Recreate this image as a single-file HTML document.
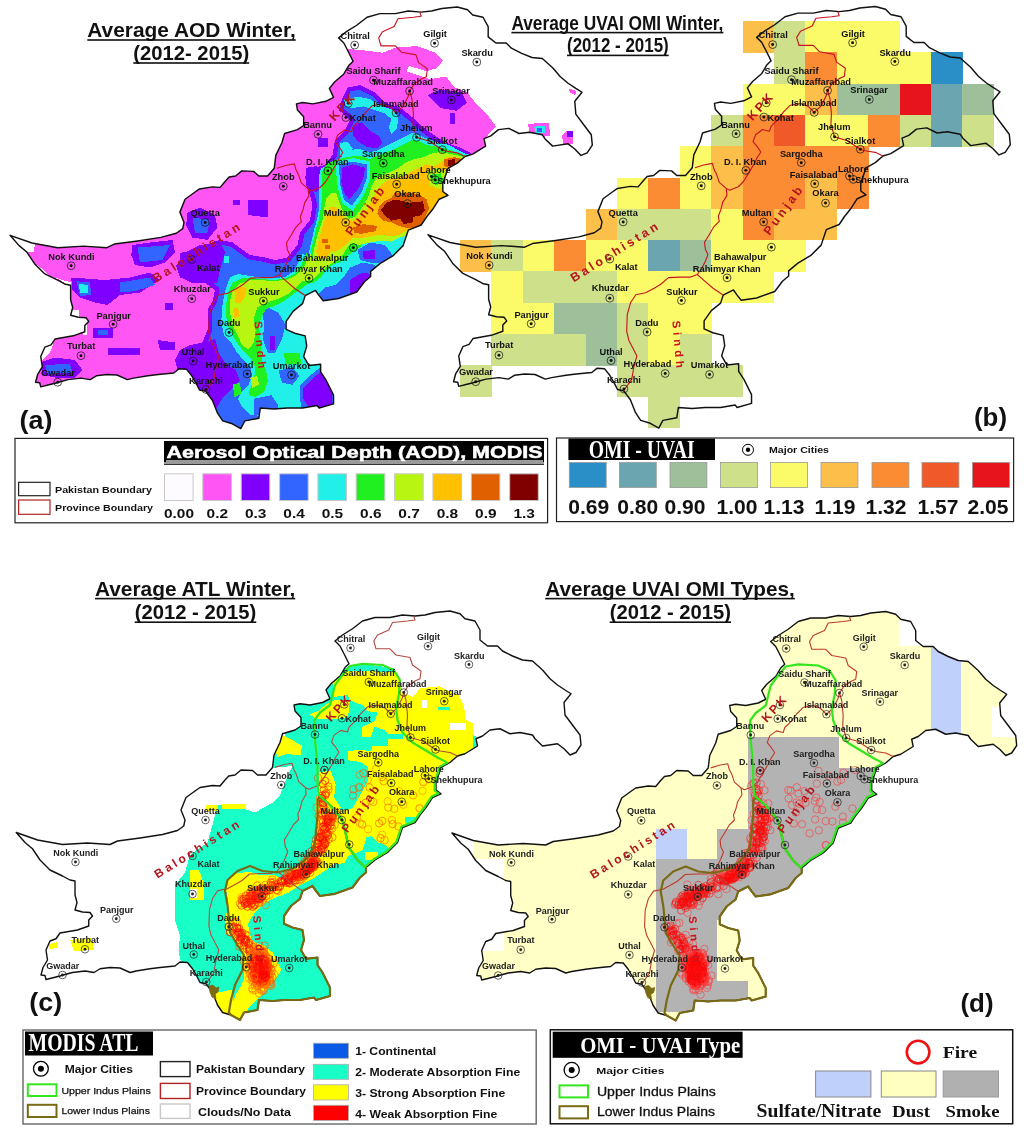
<!DOCTYPE html>
<html><head><meta charset="utf-8"><title>Pakistan aerosol maps</title>
<style>
html,body{margin:0;padding:0;background:#fff}
svg{display:block}
text{font-family:"Liberation Sans",sans-serif}
.b{font-weight:bold}
.ser{font-family:"Liberation Serif",serif;font-weight:bold}
</style></head><body>
<svg width="1024" height="1130" viewBox="0 0 1024 1130">
<rect width="1024" height="1130" fill="#fff"/>
<defs>
<polygon id="pk" points="16.25,832.5 37.5,840 62.5,844.5 87.5,843 110,844.5 117.5,841 140,838 162.5,834.5 177.5,830.5 183.75,826 185,820 181,810 186,797.5 195,791 200,787.5 212.5,785.5 220,786 225,780 228.75,776 235,775 241,770 252.5,770.5 257.5,775 266,775 272.5,767.5 274,755 280,742.5 282.5,733.75 295,730 301,726 301,717.5 295,711 294,705 300,703.75 310,705 322.5,702.5 330,698.75 326,690 331,683.75 340,676 345,667.5 349,663.75 344,653.75 340,646 335,641 342.5,635 352.5,628.75 362.5,621 375,617.5 390,617.5 402.5,615 415,616 425,615 435,612.5 450,611 460,613.75 465,618.75 475,621 480,630 480,640 487.5,646 497.5,646 502.5,651 512.5,656 522.5,660 532.5,661 542.5,670 550,678.75 557.5,685 565,690 571,693.75 564,702.5 565,715 572.5,725 580,735 581,745 576,752.5 570,755 564,748.75 557.5,743.75 542.5,746 535,738.75 532.5,735 520,732.5 510,733.75 500,728.75 490,730 482.5,736 476,738.75 477.5,746 465,753.75 457.5,756 450,762.5 441,767.5 436,782.5 436,790 441,793.75 432.5,797.5 426,807.5 420,815 415,822.5 402.5,827.5 397.5,842.5 387.5,852.5 375,860 366,867.5 366,872.5 360,877.5 352.5,887.5 335,893.75 320,896 316,891 312.5,886 302.5,891 300,898.75 291,906 284,916 284,923.75 292.5,927.5 302.5,930 304,940 301,950 306,958.75 317.5,957.5 317.5,965 322.5,972.5 330,987.5 330,996 316,1000 314,997.5 300,1000 285,1000 272.5,1001 259,1000 257.5,1010 244,1012.5 240,1020 231,1015 222.5,1012.5 217.5,1005 212.5,992.5 206,983.75 200,982.5 197.5,977.5 192.5,968.75 187.5,962.5 180,962 175,966 160,967.5 150,968.75 136,971 130,972.5 120,968 110,967.5 100,968.75 94,972.5 85,971 72.5,972.5 65,974.5 60,976 54,977.5 46,979.5 45,975.5 41,975 43,967.5 47.5,960 46,950 50,941 56,938.75 60,933 77.5,930 88.75,926 88.75,920 92.5,916 90,912.5 82.5,912 75,910 77,902.5 75,895 75,881 70,880 62.5,876 50,870 40,860 32.5,848.75 25,842.5"/>
<clipPath id="cpk"><use href="#pk"/></clipPath>
</defs>

<defs><clipPath id="cpa"><use href="#pk" transform="matrix(1.031 0 0 1.031 -6.7 -623)"/></clipPath><clipPath id="cpd"><use href="#pk" transform="matrix(1 0 0 1 435.7 0.5)"/></clipPath><clipPath id="cpc"><use href="#pk" transform="matrix(1 0 0 1 0 0)"/></clipPath></defs>
<g clip-path="url(#cpa)" shape-rendering="crispEdges"><rect x="0" y="0" width="600" height="440" fill="#ff55f5"/>
<polygon fill="#ffffff" points="330.0,39.6 345.8,48.8 361.6,50.1 382.7,52.7 395.9,47.5 417.0,46.1 435.5,52.7 443.4,60.6 435.5,68.6 426.2,71.2 409.1,65.9 406.5,71.2 422.3,76.5 430.2,79.1 446.0,76.5 453.9,87.0 467.1,92.3 477.7,105.5 488.2,116.0 496.1,126.6 488.2,134.5 484.2,142.4 514.6,131.8 600.0,163.5 600.0,-5.3 330.0,-5.3"/>
<polygon fill="#ff55f5" points="527.8,123.9 548.8,122.6 550.2,135.8 540.9,137.1 530.4,135.8"/>
<polygon fill="#20f0e8" points="534.3,126.6 544.9,126.0 544.9,133.2 535.7,133.2"/>
<polygon fill="#3264ff" points="537.0,127.9 542.3,127.9 542.3,131.8 537.0,131.8"/>
<polygon fill="#ff55f5" points="562.0,135.8 567.3,130.5 572.6,131.8 572.6,143.7 563.3,143.7"/>
<polygon fill="#8000ff" points="567.3,131.3 572.6,131.3 572.6,137.1 567.3,137.1"/>
<polygon fill="#ff55f5" points="568.6,88.3 576.5,91.0 575.2,94.9 569.9,92.8"/>
<polygon fill="#8000ff" points="427.6,94.9 440.7,89.6 461.8,92.3 467.1,102.8 456.6,110.7 440.7,108.1 434.2,101.5"/>
<polygon fill="#8000ff" points="450.0,113.4 455.2,113.4 455.2,123.9 450.0,123.9"/>
<polygon fill="#8000ff" points="71.2,277.5 105.0,280.0 130.0,277.5 150.0,272.5 160.0,280.0 140.0,292.5 120.0,295.0 107.5,305.0 95.0,302.5 80.0,297.5 72.5,290.0"/>
<polygon fill="#3264ff" points="76.2,281.2 90.0,282.5 91.2,295.0 80.0,296.2"/>
<polygon fill="#20f0e8" points="78.8,283.8 87.5,285.0 87.5,292.5 80.0,292.5"/>
<polygon fill="#3264ff" points="120.0,282.5 150.0,277.5 155.0,285.0 135.0,291.2 120.0,292.5"/>
<polygon fill="#8000ff" points="132.5,245.0 150.0,242.5 172.5,240.0 175.0,252.5 165.0,262.5 150.0,267.5 135.0,265.0 131.2,255.0"/>
<polygon fill="#3264ff" points="137.5,247.5 170.0,245.0 162.5,260.0 140.0,262.5"/>
<polygon fill="#8000ff" points="187.5,212.5 200.0,207.5 215.0,215.0 217.5,227.5 207.5,240.0 192.5,237.5 186.2,225.0"/>
<polygon fill="#3264ff" points="192.5,217.5 210.0,220.0 207.5,232.5 195.0,232.5"/>
<polygon fill="#8000ff" points="92.5,327.5 112.5,327.5 112.5,337.5 92.5,337.5"/>
<polygon fill="#3264ff" points="97.5,330.0 107.5,330.0 107.5,335.0 97.5,335.0"/>
<polygon fill="#8000ff" points="40.0,362.5 55.0,357.5 75.0,360.0 82.5,370.0 75.0,377.5 55.0,377.5 42.5,375.0"/>
<polygon fill="#3264ff" points="45.0,365.0 70.0,363.8 72.5,372.5 47.5,373.8"/>
<polygon fill="#8000ff" points="107.5,347.5 140.0,347.5 140.0,355.0 107.5,355.0"/>
<polygon fill="#8000ff" points="157.5,340.0 175.0,342.5 175.0,350.0 160.0,350.0"/>
<polygon fill="#8000ff" points="165.0,302.5 172.5,302.5 172.5,310.0 165.0,310.0"/>
<polygon fill="#8000ff" points="247.5,200.0 267.5,200.0 267.5,217.5 247.5,215.0"/>
<polygon fill="#8000ff" points="232.5,200.0 240.0,200.0 240.0,205.0 232.5,205.0"/>
<polygon fill="#ffffff" points="7.5,232.5 35.0,243.8 33.8,252.5 23.8,251.2 15.0,242.5"/>
<polygon fill="#ffffff" points="35.0,262.5 50.0,276.2 71.2,282.5 71.2,287.5 60.0,280.0 45.0,275.0"/>
<polygon fill="#ffffff" points="35.0,345.0 53.8,342.5 50.0,352.5 42.5,360.0 37.5,367.5 32.5,367.5"/>
<polygon fill="#ffffff" points="70.0,310.0 78.8,310.0 78.8,317.5 86.2,317.5 87.5,335.0 82.5,335.0 82.5,320.0 70.0,320.0"/>
<polygon fill="#8000ff" points="475.0,156.2 470.0,152.5 460.0,147.5 445.0,142.5 430.0,132.5 420.0,125.0 412.5,117.5 400.0,107.5 385.0,102.5 375.0,92.5 360.0,85.0 347.5,87.5 342.5,97.5 338.8,110.0 350.0,120.0 345.0,130.0 335.0,140.0 332.5,155.0 325.0,165.0 315.0,167.5 307.5,172.5 306.2,185.0 310.0,195.0 312.5,205.0 310.0,220.0 300.0,232.5 297.5,245.0 287.5,257.5 275.0,260.0 265.0,257.5 250.0,255.0 232.5,242.5 220.0,240.0 212.0,242.0 205.0,250.0 190.0,255.0 176.0,265.0 180.0,277.0 192.0,283.0 205.0,283.0 215.0,290.0 213.0,300.0 207.5,310.0 207.5,330.0 202.5,342.5 190.0,345.0 180.0,350.0 175.0,360.0 178.0,372.0 170.0,400.0 200.0,450.0 340.0,450.0 480.0,300.0 490.0,170.0"/>
<polygon fill="#3264ff" points="472.1,159.7 467.6,156.3 458.3,151.7 443.6,146.8 443.2,146.6 442.8,146.5 442.5,146.2 427.5,136.2 427.3,136.1 417.3,128.6 416.8,128.2 409.5,120.9 397.8,111.5 383.6,106.8 383.2,106.6 382.8,106.4 382.5,106.2 382.1,106.0 381.8,105.7 372.3,96.2 359.4,89.7 350.5,91.5 346.7,99.2 343.9,108.5 353.0,116.6 353.3,117.0 353.6,117.3 353.9,117.7 354.1,118.1 354.2,118.5 354.4,118.9 354.5,119.4 354.5,119.8 354.5,120.3 354.4,120.7 354.3,121.2 354.2,121.6 354.0,122.0 349.0,132.0 348.8,132.4 348.5,132.8 348.2,133.2 339.2,142.2 336.9,155.7 336.8,156.2 336.7,156.6 336.5,157.0 336.3,157.3 336.1,157.7 328.6,167.7 328.3,168.0 328.0,168.3 327.7,168.6 327.3,168.9 326.9,169.1 326.5,169.2 326.1,169.4 316.8,171.7 311.8,175.1 310.8,184.4 314.2,193.4 314.4,193.9 316.9,203.9 317.0,204.4 317.0,204.8 317.0,205.3 316.9,205.7 314.4,220.7 314.3,221.2 314.2,221.6 314.0,222.0 313.8,222.4 313.5,222.8 304.2,234.5 301.9,245.9 301.8,246.3 301.7,246.7 301.5,247.1 301.3,247.5 301.0,247.8 291.0,260.3 290.7,260.6 290.4,261.0 290.0,261.2 289.6,261.5 289.2,261.6 288.8,261.8 288.4,261.9 275.9,264.4 275.5,264.5 275.1,264.5 274.7,264.5 274.3,264.4 273.9,264.4 264.1,261.9 249.3,259.4 248.9,259.4 248.5,259.2 248.1,259.1 247.7,258.9 247.4,258.7 230.7,246.7 220.1,244.6 214.5,246.0 208.4,253.0 208.1,253.3 207.7,253.6 207.3,253.9 206.9,254.1 206.4,254.3 192.1,259.1 181.3,266.7 183.7,273.8 193.1,278.5 205.0,278.5 205.5,278.5 205.9,278.6 206.4,278.7 206.8,278.9 207.2,279.1 207.6,279.3 217.6,286.3 217.9,286.6 218.2,286.9 218.5,287.2 218.8,287.6 219.0,287.9 219.2,288.3 219.3,288.7 219.4,289.2 219.5,289.6 219.5,290.0 219.5,290.5 219.4,290.9 217.4,300.9 217.3,301.3 217.1,301.8 216.9,302.2 212.0,311.2 212.0,330.0 212.0,330.4 211.9,330.9 211.8,331.3 211.7,331.7 206.7,344.2 206.5,344.6 206.3,345.0 206.0,345.3 205.7,345.7 205.4,346.0 205.0,346.2 204.6,346.5 204.2,346.7 203.8,346.8 203.4,346.9 191.5,349.3 183.4,353.4 179.8,360.5 182.4,370.9 182.5,371.4 182.5,371.8 182.5,372.3 182.4,372.8 182.3,373.2 174.9,399.4 202.5,445.5 338.0,445.5 475.6,298.1 485.3,171.8"/>
<polygon fill="#8000ff" points="352.7,125.7 361.5,122.2 370.3,131.0 379.1,136.2 382.6,143.3 377.3,148.6 366.8,146.8 358.0,141.5 352.7,134.5"/>
<polygon fill="#8000ff" points="306.2,167.9 315.8,166.1 321.1,167.9 318.5,178.4 319.3,189.0 315.8,192.5 308.8,189.0 305.3,178.4"/>
<polygon fill="#8000ff" points="317.6,138.0 328.1,138.0 328.1,146.8 317.6,146.8"/>
<polygon fill="#8000ff" points="202.9,342.5 215.2,339.0 218.7,353.0 225.7,363.6 236.2,370.6 239.8,381.2 232.7,388.2 222.2,398.7 215.2,410.0 197.6,410.0 194.1,388.2 180.0,370.6 180.0,356.6 187.0,351.3 194.1,344.3"/>
<polygon fill="#8000ff" points="180.0,252.9 188.8,251.1 197.6,258.1 195.8,268.7 190.5,277.5 180.0,277.5"/>
<polygon fill="#8000ff" points="180.0,255.0 200.0,245.0 220.0,242.5 225.0,252.5 220.0,270.0 217.5,282.5 200.0,282.5 185.0,277.5"/>
<polygon fill="#20f0e8" points="343.9,99.3 358.0,96.7 370.3,99.3 382.6,106.4 393.2,109.9 398.4,118.7 396.7,129.2 391.4,134.5 388.8,127.5 391.4,118.7 384.4,113.4 373.8,109.9 363.3,106.4 352.7,108.1 345.7,106.4"/>
<polygon fill="#20f0e8" points="339.6,143.3 347.5,141.5 352.7,148.6 347.5,155.6 340.4,155.6"/>
<polygon fill="#20f0e8" points="223.9,256.4 229.2,256.4 229.2,263.4 223.9,263.4"/>
<polygon fill="#20f0e8" points="475.8,155.6 465.2,153.8 458.2,150.3 449.4,145.0 440.6,143.3 430.1,139.8 421.3,136.2 412.5,132.7 405.5,136.2 398.4,139.8 391.4,143.3 384.4,146.8 377.3,150.3 370.3,152.1 363.3,150.3 358.0,148.6 351.0,150.3 343.9,155.6 340.4,157.3 335.2,162.6 328.1,166.1 321.1,167.9 318.5,178.4 319.3,189.0 319.3,199.5 318.5,211.8 316.7,220.6 314.1,229.4 312.3,238.2 309.7,248.7 307.9,260.0 303.0,252.9 297.8,263.4 292.5,272.2 285.5,276.6 274.9,278.3 262.6,277.5 250.3,276.1 238.0,273.9 230.1,277.5 226.6,286.2 223.9,296.8 222.2,307.3 221.3,321.4 223.9,335.5 231.0,342.5 236.2,351.3 243.3,360.1 250.3,367.1 252.1,375.9 248.6,384.7 241.5,391.7 238.0,398.7 241.5,405.8 250.3,414.6 330.0,425.0 350.0,380.0 300.0,330.0 330.0,305.0 380.0,285.0 420.0,262.0 470.0,200.0 490.0,160.0"/>
<polygon fill="#3264ff" points="317.5,295.0 325.0,287.5 335.0,285.0 345.0,275.0 350.0,267.5 362.5,262.5 375.0,265.0 378.8,272.5 372.5,282.5 362.5,292.5 350.0,297.5 335.0,300.0 322.5,302.5"/>
<polygon fill="#8000ff" points="350.0,280.0 362.5,272.5 375.0,275.0 372.5,287.5 360.0,295.0 350.0,292.5"/>
<polygon fill="#3264ff" points="357.5,250.0 370.0,242.5 385.0,245.0 392.5,255.0 385.0,262.5 370.0,262.5 360.0,260.0"/>
<polygon fill="#8000ff" points="362.5,251.2 375.0,250.0 375.0,258.8 363.8,258.8"/>
<polygon fill="#3264ff" points="267.9,307.3 278.4,312.6 285.5,324.9 282.0,339.0 274.9,353.0 267.9,353.0 262.6,339.0 264.4,324.9 262.6,314.4"/>
<polygon fill="#8000ff" points="269.6,335.5 274.9,335.5 274.9,349.5 269.6,349.5"/>
<polygon fill="#3264ff" points="299.5,386.4 311.8,374.1 320.6,367.1 334.7,388.2 334.7,414.6 301.3,414.6"/>
<polygon fill="#8000ff" points="303.0,388.2 313.6,377.7 320.6,372.4 331.2,388.2 332.9,414.6 313.6,414.6 303.0,398.7"/>
<polygon fill="#3264ff" points="278.4,370.6 292.5,367.1 299.5,375.9 292.5,384.7 282.0,382.9"/>
<polygon fill="#3264ff" points="253.8,398.7 271.4,395.2 278.4,405.8 274.9,414.6 253.8,414.6"/>
<polygon fill="#20f020" points="475.8,157.3 465.2,155.6 454.7,152.1 445.9,148.6 437.1,146.8 426.6,145.0 419.5,141.5 412.5,139.8 405.5,143.3 398.4,146.8 391.4,150.3 382.6,153.8 373.8,157.3 370.3,159.1 358.0,155.6 345.7,157.3 335.2,160.0 326.4,164.4 322.0,171.4 322.0,185.5 322.0,199.5 320.2,211.8 318.5,220.6 315.8,229.4 314.1,238.2 311.4,248.7 309.7,260.0 306.6,252.9 301.3,265.2 294.3,273.9 285.5,278.3 274.9,280.1 262.6,279.2 250.3,277.8 241.5,278.3 232.7,282.7 229.2,289.8 226.6,300.3 225.7,312.6 227.5,324.9 232.7,335.5 238.0,344.3 245.0,353.0 252.1,360.1 255.6,368.9 253.8,379.4 250.3,388.2 248.6,395.2 255.6,397.0 264.4,391.7 267.9,381.2 266.1,370.6 262.6,363.6 260.9,353.0 260.9,342.5 259.1,328.4 260.9,317.9 266.1,309.1 274.9,305.6 285.5,300.3 294.3,293.3 301.3,288.9 306.6,284.5 313.6,282.7 320.6,277.5 325.9,270.4 331.2,265.2 340.0,262.0 350.0,254.0 360.0,247.5 365.0,240.0 375.0,237.5 390.0,232.5 400.0,225.0 407.5,215.0 425.0,212.0 445.0,190.0 470.0,172.0 490.0,160.0"/>
<polygon fill="#20f020" points="283.7,353.0 299.5,353.0 301.3,363.6 285.5,363.6"/>
<polygon fill="#20f020" points="232.7,384.7 239.8,382.9 241.5,393.5 234.5,397.0"/>
<polygon fill="#b8f510" points="475.8,159.1 465.2,157.3 458.2,155.6 449.4,153.8 438.9,152.1 430.1,153.8 423.0,157.3 414.3,159.1 405.5,162.6 398.4,167.9 391.4,171.4 382.6,174.9 375.6,178.4 372.1,185.5 368.6,196.0 361.5,208.3 354.5,217.1 349.2,218.9 343.9,213.6 339.6,203.0 336.0,192.5 331.6,192.5 326.4,197.8 324.6,206.6 322.9,218.9 319.3,229.4 316.7,238.2 314.1,248.7 312.3,260.0 310.1,252.9 304.8,265.2 296.0,275.7 285.5,280.1 271.4,281.0 260.9,280.1 250.3,280.1 239.8,283.6 232.7,290.6 230.1,300.3 230.1,312.6 232.7,324.9 238.0,335.5 241.5,344.3 248.6,349.5 253.8,342.5 255.6,330.2 253.8,317.9 257.3,307.3 267.9,302.1 278.4,298.6 289.0,293.3 296.0,287.1 303.0,281.0 311.8,280.1 318.9,273.9 325.9,267.8 332.9,262.5 337.7,259.9 337.8,260.0 342.2,255.8 347.5,247.0 352.7,242.6 358.0,245.2 365.0,243.5 373.8,241.7 382.6,240.8 391.4,241.7 398.4,238.2 407.2,234.7 420.0,235.0 440.0,200.0 470.0,175.0 490.0,160.0"/>
<polygon fill="#b8f510" points="250.3,377.7 257.3,375.9 259.1,384.7 252.1,388.2"/>
<polygon fill="#ffc000" points="475.8,160.0 463.5,159.1 454.7,157.3 445.9,157.3 440.6,162.6 433.6,166.1 426.6,164.4 419.5,167.9 412.5,171.4 405.5,174.9 398.4,178.4 391.4,178.4 384.4,182.0 377.3,189.0 372.1,199.5 366.8,210.1 359.8,217.1 352.7,220.6 345.7,218.9 340.4,213.6 335.2,206.6 329.9,206.6 326.4,215.3 322.9,225.9 319.3,238.2 316.7,248.7 314.9,260.0 317.1,251.1 318.9,258.1 325.9,259.0 331.2,251.1 335.2,252.3 345.7,245.2 352.7,238.2 361.5,238.2 370.3,236.4 379.1,234.7 391.4,236.4 400.2,234.7 405.5,231.2 412.5,231.2 420.0,225.0 445.0,195.0 470.0,172.0 490.0,160.0"/>
<polygon fill="#ffc000" points="234.5,291.5 239.8,286.2 246.8,288.0 245.0,296.8 239.8,303.8 235.4,302.1"/>
<polygon fill="#ffc000" points="232.7,309.1 238.0,307.3 239.8,316.1 234.5,317.9"/>
<polygon fill="#b8f510" points="426.6,171.4 437.1,167.9 445.9,171.4 447.7,183.7 438.9,189.0 430.1,185.5"/>
<polygon fill="#20f020" points="430.1,174.9 440.6,173.2 444.1,182.0 435.3,185.5"/>
<polygon fill="#e06000" points="379.1,206.6 384.4,201.3 391.4,197.8 394.9,192.5 405.5,192.5 419.5,194.3 426.6,199.5 429.2,208.3 424.8,217.1 421.3,225.9 409.0,228.5 398.4,225.9 391.4,222.4 382.6,220.6 377.3,213.6"/>
<polygon fill="#e06000" points="352.7,227.7 363.3,224.1 377.3,225.9 375.6,231.2 361.5,233.8 354.5,232.9"/>
<polygon fill="#e06000" points="444.1,159.1 454.7,157.3 462.6,159.1 458.2,164.4 449.4,167.9 444.1,166.1"/>
<polygon fill="#e06000" points="322.0,239.1 328.1,239.1 328.1,242.6 322.0,242.6"/>
<polygon fill="#e06000" points="324.6,245.2 329.9,245.2 329.9,248.7 324.6,248.7"/>
<polygon fill="#800000" points="380.9,210.1 386.1,203.0 394.9,199.5 403.7,201.3 407.2,203.0 423.0,201.3 424.8,210.1 421.3,215.3 412.5,217.1 412.5,222.4 403.7,224.1 400.2,218.9 391.4,220.6 384.4,215.3"/>
<polygon fill="#800000" points="447.7,160.0 454.7,159.1 454.7,164.4 448.5,166.1"/>
<polygon fill="#20f0e8" points="336.0,161.7 352.7,158.2 370.3,161.2 370.3,178.4 364.2,194.3 352.7,211.0 342.2,203.0 337.8,187.2 336.0,171.4"/>
<polygon fill="#3264ff" points="338.7,164.4 352.7,161.7 366.8,164.4 366.8,178.4 361.5,192.5 351.9,205.7 343.9,199.5 340.4,185.5"/>
<polygon fill="#8000ff" points="342.2,167.9 352.7,164.4 365.0,167.9 363.3,178.4 358.0,189.0 349.2,199.5 343.9,192.5 341.3,182.0"/>
</g>
<g shape-rendering="crispEdges">
<rect x="742.6" y="21.0" width="31.7" height="31.6" fill="#fcc04a"/>
<rect x="774.0" y="21.0" width="31.7" height="31.6" fill="#cfe08a"/>
<rect x="805.4" y="21.0" width="31.7" height="31.6" fill="#fbfb6a"/>
<rect x="836.8" y="21.0" width="31.7" height="31.6" fill="#fbfb6a"/>
<rect x="868.2" y="21.0" width="31.7" height="31.6" fill="#fbfb6a"/>
<rect x="774.0" y="52.3" width="31.7" height="31.6" fill="#cfe08a"/>
<rect x="805.4" y="52.3" width="31.7" height="31.6" fill="#fb8c34"/>
<rect x="836.8" y="52.3" width="31.7" height="31.6" fill="#fbfb6a"/>
<rect x="868.2" y="52.3" width="31.7" height="31.6" fill="#fbfb6a"/>
<rect x="899.6" y="52.3" width="31.7" height="31.6" fill="#fbfb6a"/>
<rect x="931.0" y="52.3" width="31.7" height="31.6" fill="#2a8fc7"/>
<rect x="742.6" y="83.6" width="31.7" height="31.6" fill="#fbfb6a"/>
<rect x="774.0" y="83.6" width="31.7" height="31.6" fill="#fbfb6a"/>
<rect x="805.4" y="83.6" width="31.7" height="31.6" fill="#fcc04a"/>
<rect x="836.8" y="83.6" width="31.7" height="31.6" fill="#9dc09b"/>
<rect x="868.2" y="83.6" width="31.7" height="31.6" fill="#9dc09b"/>
<rect x="899.6" y="83.6" width="31.7" height="31.6" fill="#e8141c"/>
<rect x="931.0" y="83.6" width="31.7" height="31.6" fill="#6ba5b0"/>
<rect x="962.4" y="83.6" width="31.7" height="31.6" fill="#9dc09b"/>
<rect x="711.2" y="114.9" width="31.7" height="31.6" fill="#cfe08a"/>
<rect x="742.6" y="114.9" width="31.7" height="31.6" fill="#fb8c34"/>
<rect x="774.0" y="114.9" width="31.7" height="31.6" fill="#f05a28"/>
<rect x="805.4" y="114.9" width="31.7" height="31.6" fill="#fbfb6a"/>
<rect x="836.8" y="114.9" width="31.7" height="31.6" fill="#fbfb6a"/>
<rect x="868.2" y="114.9" width="31.7" height="31.6" fill="#fb8c34"/>
<rect x="899.6" y="114.9" width="31.7" height="31.6" fill="#cfe08a"/>
<rect x="931.0" y="114.9" width="31.7" height="31.6" fill="#6ba5b0"/>
<rect x="962.4" y="114.9" width="31.7" height="31.6" fill="#cfe08a"/>
<rect x="679.8" y="146.2" width="31.7" height="31.6" fill="#fbfb6a"/>
<rect x="711.2" y="146.2" width="31.7" height="31.6" fill="#fcc04a"/>
<rect x="742.6" y="146.2" width="31.7" height="31.6" fill="#fb8c34"/>
<rect x="774.0" y="146.2" width="31.7" height="31.6" fill="#fb8c34"/>
<rect x="805.4" y="146.2" width="31.7" height="31.6" fill="#fb8c34"/>
<rect x="836.8" y="146.2" width="31.7" height="31.6" fill="#fb8c34"/>
<rect x="617.0" y="177.5" width="31.7" height="31.6" fill="#fbfb6a"/>
<rect x="648.4" y="177.5" width="31.7" height="31.6" fill="#fb8c34"/>
<rect x="679.8" y="177.5" width="31.7" height="31.6" fill="#fbfb6a"/>
<rect x="711.2" y="177.5" width="31.7" height="31.6" fill="#fcc04a"/>
<rect x="742.6" y="177.5" width="31.7" height="31.6" fill="#fb8c34"/>
<rect x="774.0" y="177.5" width="31.7" height="31.6" fill="#fb8c34"/>
<rect x="805.4" y="177.5" width="31.7" height="31.6" fill="#fcc04a"/>
<rect x="836.8" y="177.5" width="31.7" height="31.6" fill="#fb8c34"/>
<rect x="585.6" y="208.8" width="31.7" height="31.6" fill="#fcc04a"/>
<rect x="617.0" y="208.8" width="31.7" height="31.6" fill="#cfe08a"/>
<rect x="648.4" y="208.8" width="31.7" height="31.6" fill="#cfe08a"/>
<rect x="679.8" y="208.8" width="31.7" height="31.6" fill="#cfe08a"/>
<rect x="711.2" y="208.8" width="31.7" height="31.6" fill="#fbfb6a"/>
<rect x="742.6" y="208.8" width="31.7" height="31.6" fill="#fb8c34"/>
<rect x="774.0" y="208.8" width="31.7" height="31.6" fill="#fcc04a"/>
<rect x="805.4" y="208.8" width="31.7" height="31.6" fill="#fcc04a"/>
<rect x="460.0" y="240.1" width="31.7" height="31.6" fill="#fcc04a"/>
<rect x="491.4" y="240.1" width="31.7" height="31.6" fill="#cfe08a"/>
<rect x="522.8" y="240.1" width="31.7" height="31.6" fill="#fbfb6a"/>
<rect x="554.2" y="240.1" width="31.7" height="31.6" fill="#fb8c34"/>
<rect x="585.6" y="240.1" width="31.7" height="31.6" fill="#fbfb6a"/>
<rect x="617.0" y="240.1" width="31.7" height="31.6" fill="#fbfb6a"/>
<rect x="648.4" y="240.1" width="31.7" height="31.6" fill="#6ba5b0"/>
<rect x="679.8" y="240.1" width="31.7" height="31.6" fill="#9dc09b"/>
<rect x="711.2" y="240.1" width="31.7" height="31.6" fill="#fbfb6a"/>
<rect x="742.6" y="240.1" width="31.7" height="31.6" fill="#fbfb6a"/>
<rect x="774.0" y="240.1" width="31.7" height="31.6" fill="#fbfb6a"/>
<rect x="491.4" y="271.4" width="31.7" height="31.6" fill="#fbfb6a"/>
<rect x="522.8" y="271.4" width="31.7" height="31.6" fill="#cfe08a"/>
<rect x="554.2" y="271.4" width="31.7" height="31.6" fill="#cfe08a"/>
<rect x="585.6" y="271.4" width="31.7" height="31.6" fill="#cfe08a"/>
<rect x="617.0" y="271.4" width="31.7" height="31.6" fill="#fbfb6a"/>
<rect x="648.4" y="271.4" width="31.7" height="31.6" fill="#fbfb6a"/>
<rect x="679.8" y="271.4" width="31.7" height="31.6" fill="#fbfb6a"/>
<rect x="711.2" y="271.4" width="31.7" height="31.6" fill="#fbfb6a"/>
<rect x="742.6" y="271.4" width="31.7" height="31.6" fill="#fbfb6a"/>
<rect x="491.4" y="302.7" width="31.7" height="31.6" fill="#fbfb6a"/>
<rect x="522.8" y="302.7" width="31.7" height="31.6" fill="#fbfb6a"/>
<rect x="554.2" y="302.7" width="31.7" height="31.6" fill="#9dc09b"/>
<rect x="585.6" y="302.7" width="31.7" height="31.6" fill="#9dc09b"/>
<rect x="617.0" y="302.7" width="31.7" height="31.6" fill="#cfe08a"/>
<rect x="648.4" y="302.7" width="31.7" height="31.6" fill="#fbfb6a"/>
<rect x="679.8" y="302.7" width="31.7" height="31.6" fill="#fbfb6a"/>
<rect x="491.4" y="334.0" width="31.7" height="31.6" fill="#cfe08a"/>
<rect x="522.8" y="334.0" width="31.7" height="31.6" fill="#cfe08a"/>
<rect x="554.2" y="334.0" width="31.7" height="31.6" fill="#cfe08a"/>
<rect x="585.6" y="334.0" width="31.7" height="31.6" fill="#9dc09b"/>
<rect x="617.0" y="334.0" width="31.7" height="31.6" fill="#cfe08a"/>
<rect x="648.4" y="334.0" width="31.7" height="31.6" fill="#fbfb6a"/>
<rect x="679.8" y="334.0" width="31.7" height="31.6" fill="#cfe08a"/>
<rect x="460.0" y="365.3" width="31.7" height="31.6" fill="#cfe08a"/>
<rect x="617.0" y="365.3" width="31.7" height="31.6" fill="#cfe08a"/>
<rect x="648.4" y="365.3" width="31.7" height="31.6" fill="#cfe08a"/>
<rect x="679.8" y="365.3" width="31.7" height="31.6" fill="#cfe08a"/>
<rect x="711.2" y="365.3" width="31.7" height="31.6" fill="#cfe08a"/>
<rect x="648.4" y="396.6" width="31.7" height="31.6" fill="#cfe08a"/>
</g>
<g clip-path="url(#cpc)" shape-rendering="crispEdges">
<polygon points="345.0,668.0 320.0,690.0 285.0,700.0 285.0,735.0 268.0,760.0 270.0,768.0 292.5,766.0 286.0,780.0 280.0,795.0 272.5,802.5 255.0,812.5 240.0,807.5 222.5,805.0 217.5,805.0 212.5,825.0 207.5,842.5 190.0,855.0 185.0,872.5 175.0,885.0 175.0,900.0 175.0,920.0 180.0,935.0 178.8,950.0 180.0,960.0 185.0,965.0 190.0,990.0 230.0,1030.0 340.0,1010.0 340.0,900.0 380.0,880.0 440.0,800.0 470.0,770.0 480.0,740.0 430.0,700.0 404.0,700.0 400.0,680.0 394.0,668.0 362.0,664.0" fill="#19ffc8"/>
<polygon points="348.0,670.5 397.2,672.3 402.5,692.5 413.0,696.9 420.1,688.1 439.4,686.4 458.7,695.2 464.0,705.7 465.8,719.8 472.8,723.3 472.8,758.4 448.2,769.0 441.2,774.3 450.0,790.0 430.0,830.0 400.0,852.0 390.0,848.8 383.8,844.0 377.5,842.5 371.2,836.2 365.0,837.8 358.8,845.6 352.5,842.5 349.0,846.0 345.0,858.0 335.0,864.0 324.0,871.0 312.0,862.0 312.0,845.0 316.0,830.0 316.0,800.0 317.5,790.0 321.2,789.4 329.0,792.5 333.8,801.9 341.6,811.2 352.5,808.1 358.8,797.2 363.4,789.4 368.2,779.5 368.2,767.2 360.3,762.0 348.0,760.2 348.0,751.4 360.3,749.6 370.9,751.4 372.6,746.1 388.4,746.1 388.4,739.1 402.5,739.1 402.5,733.8 388.4,733.8 384.9,730.3 374.4,726.8 370.9,737.3 362.1,737.3 362.1,726.8 374.4,721.5 377.9,712.7 367.3,711.0 363.8,705.7 349.8,700.4 348.0,695.2 333.9,696.9 332.2,681.1 342.7,675.8" fill="#ffff00"/>
<polygon points="309.3,714.5 318.1,711.0 326.9,703.9 333.9,700.4 349.8,700.4 348.0,718.0 332.2,718.9 316.4,718.9" fill="#ffff00"/>
<polygon points="275.1,740.5 283.5,735.4 302.0,745.5 300.4,755.6 286.9,753.9 276.8,757.3" fill="#ffff00"/>
<polygon points="318.9,772.4 330.6,770.7 335.7,784.2 334.0,797.6 340.7,807.7 334.0,811.1 318.9,797.6" fill="#ffff00"/>
<polygon points="406.0,677.6 420.1,677.6 420.1,688.1 413.0,696.6 406.0,693.4" fill="#fff"/>
<polygon points="421.8,700.4 427.1,700.4 427.1,707.5 421.8,707.5" fill="#fff"/>
<polygon points="450.0,723.3 465.8,723.3 465.8,730.3 450.0,730.3" fill="#fff"/>
<polygon points="404.8,816.7 415.0,816.7 415.0,823.0 404.8,823.0" fill="#19ffc8"/>
<polygon points="365.0,852.0 377.5,852.0 377.5,859.7 365.0,859.7" fill="#ffff00"/>
<polygon points="206.0,805.0 218.0,805.0 218.0,811.0 206.0,811.0" fill="#ffff00"/>
<polygon points="222.0,804.0 246.0,804.0 246.0,809.0 222.0,809.0" fill="#ffff00"/>
<polygon points="70.0,940.0 92.0,938.0 94.0,950.0 74.0,951.0" fill="#ffff00"/>
<polygon points="49.0,944.0 58.0,942.0 58.0,948.0 49.0,949.0" fill="#ffff00"/>
<polygon points="437.7,706.6 450.0,706.6 450.0,710.1 437.7,710.1" fill="#19ffc8"/>
<polygon points="226.9,880.4 235.7,873.4 249.8,871.6 260.3,875.2 274.4,875.2 281.4,878.7 288.4,873.4 295.5,868.1 309.5,857.6 316.6,847.0 320.1,840.0 320.1,818.9 365.8,818.9 365.8,840.0 362.3,850.5 348.2,855.8 344.7,862.9 334.1,864.6 323.6,871.6 313.0,878.7 299.0,885.7 288.4,892.7 274.4,898.0 263.8,903.3 256.8,910.3 251.5,917.3 248.0,924.4 249.8,934.9 253.3,942.0 263.8,945.5 272.6,952.5 277.9,963.0 281.4,970.1 274.4,980.6 267.3,989.4 260.3,996.4 255.0,1001.7 248.0,1008.7 242.7,1020.0 230.4,1020.0 232.2,1005.2 235.7,994.7 241.0,985.9 244.5,977.1 242.7,963.0 241.0,952.5 237.5,945.5 232.2,938.4 226.9,931.4 225.2,920.9 226.9,910.3 227.8,898.0 226.0,889.2" fill="#ffff00"/>
<polygon points="216.4,992.9 232.2,989.4 233.9,1005.2 230.4,1015.8 219.9,1012.3 216.4,1001.7" fill="#ffff00"/>
<polygon points="190.0,869.9 198.8,869.9 204.1,883.9 204.1,899.8 190.0,899.8" fill="#ffff00"/>
<polygon points="190.0,889.2 197.0,889.2 197.0,898.0 190.0,898.0" fill="#fff"/>
</g>
<g clip-path="url(#cpc)"><g fill="none" stroke-width="0.75" stroke-opacity="0.85">
<polyline points="313.0,862.9 302.5,871.6 293.7,876.9 286.7,880.4" stroke="#ff1a00" stroke-width="4" stroke-linecap="round" opacity="0.45"/>
<ellipse cx="260.7" cy="969.2" rx="9" ry="16" fill="#ff0800" stroke="none" opacity="0.85"/>
<polyline points="327.1,813.6 323.6,829.5" stroke="#ff3000" stroke-width="4" stroke-linecap="round" opacity="0.2"/>
<circle cx="304.2" cy="876.3" r="3.7" stroke="#ff2a00"/>
<circle cx="311.7" cy="851.1" r="3.7" stroke="#ff0000"/>
<circle cx="314.9" cy="850.5" r="3.7" stroke="#ff0000"/>
<circle cx="293.0" cy="877.9" r="3.7" stroke="#ff0000"/>
<circle cx="293.2" cy="875.0" r="3.7" stroke="#f00000"/>
<circle cx="301.3" cy="858.0" r="3.7" stroke="#ff8a00"/>
<circle cx="269.9" cy="890.2" r="3.7" stroke="#ff6a00"/>
<circle cx="318.6" cy="847.0" r="3.7" stroke="#ff0000"/>
<circle cx="315.0" cy="860.7" r="3.7" stroke="#f00000"/>
<circle cx="259.7" cy="899.5" r="3.7" stroke="#ff3a00"/>
<circle cx="269.6" cy="890.0" r="3.7" stroke="#ff0000"/>
<circle cx="318.4" cy="852.0" r="3.7" stroke="#f00000"/>
<circle cx="266.4" cy="890.0" r="3.7" stroke="#ff0000"/>
<circle cx="274.6" cy="885.0" r="3.7" stroke="#f00000"/>
<circle cx="258.5" cy="891.0" r="3.7" stroke="#ff1400"/>
<circle cx="270.8" cy="882.2" r="3.7" stroke="#ff8a00"/>
<circle cx="262.6" cy="901.8" r="3.7" stroke="#ff8a00"/>
<circle cx="307.8" cy="859.4" r="3.7" stroke="#ff3a00"/>
<circle cx="310.9" cy="859.1" r="3.7" stroke="#ff1400"/>
<circle cx="271.0" cy="882.7" r="3.7" stroke="#ff2a00"/>
<circle cx="249.6" cy="902.7" r="3.7" stroke="#ff2a00"/>
<circle cx="273.2" cy="882.2" r="3.7" stroke="#ff3a00"/>
<circle cx="259.6" cy="894.1" r="3.7" stroke="#ff3a00"/>
<circle cx="276.7" cy="890.0" r="3.7" stroke="#ff0000"/>
<circle cx="279.8" cy="886.5" r="3.7" stroke="#ff6a00"/>
<circle cx="299.6" cy="873.3" r="3.7" stroke="#ff3a00"/>
<circle cx="315.1" cy="847.9" r="3.7" stroke="#ff0000"/>
<circle cx="320.1" cy="858.5" r="3.7" stroke="#ff8a00"/>
<circle cx="313.3" cy="861.1" r="3.7" stroke="#f00000"/>
<circle cx="256.2" cy="899.0" r="3.7" stroke="#ff3a00"/>
<circle cx="286.6" cy="877.4" r="3.7" stroke="#ff6a00"/>
<circle cx="252.4" cy="900.7" r="3.7" stroke="#ff3a00"/>
<circle cx="305.4" cy="866.8" r="3.7" stroke="#ff6a00"/>
<circle cx="313.4" cy="861.6" r="3.7" stroke="#f00000"/>
<circle cx="302.2" cy="866.3" r="3.7" stroke="#ff0000"/>
<circle cx="310.0" cy="868.3" r="3.7" stroke="#ff2a00"/>
<circle cx="288.0" cy="870.1" r="3.7" stroke="#ff8a00"/>
<circle cx="263.1" cy="888.4" r="3.7" stroke="#ff2a00"/>
<circle cx="278.0" cy="891.1" r="3.7" stroke="#ff6a00"/>
<circle cx="265.9" cy="888.2" r="3.7" stroke="#ff4a00"/>
<circle cx="293.6" cy="876.5" r="3.7" stroke="#ff0000"/>
<circle cx="274.9" cy="886.8" r="3.7" stroke="#ff0000"/>
<circle cx="310.8" cy="866.9" r="3.7" stroke="#ff0000"/>
<circle cx="318.5" cy="850.1" r="3.7" stroke="#f00000"/>
<circle cx="313.7" cy="855.3" r="3.7" stroke="#ff1400"/>
<circle cx="250.4" cy="895.5" r="3.7" stroke="#ff0000"/>
<circle cx="304.3" cy="870.5" r="3.7" stroke="#ff1400"/>
<circle cx="320.8" cy="846.3" r="3.7" stroke="#ff8a00"/>
<circle cx="286.8" cy="878.8" r="3.7" stroke="#f00000"/>
<circle cx="312.6" cy="857.3" r="3.7" stroke="#ff0000"/>
<circle cx="256.8" cy="895.9" r="3.7" stroke="#ff0000"/>
<circle cx="244.0" cy="901.2" r="3.7" stroke="#f00000"/>
<circle cx="286.4" cy="882.9" r="3.7" stroke="#ff3a00"/>
<circle cx="248.3" cy="898.8" r="3.7" stroke="#ff2a00"/>
<circle cx="304.4" cy="869.9" r="3.7" stroke="#ff1400"/>
<circle cx="254.7" cy="891.5" r="3.7" stroke="#ff8a00"/>
<circle cx="301.5" cy="879.1" r="3.7" stroke="#ff8a00"/>
<circle cx="248.2" cy="898.2" r="3.7" stroke="#ff4a00"/>
<circle cx="257.1" cy="891.9" r="3.7" stroke="#ff1400"/>
<circle cx="283.3" cy="881.7" r="3.7" stroke="#ff0000"/>
<circle cx="316.6" cy="850.9" r="3.7" stroke="#f00000"/>
<circle cx="272.7" cy="887.9" r="3.7" stroke="#ff3a00"/>
<circle cx="257.1" cy="899.8" r="3.7" stroke="#ff4a00"/>
<circle cx="297.9" cy="876.7" r="3.7" stroke="#ff0000"/>
<circle cx="311.2" cy="868.1" r="3.7" stroke="#ff2a00"/>
<circle cx="252.2" cy="894.2" r="3.7" stroke="#ff3a00"/>
<circle cx="272.4" cy="885.5" r="3.7" stroke="#ff1400"/>
<circle cx="277.1" cy="883.7" r="3.7" stroke="#ff6a00"/>
<circle cx="261.0" cy="892.3" r="3.7" stroke="#ff1400"/>
<circle cx="256.4" cy="899.9" r="3.7" stroke="#ff8a00"/>
<circle cx="241.5" cy="905.5" r="3.7" stroke="#ff0000"/>
<circle cx="246.1" cy="898.9" r="3.7" stroke="#f00000"/>
<circle cx="318.4" cy="864.0" r="3.7" stroke="#ff4a00"/>
<circle cx="262.9" cy="900.3" r="3.7" stroke="#ff8a00"/>
<circle cx="242.1" cy="900.5" r="3.7" stroke="#ff1400"/>
<circle cx="281.6" cy="882.8" r="3.7" stroke="#ff0000"/>
<circle cx="241.9" cy="899.0" r="3.7" stroke="#ff3a00"/>
<circle cx="240.0" cy="903.6" r="3.7" stroke="#ff4a00"/>
<circle cx="257.3" cy="898.0" r="3.7" stroke="#ff1400"/>
<circle cx="303.7" cy="875.2" r="3.7" stroke="#ff2a00"/>
<circle cx="304.3" cy="869.0" r="3.7" stroke="#ff0000"/>
<circle cx="246.4" cy="902.2" r="3.7" stroke="#ff2a00"/>
<circle cx="281.5" cy="881.5" r="3.7" stroke="#ff0000"/>
<circle cx="243.6" cy="899.2" r="3.7" stroke="#ff0000"/>
<circle cx="287.7" cy="881.7" r="3.7" stroke="#ff2a00"/>
<circle cx="317.5" cy="861.8" r="3.7" stroke="#ff4a00"/>
<circle cx="304.6" cy="861.8" r="3.7" stroke="#ff3a00"/>
<circle cx="278.2" cy="887.0" r="3.7" stroke="#ff0000"/>
<circle cx="280.9" cy="880.8" r="3.7" stroke="#f00000"/>
<circle cx="280.1" cy="886.1" r="3.7" stroke="#ff0000"/>
<circle cx="256.4" cy="892.7" r="3.7" stroke="#ff0000"/>
<circle cx="266.3" cy="890.2" r="3.7" stroke="#ff0000"/>
<circle cx="270.6" cy="885.0" r="3.7" stroke="#ff0000"/>
<circle cx="263.7" cy="890.5" r="3.7" stroke="#ff2a00"/>
<circle cx="293.2" cy="876.9" r="3.7" stroke="#ff3a00"/>
<circle cx="254.9" cy="896.0" r="3.7" stroke="#ff0000"/>
<circle cx="287.3" cy="880.1" r="3.7" stroke="#ff8a00"/>
<circle cx="316.0" cy="860.8" r="3.7" stroke="#ff0000"/>
<circle cx="315.6" cy="853.5" r="3.7" stroke="#ff0000"/>
<circle cx="272.3" cy="879.6" r="3.7" stroke="#ff4a00"/>
<circle cx="308.5" cy="862.3" r="3.7" stroke="#ff2a00"/>
<circle cx="314.6" cy="861.2" r="3.7" stroke="#ff6a00"/>
<circle cx="310.2" cy="866.6" r="3.7" stroke="#ff3a00"/>
<circle cx="305.9" cy="872.2" r="3.7" stroke="#ff6a00"/>
<circle cx="306.2" cy="867.4" r="3.7" stroke="#ff0000"/>
<circle cx="305.5" cy="871.9" r="3.7" stroke="#ff0000"/>
<circle cx="297.8" cy="876.8" r="3.7" stroke="#ff2a00"/>
<circle cx="304.6" cy="872.1" r="3.7" stroke="#ff1400"/>
<circle cx="296.3" cy="874.7" r="3.7" stroke="#f00000"/>
<circle cx="288.8" cy="873.5" r="3.7" stroke="#ff4a00"/>
<circle cx="310.4" cy="865.7" r="3.7" stroke="#f00000"/>
<circle cx="292.8" cy="878.6" r="3.7" stroke="#ff0000"/>
<circle cx="306.8" cy="868.9" r="3.7" stroke="#ff6a00"/>
<circle cx="310.2" cy="872.8" r="3.7" stroke="#ff4a00"/>
<circle cx="298.3" cy="872.9" r="3.7" stroke="#f00000"/>
<circle cx="310.6" cy="861.5" r="3.7" stroke="#ff2a00"/>
<circle cx="314.7" cy="862.9" r="3.7" stroke="#ff2a00"/>
<circle cx="296.8" cy="880.2" r="3.7" stroke="#ff8a00"/>
<circle cx="313.3" cy="862.0" r="3.7" stroke="#ff2a00"/>
<circle cx="299.1" cy="867.8" r="3.7" stroke="#ff4a00"/>
<circle cx="308.7" cy="870.6" r="3.7" stroke="#ff3a00"/>
<circle cx="308.4" cy="868.7" r="3.7" stroke="#f00000"/>
<circle cx="312.5" cy="866.0" r="3.7" stroke="#f00000"/>
<circle cx="305.7" cy="866.9" r="3.7" stroke="#f00000"/>
<circle cx="301.7" cy="874.9" r="3.7" stroke="#f00000"/>
<circle cx="312.6" cy="863.7" r="3.7" stroke="#ff1400"/>
<circle cx="292.7" cy="876.1" r="3.7" stroke="#ff1400"/>
<circle cx="302.4" cy="871.9" r="3.7" stroke="#ff0000"/>
<circle cx="289.1" cy="879.1" r="3.7" stroke="#ff3a00"/>
<circle cx="289.0" cy="880.0" r="3.7" stroke="#ff2a00"/>
<circle cx="297.9" cy="875.6" r="3.7" stroke="#ff0000"/>
<circle cx="290.5" cy="874.5" r="3.7" stroke="#ff3a00"/>
<circle cx="302.6" cy="871.8" r="3.7" stroke="#ff1400"/>
<circle cx="313.7" cy="867.3" r="3.7" stroke="#ff0000"/>
<circle cx="307.4" cy="869.0" r="3.7" stroke="#ff1400"/>
<circle cx="293.9" cy="875.4" r="3.7" stroke="#ff3a00"/>
<circle cx="306.3" cy="870.8" r="3.7" stroke="#f00000"/>
<circle cx="303.3" cy="874.5" r="3.7" stroke="#ff2a00"/>
<circle cx="313.4" cy="866.6" r="3.7" stroke="#ff4a00"/>
<circle cx="299.6" cy="880.3" r="3.7" stroke="#ff4a00"/>
<circle cx="305.4" cy="869.3" r="3.7" stroke="#ff1400"/>
<circle cx="300.7" cy="871.1" r="3.7" stroke="#ff3a00"/>
<circle cx="307.9" cy="866.9" r="3.7" stroke="#ff0000"/>
<circle cx="308.8" cy="869.6" r="3.7" stroke="#ff3a00"/>
<circle cx="314.2" cy="864.0" r="3.7" stroke="#f00000"/>
<circle cx="304.6" cy="866.0" r="3.7" stroke="#ff0000"/>
<circle cx="291.5" cy="873.4" r="3.7" stroke="#ff2a00"/>
<circle cx="288.3" cy="880.2" r="3.7" stroke="#ff0000"/>
<circle cx="289.6" cy="883.6" r="3.7" stroke="#ff3a00"/>
<circle cx="301.5" cy="876.5" r="3.7" stroke="#ff6a00"/>
<circle cx="286.8" cy="875.9" r="3.7" stroke="#ff3a00"/>
<circle cx="294.1" cy="880.2" r="3.7" stroke="#ff0000"/>
<circle cx="302.9" cy="868.8" r="3.7" stroke="#ff4a00"/>
<circle cx="286.9" cy="875.2" r="3.7" stroke="#ff6a00"/>
<circle cx="295.0" cy="874.0" r="3.7" stroke="#ff1400"/>
<circle cx="313.9" cy="865.3" r="3.7" stroke="#ff1400"/>
<circle cx="312.2" cy="862.1" r="3.7" stroke="#ff2a00"/>
<circle cx="294.4" cy="872.1" r="3.7" stroke="#ff3a00"/>
<circle cx="305.6" cy="872.7" r="3.7" stroke="#ff6a00"/>
<circle cx="290.6" cy="876.8" r="3.7" stroke="#ff0000"/>
<circle cx="300.2" cy="877.1" r="3.7" stroke="#ff2a00"/>
<circle cx="308.7" cy="868.9" r="3.7" stroke="#f00000"/>
<circle cx="295.5" cy="880.6" r="3.7" stroke="#ff2a00"/>
<circle cx="284.8" cy="880.2" r="3.7" stroke="#f00000"/>
<circle cx="299.4" cy="868.4" r="3.7" stroke="#ff6a00"/>
<circle cx="296.8" cy="873.9" r="3.7" stroke="#f00000"/>
<circle cx="309.3" cy="870.1" r="3.7" stroke="#ff0000"/>
<circle cx="305.2" cy="868.9" r="3.7" stroke="#ff0000"/>
<circle cx="311.1" cy="867.9" r="3.7" stroke="#ff0000"/>
<circle cx="294.4" cy="874.0" r="3.7" stroke="#f00000"/>
<circle cx="297.3" cy="873.7" r="3.7" stroke="#ff0000"/>
<circle cx="311.5" cy="864.2" r="3.7" stroke="#ff1400"/>
<circle cx="287.8" cy="879.9" r="3.7" stroke="#ff0000"/>
<circle cx="304.6" cy="865.9" r="3.7" stroke="#ff4a00"/>
<circle cx="301.8" cy="873.7" r="3.7" stroke="#ff0000"/>
<circle cx="289.1" cy="883.0" r="3.7" stroke="#ff0000"/>
<circle cx="303.2" cy="864.8" r="3.7" stroke="#ff8a00"/>
<circle cx="311.1" cy="862.8" r="3.7" stroke="#ff0000"/>
<circle cx="289.4" cy="877.0" r="3.7" stroke="#ff1400"/>
<circle cx="289.0" cy="879.0" r="3.7" stroke="#f00000"/>
<circle cx="310.1" cy="863.1" r="3.7" stroke="#ff3a00"/>
<circle cx="307.2" cy="870.9" r="3.7" stroke="#ff1400"/>
<circle cx="305.4" cy="869.2" r="3.7" stroke="#ff1400"/>
<circle cx="294.5" cy="875.8" r="3.7" stroke="#ff1400"/>
<circle cx="287.5" cy="873.9" r="3.7" stroke="#ff8a00"/>
<circle cx="304.2" cy="870.6" r="3.7" stroke="#ff0000"/>
<circle cx="284.6" cy="879.1" r="3.7" stroke="#ff0000"/>
<circle cx="302.4" cy="872.4" r="3.7" stroke="#ff1400"/>
<circle cx="311.6" cy="863.1" r="3.7" stroke="#f00000"/>
<circle cx="288.5" cy="881.6" r="3.7" stroke="#ff0000"/>
<circle cx="325.9" cy="832.9" r="3.7" stroke="#ff1400"/>
<circle cx="325.6" cy="840.4" r="3.7" stroke="#ff4a00"/>
<circle cx="332.0" cy="828.5" r="3.7" stroke="#ff4a00"/>
<circle cx="323.8" cy="829.3" r="3.7" stroke="#ff0000"/>
<circle cx="316.0" cy="839.6" r="3.7" stroke="#ff2a00"/>
<circle cx="323.1" cy="835.4" r="3.7" stroke="#ff1400"/>
<circle cx="323.6" cy="847.9" r="3.7" stroke="#ff2a00"/>
<circle cx="323.7" cy="829.5" r="3.7" stroke="#ff2a00"/>
<circle cx="319.2" cy="852.3" r="3.7" stroke="#ff3a00"/>
<circle cx="322.2" cy="819.8" r="3.7" stroke="#ff2a00"/>
<circle cx="328.9" cy="818.8" r="3.7" stroke="#f00000"/>
<circle cx="317.6" cy="843.8" r="3.7" stroke="#ff1400"/>
<circle cx="325.2" cy="843.6" r="3.7" stroke="#ff2a00"/>
<circle cx="328.2" cy="817.0" r="3.7" stroke="#f00000"/>
<circle cx="328.4" cy="824.5" r="3.7" stroke="#ff1400"/>
<circle cx="318.6" cy="816.0" r="3.7" stroke="#ff4a00"/>
<circle cx="318.9" cy="840.4" r="3.7" stroke="#ff3a00"/>
<circle cx="321.5" cy="832.3" r="3.7" stroke="#ff1400"/>
<circle cx="326.4" cy="823.3" r="3.7" stroke="#ff4a00"/>
<circle cx="321.8" cy="814.7" r="3.7" stroke="#ff2a00"/>
<circle cx="322.0" cy="845.5" r="3.7" stroke="#f00000"/>
<circle cx="322.9" cy="822.0" r="3.7" stroke="#ff0000"/>
<circle cx="324.8" cy="838.5" r="3.7" stroke="#ff6a00"/>
<circle cx="335.1" cy="812.3" r="3.7" stroke="#ff3a00"/>
<circle cx="315.2" cy="844.3" r="3.7" stroke="#ff3a00"/>
<circle cx="321.4" cy="816.2" r="3.7" stroke="#ff8a00"/>
<circle cx="328.7" cy="832.0" r="3.7" stroke="#ff8a00"/>
<circle cx="328.5" cy="820.9" r="3.7" stroke="#ff1400"/>
<circle cx="320.1" cy="820.5" r="3.7" stroke="#ff4a00"/>
<circle cx="318.5" cy="831.3" r="3.7" stroke="#ff4a00"/>
<circle cx="323.6" cy="826.7" r="3.7" stroke="#ff1400"/>
<circle cx="323.4" cy="848.7" r="3.7" stroke="#ff4a00"/>
<circle cx="322.6" cy="836.3" r="3.7" stroke="#ff1400"/>
<circle cx="322.3" cy="814.6" r="3.7" stroke="#ff3a00"/>
<circle cx="332.5" cy="816.5" r="3.7" stroke="#ff0000"/>
<circle cx="321.5" cy="833.8" r="3.7" stroke="#ff0000"/>
<circle cx="327.2" cy="832.8" r="3.7" stroke="#ff1400"/>
<circle cx="330.6" cy="825.7" r="3.7" stroke="#ff0000"/>
<circle cx="317.9" cy="843.4" r="3.7" stroke="#ff0000"/>
<circle cx="333.0" cy="817.7" r="3.7" stroke="#ff3a00"/>
<circle cx="331.0" cy="822.2" r="3.7" stroke="#ff0000"/>
<circle cx="320.3" cy="836.8" r="3.7" stroke="#ff1400"/>
<circle cx="325.9" cy="833.6" r="3.7" stroke="#ff0000"/>
<circle cx="326.2" cy="815.1" r="3.7" stroke="#ff3a00"/>
<circle cx="325.5" cy="842.7" r="3.7" stroke="#ff6a00"/>
<circle cx="319.8" cy="837.6" r="3.7" stroke="#ff0000"/>
<circle cx="316.7" cy="853.2" r="3.7" stroke="#ff4a00"/>
<circle cx="328.0" cy="825.7" r="3.7" stroke="#ff0000"/>
<circle cx="330.9" cy="819.6" r="3.7" stroke="#ff3a00"/>
<circle cx="327.9" cy="821.4" r="3.7" stroke="#ff2a00"/>
<circle cx="325.4" cy="834.2" r="3.7" stroke="#ff1400"/>
<circle cx="327.9" cy="835.8" r="3.7" stroke="#ff6a00"/>
<circle cx="329.0" cy="815.9" r="3.7" stroke="#ff1400"/>
<circle cx="332.3" cy="819.5" r="3.7" stroke="#ff6a00"/>
<circle cx="332.4" cy="837.3" r="3.7" stroke="#ff4a00"/>
<circle cx="329.8" cy="831.4" r="3.7" stroke="#ff8a00"/>
<circle cx="328.7" cy="839.2" r="3.7" stroke="#ff2a00"/>
<circle cx="322.8" cy="826.9" r="3.7" stroke="#ff0000"/>
<circle cx="330.7" cy="816.5" r="3.7" stroke="#ff0000"/>
<circle cx="327.7" cy="822.6" r="3.7" stroke="#f00000"/>
<circle cx="320.8" cy="849.6" r="3.7" stroke="#f00000"/>
<circle cx="323.8" cy="836.7" r="3.7" stroke="#ff3a00"/>
<circle cx="324.4" cy="812.6" r="3.7" stroke="#ff0000"/>
<circle cx="321.8" cy="847.9" r="3.7" stroke="#ff0000"/>
<circle cx="325.0" cy="844.2" r="3.7" stroke="#ff0000"/>
<circle cx="322.1" cy="839.2" r="3.7" stroke="#f00000"/>
<circle cx="337.3" cy="815.0" r="3.7" stroke="#ff6a00"/>
<circle cx="326.4" cy="810.7" r="3.7" stroke="#ff6a00"/>
<circle cx="324.3" cy="833.2" r="3.7" stroke="#ff4a00"/>
<circle cx="323.1" cy="839.8" r="3.7" stroke="#ff0000"/>
<circle cx="325.9" cy="822.2" r="3.7" stroke="#f00000"/>
<circle cx="327.7" cy="835.3" r="3.7" stroke="#ff0000"/>
<circle cx="323.1" cy="845.5" r="3.7" stroke="#f00000"/>
<circle cx="334.7" cy="825.0" r="3.7" stroke="#ff6a00"/>
<circle cx="325.3" cy="828.9" r="3.7" stroke="#ff0000"/>
<circle cx="326.9" cy="827.3" r="3.7" stroke="#ff0000"/>
<circle cx="321.6" cy="832.3" r="3.7" stroke="#ff6a00"/>
<circle cx="319.5" cy="836.6" r="3.7" stroke="#ff1400"/>
<circle cx="321.2" cy="827.6" r="3.7" stroke="#ff4a00"/>
<circle cx="330.4" cy="819.7" r="3.7" stroke="#ff3a00"/>
<circle cx="327.6" cy="819.7" r="3.7" stroke="#ff0000"/>
<circle cx="318.7" cy="841.2" r="3.7" stroke="#ff4a00"/>
<circle cx="324.2" cy="842.7" r="3.7" stroke="#f00000"/>
<circle cx="332.2" cy="816.1" r="3.7" stroke="#ff0000"/>
<circle cx="320.0" cy="837.6" r="3.7" stroke="#f00000"/>
<circle cx="250.4" cy="891.8" r="3.7" stroke="#ff2a00"/>
<circle cx="253.4" cy="895.1" r="3.7" stroke="#ff0000"/>
<circle cx="263.4" cy="890.6" r="3.7" stroke="#ff0000"/>
<circle cx="247.1" cy="903.0" r="3.7" stroke="#ff0000"/>
<circle cx="259.8" cy="897.8" r="3.7" stroke="#ff1400"/>
<circle cx="265.1" cy="890.1" r="3.7" stroke="#ff2a00"/>
<circle cx="246.0" cy="904.1" r="3.7" stroke="#ff8a00"/>
<circle cx="254.4" cy="905.3" r="3.7" stroke="#ff4a00"/>
<circle cx="252.9" cy="898.8" r="3.7" stroke="#ff0000"/>
<circle cx="257.8" cy="889.1" r="3.7" stroke="#ff4a00"/>
<circle cx="251.0" cy="904.5" r="3.7" stroke="#f00000"/>
<circle cx="265.9" cy="905.0" r="3.7" stroke="#ff6a00"/>
<circle cx="255.9" cy="896.0" r="3.7" stroke="#ff1400"/>
<circle cx="244.7" cy="903.8" r="3.7" stroke="#ff1400"/>
<circle cx="251.2" cy="900.4" r="3.7" stroke="#ff0000"/>
<circle cx="249.4" cy="895.8" r="3.7" stroke="#ff1400"/>
<circle cx="258.2" cy="898.3" r="3.7" stroke="#f00000"/>
<circle cx="253.3" cy="891.1" r="3.7" stroke="#ff3a00"/>
<circle cx="263.7" cy="894.8" r="3.7" stroke="#ff0000"/>
<circle cx="252.1" cy="902.9" r="3.7" stroke="#ff0000"/>
<circle cx="261.3" cy="889.1" r="3.7" stroke="#ff0000"/>
<circle cx="266.2" cy="896.0" r="3.7" stroke="#ff3a00"/>
<circle cx="251.4" cy="896.0" r="3.7" stroke="#ff0000"/>
<circle cx="258.9" cy="889.8" r="3.7" stroke="#ff3a00"/>
<circle cx="254.1" cy="905.6" r="3.7" stroke="#ff8a00"/>
<circle cx="253.6" cy="893.7" r="3.7" stroke="#ff0000"/>
<circle cx="265.3" cy="884.9" r="3.7" stroke="#ff6a00"/>
<circle cx="258.8" cy="902.8" r="3.7" stroke="#ff2a00"/>
<circle cx="269.4" cy="894.9" r="3.7" stroke="#ff8a00"/>
<circle cx="257.2" cy="892.3" r="3.7" stroke="#ff3a00"/>
<circle cx="245.2" cy="903.6" r="3.7" stroke="#ff0000"/>
<circle cx="257.4" cy="890.8" r="3.7" stroke="#ff2a00"/>
<circle cx="252.8" cy="906.8" r="3.7" stroke="#ff0000"/>
<circle cx="253.7" cy="895.9" r="3.7" stroke="#f00000"/>
<circle cx="247.9" cy="893.8" r="3.7" stroke="#ff8a00"/>
<circle cx="253.5" cy="894.2" r="3.7" stroke="#ff6a00"/>
<circle cx="247.5" cy="906.7" r="3.7" stroke="#ff0000"/>
<circle cx="252.1" cy="903.2" r="3.7" stroke="#ff3a00"/>
<circle cx="266.7" cy="891.2" r="3.7" stroke="#f00000"/>
<circle cx="241.4" cy="897.6" r="3.7" stroke="#ff8a00"/>
<circle cx="261.3" cy="891.0" r="3.7" stroke="#ff1400"/>
<circle cx="260.4" cy="889.3" r="3.7" stroke="#ff8a00"/>
<circle cx="261.0" cy="898.8" r="3.7" stroke="#ff3a00"/>
<circle cx="251.6" cy="898.8" r="3.7" stroke="#ff0000"/>
<circle cx="257.3" cy="885.4" r="3.7" stroke="#ff4a00"/>
<circle cx="256.0" cy="890.2" r="3.7" stroke="#ff2a00"/>
<circle cx="264.2" cy="891.2" r="3.7" stroke="#ff0000"/>
<circle cx="245.6" cy="896.0" r="3.7" stroke="#ff2a00"/>
<circle cx="252.4" cy="898.3" r="3.7" stroke="#ff3a00"/>
<circle cx="252.5" cy="892.3" r="3.7" stroke="#ff3a00"/>
<circle cx="261.1" cy="897.5" r="3.7" stroke="#ff2a00"/>
<circle cx="254.6" cy="904.6" r="3.7" stroke="#ff0000"/>
<circle cx="246.4" cy="901.9" r="3.7" stroke="#ff1400"/>
<circle cx="256.0" cy="898.3" r="3.7" stroke="#f00000"/>
<circle cx="259.1" cy="899.1" r="3.7" stroke="#ff0000"/>
<circle cx="246.3" cy="939.6" r="3.7" stroke="#ff0000"/>
<circle cx="233.1" cy="922.2" r="3.7" stroke="#ff8a00"/>
<circle cx="245.4" cy="939.7" r="3.7" stroke="#ff2a00"/>
<circle cx="241.1" cy="934.5" r="3.7" stroke="#ff1400"/>
<circle cx="253.0" cy="946.9" r="3.7" stroke="#ff3a00"/>
<circle cx="250.1" cy="955.0" r="3.7" stroke="#ff8a00"/>
<circle cx="248.6" cy="935.9" r="3.7" stroke="#ff8a00"/>
<circle cx="237.2" cy="922.4" r="3.7" stroke="#ff6a00"/>
<circle cx="230.0" cy="932.3" r="3.7" stroke="#ff0000"/>
<circle cx="237.4" cy="928.2" r="3.7" stroke="#f00000"/>
<circle cx="249.3" cy="949.2" r="3.7" stroke="#ff2a00"/>
<circle cx="249.2" cy="951.2" r="3.7" stroke="#f00000"/>
<circle cx="241.2" cy="939.1" r="3.7" stroke="#ff0000"/>
<circle cx="239.9" cy="937.2" r="3.7" stroke="#ff4a00"/>
<circle cx="246.2" cy="941.3" r="3.7" stroke="#f00000"/>
<circle cx="249.4" cy="948.0" r="3.7" stroke="#ff0000"/>
<circle cx="239.4" cy="946.8" r="3.7" stroke="#ff4a00"/>
<circle cx="236.2" cy="936.1" r="3.7" stroke="#ff4a00"/>
<circle cx="239.0" cy="928.4" r="3.7" stroke="#ff0000"/>
<circle cx="240.4" cy="932.9" r="3.7" stroke="#ff1400"/>
<circle cx="246.8" cy="949.0" r="3.7" stroke="#f00000"/>
<circle cx="244.0" cy="945.4" r="3.7" stroke="#ff1400"/>
<circle cx="251.7" cy="946.0" r="3.7" stroke="#ff6a00"/>
<circle cx="230.7" cy="924.6" r="3.7" stroke="#ff6a00"/>
<circle cx="241.4" cy="937.7" r="3.7" stroke="#ff0000"/>
<circle cx="234.1" cy="926.6" r="3.7" stroke="#ff1400"/>
<circle cx="239.7" cy="942.7" r="3.7" stroke="#ff2a00"/>
<circle cx="249.7" cy="949.9" r="3.7" stroke="#ff0000"/>
<circle cx="244.3" cy="941.9" r="3.7" stroke="#f00000"/>
<circle cx="241.4" cy="936.5" r="3.7" stroke="#ff0000"/>
<circle cx="232.5" cy="929.2" r="3.7" stroke="#ff3a00"/>
<circle cx="233.3" cy="928.2" r="3.7" stroke="#ff3a00"/>
<circle cx="237.1" cy="928.3" r="3.7" stroke="#ff0000"/>
<circle cx="239.0" cy="932.4" r="3.7" stroke="#ff0000"/>
<circle cx="248.4" cy="944.1" r="3.7" stroke="#ff0000"/>
<circle cx="242.1" cy="932.7" r="3.7" stroke="#ff0000"/>
<circle cx="239.6" cy="943.6" r="3.7" stroke="#ff2a00"/>
<circle cx="245.6" cy="934.6" r="3.7" stroke="#ff2a00"/>
<circle cx="237.7" cy="931.4" r="3.7" stroke="#ff1400"/>
<circle cx="239.9" cy="940.3" r="3.7" stroke="#f00000"/>
<circle cx="233.4" cy="927.0" r="3.7" stroke="#ff1400"/>
<circle cx="244.1" cy="938.7" r="3.7" stroke="#ff1400"/>
<circle cx="232.8" cy="928.3" r="3.7" stroke="#ff3a00"/>
<circle cx="244.7" cy="939.7" r="3.7" stroke="#f00000"/>
<circle cx="237.7" cy="934.5" r="3.7" stroke="#ff0000"/>
<circle cx="249.1" cy="942.6" r="3.7" stroke="#ff0000"/>
<circle cx="235.5" cy="921.6" r="3.7" stroke="#ff3a00"/>
<circle cx="240.6" cy="933.5" r="3.7" stroke="#ff3a00"/>
<circle cx="238.4" cy="933.0" r="3.7" stroke="#ff0000"/>
<circle cx="230.0" cy="931.9" r="3.7" stroke="#ff3a00"/>
<circle cx="256.2" cy="953.5" r="3.7" stroke="#ff6a00"/>
<circle cx="259.0" cy="962.5" r="3.7" stroke="#ff1400"/>
<circle cx="255.5" cy="965.9" r="3.7" stroke="#ff3a00"/>
<circle cx="260.9" cy="958.9" r="3.7" stroke="#ff3a00"/>
<circle cx="260.5" cy="981.1" r="3.7" stroke="#ff2a00"/>
<circle cx="263.4" cy="967.7" r="3.7" stroke="#ff0000"/>
<circle cx="260.8" cy="967.9" r="3.7" stroke="#ff0000"/>
<circle cx="260.5" cy="975.2" r="3.7" stroke="#ff0000"/>
<circle cx="258.4" cy="948.5" r="3.7" stroke="#ff4a00"/>
<circle cx="259.7" cy="961.4" r="3.7" stroke="#ff1400"/>
<circle cx="262.9" cy="963.8" r="3.7" stroke="#ff1400"/>
<circle cx="262.3" cy="987.5" r="3.7" stroke="#ff8a00"/>
<circle cx="254.8" cy="959.4" r="3.7" stroke="#ff2a00"/>
<circle cx="252.4" cy="948.6" r="3.7" stroke="#ff6a00"/>
<circle cx="251.9" cy="972.1" r="3.7" stroke="#ff8a00"/>
<circle cx="256.3" cy="953.1" r="3.7" stroke="#ff8a00"/>
<circle cx="253.9" cy="974.2" r="3.7" stroke="#ff3a00"/>
<circle cx="256.5" cy="965.8" r="3.7" stroke="#ff1400"/>
<circle cx="262.6" cy="980.5" r="3.7" stroke="#ff2a00"/>
<circle cx="269.9" cy="977.7" r="3.7" stroke="#ff8a00"/>
<circle cx="261.1" cy="970.5" r="3.7" stroke="#ff1400"/>
<circle cx="269.5" cy="981.1" r="3.7" stroke="#ff4a00"/>
<circle cx="259.2" cy="972.8" r="3.7" stroke="#ff1400"/>
<circle cx="261.7" cy="969.4" r="3.7" stroke="#ff0000"/>
<circle cx="257.2" cy="957.7" r="3.7" stroke="#ff2a00"/>
<circle cx="256.9" cy="955.8" r="3.7" stroke="#ff0000"/>
<circle cx="266.3" cy="973.5" r="3.7" stroke="#ff2a00"/>
<circle cx="255.6" cy="980.8" r="3.7" stroke="#ff6a00"/>
<circle cx="263.3" cy="952.7" r="3.7" stroke="#ff6a00"/>
<circle cx="269.3" cy="975.8" r="3.7" stroke="#ff8a00"/>
<circle cx="269.1" cy="958.5" r="3.7" stroke="#ff4a00"/>
<circle cx="263.0" cy="972.6" r="3.7" stroke="#f00000"/>
<circle cx="261.3" cy="970.4" r="3.7" stroke="#ff0000"/>
<circle cx="264.3" cy="956.3" r="3.7" stroke="#ff6a00"/>
<circle cx="253.8" cy="957.1" r="3.7" stroke="#ff8a00"/>
<circle cx="257.4" cy="963.8" r="3.7" stroke="#f00000"/>
<circle cx="262.2" cy="971.2" r="3.7" stroke="#ff0000"/>
<circle cx="260.0" cy="963.2" r="3.7" stroke="#ff0000"/>
<circle cx="258.8" cy="977.1" r="3.7" stroke="#ff0000"/>
<circle cx="263.9" cy="969.8" r="3.7" stroke="#f00000"/>
<circle cx="259.8" cy="982.2" r="3.7" stroke="#ff2a00"/>
<circle cx="258.0" cy="974.5" r="3.7" stroke="#ff0000"/>
<circle cx="265.5" cy="966.7" r="3.7" stroke="#ff0000"/>
<circle cx="263.4" cy="959.5" r="3.7" stroke="#ff0000"/>
<circle cx="265.1" cy="970.7" r="3.7" stroke="#ff3a00"/>
<circle cx="253.4" cy="974.6" r="3.7" stroke="#ff6a00"/>
<circle cx="257.0" cy="979.9" r="3.7" stroke="#ff3a00"/>
<circle cx="257.1" cy="967.6" r="3.7" stroke="#ff0000"/>
<circle cx="261.4" cy="966.1" r="3.7" stroke="#ff1400"/>
<circle cx="261.2" cy="964.3" r="3.7" stroke="#ff0000"/>
<circle cx="263.4" cy="969.0" r="3.7" stroke="#ff1400"/>
<circle cx="259.6" cy="945.6" r="3.7" stroke="#ff4a00"/>
<circle cx="265.7" cy="969.2" r="3.7" stroke="#ff3a00"/>
<circle cx="252.2" cy="969.8" r="3.7" stroke="#ff8a00"/>
<circle cx="263.1" cy="978.1" r="3.7" stroke="#ff2a00"/>
<circle cx="256.3" cy="982.1" r="3.7" stroke="#ff8a00"/>
<circle cx="261.0" cy="989.3" r="3.7" stroke="#ff6a00"/>
<circle cx="260.0" cy="974.7" r="3.7" stroke="#ff1400"/>
<circle cx="258.0" cy="959.5" r="3.7" stroke="#ff2a00"/>
<circle cx="265.9" cy="976.7" r="3.7" stroke="#ff0000"/>
<circle cx="267.9" cy="976.2" r="3.7" stroke="#ff6a00"/>
<circle cx="256.7" cy="954.8" r="3.7" stroke="#ff8a00"/>
<circle cx="256.9" cy="963.2" r="3.7" stroke="#f00000"/>
<circle cx="256.9" cy="973.9" r="3.7" stroke="#ff2a00"/>
<circle cx="261.7" cy="966.7" r="3.7" stroke="#f00000"/>
<circle cx="261.0" cy="967.7" r="3.7" stroke="#ff1400"/>
<circle cx="261.7" cy="975.3" r="3.7" stroke="#ff1400"/>
<circle cx="264.3" cy="963.1" r="3.7" stroke="#ff3a00"/>
<circle cx="254.2" cy="981.1" r="3.7" stroke="#ff4a00"/>
<circle cx="261.5" cy="978.4" r="3.7" stroke="#ff2a00"/>
<circle cx="252.6" cy="966.1" r="3.7" stroke="#ff3a00"/>
<circle cx="259.6" cy="956.7" r="3.7" stroke="#ff2a00"/>
<circle cx="258.4" cy="975.1" r="3.7" stroke="#ff1400"/>
<circle cx="266.2" cy="982.5" r="3.7" stroke="#ff8a00"/>
<circle cx="255.5" cy="957.0" r="3.7" stroke="#ff0000"/>
<circle cx="263.3" cy="976.9" r="3.7" stroke="#ff3a00"/>
<circle cx="260.4" cy="957.9" r="3.7" stroke="#ff3a00"/>
<circle cx="264.4" cy="975.7" r="3.7" stroke="#ff0000"/>
<circle cx="262.6" cy="964.8" r="3.7" stroke="#ff1400"/>
<circle cx="262.2" cy="975.7" r="3.7" stroke="#ff0000"/>
<circle cx="256.6" cy="953.3" r="3.7" stroke="#ff8a00"/>
<circle cx="262.1" cy="973.0" r="3.7" stroke="#ff1400"/>
<circle cx="260.9" cy="976.5" r="3.7" stroke="#ff1400"/>
<circle cx="257.6" cy="968.3" r="3.7" stroke="#ff0000"/>
<circle cx="259.3" cy="973.8" r="3.7" stroke="#ff0000"/>
<circle cx="267.5" cy="966.8" r="3.7" stroke="#ff0000"/>
<circle cx="270.7" cy="982.0" r="3.7" stroke="#ff4a00"/>
<circle cx="264.3" cy="973.9" r="3.7" stroke="#f00000"/>
<circle cx="268.3" cy="967.4" r="3.7" stroke="#ff4a00"/>
<circle cx="259.2" cy="959.9" r="3.7" stroke="#ff0000"/>
<circle cx="263.3" cy="980.4" r="3.7" stroke="#ff3a00"/>
<circle cx="263.0" cy="972.6" r="3.7" stroke="#ff1400"/>
<circle cx="259.5" cy="970.4" r="3.7" stroke="#ff1400"/>
<circle cx="254.4" cy="977.9" r="3.7" stroke="#ff8a00"/>
<circle cx="257.8" cy="959.6" r="3.7" stroke="#ff3a00"/>
<circle cx="256.4" cy="961.9" r="3.7" stroke="#ff3a00"/>
<circle cx="264.9" cy="977.9" r="3.7" stroke="#ff0000"/>
<circle cx="254.6" cy="976.8" r="3.7" stroke="#ff0000"/>
<circle cx="264.0" cy="964.0" r="3.7" stroke="#ff2a00"/>
<circle cx="253.0" cy="962.6" r="3.7" stroke="#ff3a00"/>
<circle cx="257.6" cy="971.9" r="3.7" stroke="#f00000"/>
<circle cx="257.4" cy="951.7" r="3.7" stroke="#ff4a00"/>
<circle cx="260.5" cy="955.9" r="3.7" stroke="#ff0000"/>
<circle cx="263.8" cy="958.7" r="3.7" stroke="#ff2a00"/>
<circle cx="256.6" cy="961.7" r="3.7" stroke="#ff2a00"/>
<circle cx="258.6" cy="980.0" r="3.7" stroke="#ff2a00"/>
<circle cx="264.6" cy="974.1" r="3.7" stroke="#ff0000"/>
<circle cx="260.9" cy="955.8" r="3.7" stroke="#ff0000"/>
<circle cx="257.6" cy="964.3" r="3.7" stroke="#f00000"/>
<circle cx="256.1" cy="973.3" r="3.7" stroke="#ff0000"/>
<circle cx="256.5" cy="962.9" r="3.7" stroke="#ff2a00"/>
<circle cx="254.3" cy="951.5" r="3.7" stroke="#ff6a00"/>
<circle cx="263.8" cy="980.3" r="3.7" stroke="#ff0000"/>
<circle cx="260.5" cy="960.7" r="3.7" stroke="#ff1400"/>
<circle cx="248.0" cy="970.4" r="3.7" stroke="#ff8a00"/>
<circle cx="266.1" cy="971.5" r="3.7" stroke="#ff0000"/>
<circle cx="265.5" cy="981.5" r="3.7" stroke="#ff4a00"/>
<circle cx="265.2" cy="965.2" r="3.7" stroke="#ff3a00"/>
<circle cx="265.6" cy="975.5" r="3.7" stroke="#ff3a00"/>
<circle cx="253.0" cy="965.5" r="3.7" stroke="#ff0000"/>
<circle cx="253.7" cy="968.0" r="3.7" stroke="#ff2a00"/>
<circle cx="262.3" cy="959.9" r="3.7" stroke="#ff0000"/>
<circle cx="251.6" cy="980.0" r="3.7" stroke="#ff8a00"/>
<circle cx="262.9" cy="981.5" r="3.7" stroke="#ff3a00"/>
<circle cx="254.9" cy="978.0" r="3.7" stroke="#ff3a00"/>
<circle cx="271.1" cy="986.0" r="3.7" stroke="#ff6a00"/>
<circle cx="259.5" cy="971.2" r="3.7" stroke="#ff0000"/>
<circle cx="260.2" cy="977.4" r="3.7" stroke="#ff2a00"/>
<circle cx="265.1" cy="969.7" r="3.7" stroke="#ff2a00"/>
<circle cx="254.5" cy="975.3" r="3.7" stroke="#ff0000"/>
<circle cx="258.5" cy="974.3" r="3.7" stroke="#ff1400"/>
<circle cx="262.5" cy="982.8" r="3.7" stroke="#ff2a00"/>
<circle cx="265.3" cy="965.1" r="3.7" stroke="#ff2a00"/>
<circle cx="263.0" cy="983.9" r="3.7" stroke="#ff8a00"/>
<circle cx="258.1" cy="972.6" r="3.7" stroke="#ff1400"/>
<circle cx="266.5" cy="979.6" r="3.7" stroke="#ff6a00"/>
<circle cx="261.9" cy="957.7" r="3.7" stroke="#ff2a00"/>
<circle cx="254.7" cy="971.1" r="3.7" stroke="#ff0000"/>
<circle cx="263.6" cy="990.6" r="3.7" stroke="#ff4a00"/>
<circle cx="257.0" cy="978.6" r="3.7" stroke="#ff3a00"/>
<circle cx="262.9" cy="954.7" r="3.7" stroke="#ff4a00"/>
<circle cx="256.6" cy="970.4" r="3.7" stroke="#f00000"/>
<circle cx="257.9" cy="967.6" r="3.7" stroke="#ff0000"/>
<circle cx="262.0" cy="962.1" r="3.7" stroke="#ff1400"/>
<circle cx="262.1" cy="963.5" r="3.7" stroke="#f00000"/>
<circle cx="258.1" cy="973.5" r="3.7" stroke="#ff0000"/>
<circle cx="257.8" cy="971.4" r="3.7" stroke="#ff1400"/>
<circle cx="267.7" cy="969.2" r="3.7" stroke="#ff0000"/>
<circle cx="260.1" cy="975.2" r="3.7" stroke="#ff1400"/>
<circle cx="259.3" cy="978.2" r="3.7" stroke="#ff2a00"/>
<circle cx="254.8" cy="974.2" r="3.7" stroke="#ff0000"/>
<circle cx="257.5" cy="962.2" r="3.7" stroke="#ff1400"/>
<circle cx="267.9" cy="961.7" r="3.7" stroke="#ff4a00"/>
<circle cx="268.8" cy="974.5" r="3.7" stroke="#ff4a00"/>
<circle cx="266.4" cy="960.7" r="3.7" stroke="#ff6a00"/>
<circle cx="266.7" cy="981.3" r="3.7" stroke="#ff8a00"/>
<circle cx="259.7" cy="967.9" r="3.7" stroke="#ff1400"/>
<circle cx="271.7" cy="970.5" r="3.7" stroke="#ff6a00"/>
<circle cx="258.0" cy="963.6" r="3.7" stroke="#f00000"/>
<circle cx="262.6" cy="971.8" r="3.7" stroke="#ff0000"/>
<circle cx="262.2" cy="983.6" r="3.7" stroke="#ff4a00"/>
<circle cx="259.1" cy="973.0" r="3.7" stroke="#ff1400"/>
<circle cx="266.4" cy="960.4" r="3.7" stroke="#ff4a00"/>
<circle cx="266.2" cy="984.5" r="3.7" stroke="#ff4a00"/>
<circle cx="253.4" cy="959.6" r="3.7" stroke="#ff6a00"/>
<circle cx="254.4" cy="953.3" r="3.7" stroke="#ff4a00"/>
<circle cx="261.3" cy="953.2" r="3.7" stroke="#ff4a00"/>
<circle cx="263.5" cy="981.3" r="3.7" stroke="#ff0000"/>
<circle cx="252.7" cy="966.3" r="3.7" stroke="#ff2a00"/>
<circle cx="252.0" cy="975.6" r="3.7" stroke="#ff8a00"/>
<circle cx="256.8" cy="966.7" r="3.7" stroke="#ff1400"/>
<circle cx="260.9" cy="973.6" r="3.7" stroke="#f00000"/>
<circle cx="258.7" cy="969.1" r="3.7" stroke="#ff1400"/>
<circle cx="257.9" cy="969.9" r="3.7" stroke="#ff0000"/>
<circle cx="255.0" cy="969.5" r="3.7" stroke="#ff2a00"/>
<circle cx="251.1" cy="964.8" r="3.7" stroke="#ff4a00"/>
<circle cx="269.2" cy="969.6" r="3.7" stroke="#ff8a00"/>
<circle cx="254.7" cy="971.1" r="3.7" stroke="#ff2a00"/>
<circle cx="254.8" cy="954.9" r="3.7" stroke="#ff6a00"/>
<circle cx="257.4" cy="975.2" r="3.7" stroke="#ff3a00"/>
<circle cx="262.0" cy="968.1" r="3.7" stroke="#ff1400"/>
<circle cx="255.4" cy="959.8" r="3.7" stroke="#ff2a00"/>
<circle cx="266.7" cy="971.0" r="3.7" stroke="#ff3a00"/>
<circle cx="254.7" cy="951.0" r="3.7" stroke="#ff6a00"/>
<circle cx="255.5" cy="990.0" r="3.7" stroke="#ff6a00"/>
<circle cx="255.0" cy="968.3" r="3.7" stroke="#ff3a00"/>
<circle cx="261.2" cy="967.6" r="3.7" stroke="#ff0000"/>
<circle cx="258.2" cy="957.3" r="3.7" stroke="#ff2a00"/>
<circle cx="256.5" cy="983.3" r="3.7" stroke="#ff4a00"/>
<circle cx="257.3" cy="976.1" r="3.7" stroke="#ff0000"/>
<circle cx="252.4" cy="966.6" r="3.7" stroke="#ff6a00"/>
<circle cx="262.1" cy="977.8" r="3.7" stroke="#ff3a00"/>
<circle cx="255.5" cy="974.0" r="3.7" stroke="#ff3a00"/>
<circle cx="261.6" cy="962.7" r="3.7" stroke="#ff0000"/>
<circle cx="262.0" cy="961.3" r="3.7" stroke="#ff0000"/>
<circle cx="256.6" cy="968.8" r="3.7" stroke="#ff0000"/>
<circle cx="247.8" cy="968.0" r="3.7" stroke="#ff8a00"/>
<circle cx="254.8" cy="956.5" r="3.7" stroke="#ff6a00"/>
<circle cx="258.8" cy="975.4" r="3.7" stroke="#ff1400"/>
<circle cx="259.2" cy="979.7" r="3.7" stroke="#ff2a00"/>
<circle cx="254.2" cy="957.8" r="3.7" stroke="#ff4a00"/>
<circle cx="267.7" cy="972.3" r="3.7" stroke="#ff2a00"/>
<circle cx="264.2" cy="961.9" r="3.7" stroke="#ff0000"/>
<circle cx="264.2" cy="971.2" r="3.7" stroke="#f00000"/>
<circle cx="263.3" cy="969.2" r="3.7" stroke="#ff0000"/>
<circle cx="265.5" cy="963.4" r="3.7" stroke="#ff3a00"/>
<circle cx="255.0" cy="956.4" r="3.7" stroke="#ff4a00"/>
<circle cx="265.2" cy="962.7" r="3.7" stroke="#ff3a00"/>
<circle cx="254.9" cy="961.0" r="3.7" stroke="#ff0000"/>
<circle cx="257.5" cy="958.1" r="3.7" stroke="#ff0000"/>
<circle cx="258.6" cy="963.6" r="3.7" stroke="#ff0000"/>
<circle cx="257.2" cy="960.8" r="3.7" stroke="#ff3a00"/>
<circle cx="260.2" cy="965.0" r="3.7" stroke="#ff0000"/>
<circle cx="261.0" cy="971.1" r="3.7" stroke="#ff0000"/>
<circle cx="260.6" cy="950.3" r="3.7" stroke="#ff8a00"/>
<circle cx="257.4" cy="962.2" r="3.7" stroke="#ff1400"/>
<circle cx="262.9" cy="955.5" r="3.7" stroke="#ff4a00"/>
<circle cx="256.8" cy="966.5" r="3.7" stroke="#ff1400"/>
<circle cx="259.4" cy="977.4" r="3.7" stroke="#ff3a00"/>
<circle cx="258.9" cy="977.2" r="3.7" stroke="#ff0000"/>
<circle cx="252.5" cy="953.6" r="3.7" stroke="#ff8a00"/>
<circle cx="266.2" cy="972.7" r="3.7" stroke="#ff2a00"/>
<circle cx="262.6" cy="970.0" r="3.7" stroke="#ff1400"/>
<circle cx="261.8" cy="958.6" r="3.7" stroke="#ff3a00"/>
<circle cx="264.4" cy="964.4" r="3.7" stroke="#ff2a00"/>
<circle cx="264.9" cy="969.7" r="3.7" stroke="#f00000"/>
<circle cx="250.5" cy="958.0" r="3.7" stroke="#ff4a00"/>
<circle cx="265.4" cy="967.8" r="3.7" stroke="#ff3a00"/>
<circle cx="258.6" cy="971.0" r="3.7" stroke="#ff1400"/>
<circle cx="258.0" cy="964.3" r="3.7" stroke="#ff0000"/>
<circle cx="260.9" cy="970.2" r="3.7" stroke="#ff0000"/>
<circle cx="267.3" cy="969.3" r="3.7" stroke="#ff0000"/>
<circle cx="270.0" cy="984.3" r="3.7" stroke="#ff6a00"/>
<circle cx="268.8" cy="978.0" r="3.7" stroke="#ff8a00"/>
<circle cx="261.0" cy="970.1" r="3.7" stroke="#f00000"/>
<circle cx="259.2" cy="962.7" r="3.7" stroke="#ff0000"/>
<circle cx="259.6" cy="963.5" r="3.7" stroke="#ff1400"/>
<circle cx="268.2" cy="973.5" r="3.7" stroke="#ff8a00"/>
<circle cx="257.1" cy="952.7" r="3.7" stroke="#ff6a00"/>
<circle cx="259.8" cy="965.4" r="3.7" stroke="#ff1400"/>
<circle cx="254.6" cy="959.3" r="3.7" stroke="#ff3a00"/>
<circle cx="250.3" cy="973.8" r="3.7" stroke="#ff6a00"/>
<circle cx="261.6" cy="990.9" r="3.7" stroke="#ff6a00"/>
<circle cx="260.1" cy="967.7" r="3.7" stroke="#f00000"/>
<circle cx="267.0" cy="970.1" r="3.7" stroke="#ff2a00"/>
<circle cx="260.9" cy="965.8" r="3.7" stroke="#ff0000"/>
<circle cx="258.4" cy="981.7" r="3.7" stroke="#ff3a00"/>
<circle cx="265.9" cy="983.5" r="3.7" stroke="#ff6a00"/>
<circle cx="258.7" cy="969.2" r="3.7" stroke="#ff0000"/>
<circle cx="256.8" cy="977.2" r="3.7" stroke="#ff0000"/>
<circle cx="254.2" cy="973.8" r="3.7" stroke="#ff3a00"/>
<circle cx="266.2" cy="980.9" r="3.7" stroke="#ff4a00"/>
<circle cx="256.6" cy="978.2" r="3.7" stroke="#ff0000"/>
<circle cx="256.6" cy="962.5" r="3.7" stroke="#ff3a00"/>
<circle cx="254.9" cy="978.8" r="3.7" stroke="#ff6a00"/>
<circle cx="267.5" cy="963.9" r="3.7" stroke="#ff4a00"/>
<circle cx="256.6" cy="966.1" r="3.7" stroke="#f00000"/>
<circle cx="272.4" cy="977.5" r="3.7" stroke="#ff4a00"/>
<circle cx="256.7" cy="953.7" r="3.7" stroke="#ff4a00"/>
<circle cx="257.9" cy="979.0" r="3.7" stroke="#ff3a00"/>
<circle cx="268.7" cy="966.7" r="3.7" stroke="#ff8a00"/>
<circle cx="256.8" cy="964.6" r="3.7" stroke="#ff0000"/>
<circle cx="252.2" cy="976.7" r="3.7" stroke="#ff6a00"/>
<circle cx="256.0" cy="978.0" r="3.7" stroke="#ff3a00"/>
<circle cx="251.7" cy="958.2" r="3.7" stroke="#ff6a00"/>
<circle cx="261.2" cy="962.5" r="3.7" stroke="#f00000"/>
<circle cx="263.9" cy="969.0" r="3.7" stroke="#ff1400"/>
<circle cx="255.3" cy="974.2" r="3.7" stroke="#ff3a00"/>
<circle cx="263.0" cy="952.7" r="3.7" stroke="#ff6a00"/>
<circle cx="269.0" cy="973.2" r="3.7" stroke="#ff6a00"/>
<circle cx="262.7" cy="953.1" r="3.7" stroke="#ff6a00"/>
<circle cx="256.8" cy="966.0" r="3.7" stroke="#ff0000"/>
<circle cx="264.4" cy="956.5" r="3.7" stroke="#ff4a00"/>
<circle cx="255.0" cy="951.7" r="3.7" stroke="#ff4a00"/>
<circle cx="259.4" cy="971.9" r="3.7" stroke="#ff1400"/>
<circle cx="252.2" cy="963.9" r="3.7" stroke="#ff4a00"/>
<circle cx="263.6" cy="982.4" r="3.7" stroke="#ff3a00"/>
<circle cx="263.2" cy="966.4" r="3.7" stroke="#f00000"/>
<circle cx="254.3" cy="961.0" r="3.7" stroke="#ff2a00"/>
<circle cx="257.3" cy="970.2" r="3.7" stroke="#ff1400"/>
<circle cx="261.1" cy="983.1" r="3.7" stroke="#ff3a00"/>
<circle cx="261.0" cy="959.8" r="3.7" stroke="#ff3a00"/>
<circle cx="268.0" cy="977.0" r="3.7" stroke="#ff6a00"/>
<circle cx="260.3" cy="962.8" r="3.7" stroke="#ff1400"/>
<circle cx="251.1" cy="960.3" r="3.7" stroke="#ff4a00"/>
<circle cx="264.0" cy="962.1" r="3.7" stroke="#ff2a00"/>
<circle cx="254.4" cy="970.6" r="3.7" stroke="#ff3a00"/>
<circle cx="261.8" cy="974.1" r="3.7" stroke="#f00000"/>
<circle cx="264.2" cy="980.9" r="3.7" stroke="#ff0000"/>
<circle cx="257.0" cy="977.3" r="3.7" stroke="#ff2a00"/>
<circle cx="256.2" cy="974.9" r="3.7" stroke="#ff3a00"/>
<circle cx="261.3" cy="971.0" r="3.7" stroke="#ff0000"/>
<circle cx="264.8" cy="968.8" r="3.7" stroke="#ff1400"/>
<circle cx="266.0" cy="976.4" r="3.7" stroke="#ff0000"/>
<circle cx="260.6" cy="964.1" r="3.7" stroke="#ff0000"/>
<circle cx="256.5" cy="964.5" r="3.7" stroke="#ff0000"/>
<circle cx="259.4" cy="968.7" r="3.7" stroke="#ff0000"/>
<circle cx="274.4" cy="974.4" r="3.7" stroke="#ff8a00"/>
<circle cx="263.3" cy="961.6" r="3.7" stroke="#ff0000"/>
<circle cx="256.9" cy="966.2" r="3.7" stroke="#f00000"/>
<circle cx="260.6" cy="960.1" r="3.7" stroke="#ff3a00"/>
<circle cx="267.4" cy="964.2" r="3.7" stroke="#ff4a00"/>
<circle cx="263.9" cy="949.1" r="3.7" stroke="#ff8a00"/>
<circle cx="260.4" cy="971.3" r="3.7" stroke="#f00000"/>
<circle cx="261.6" cy="974.1" r="3.7" stroke="#f00000"/>
<circle cx="261.7" cy="970.3" r="3.7" stroke="#f00000"/>
<circle cx="251.2" cy="962.9" r="3.7" stroke="#ff6a00"/>
<circle cx="249.9" cy="974.3" r="3.7" stroke="#ff8a00"/>
<circle cx="261.6" cy="967.3" r="3.7" stroke="#ff1400"/>
<circle cx="256.2" cy="964.0" r="3.7" stroke="#ff3a00"/>
<circle cx="269.8" cy="983.7" r="3.7" stroke="#ff8a00"/>
<circle cx="260.8" cy="979.9" r="3.7" stroke="#ff2a00"/>
<circle cx="251.8" cy="952.5" r="3.7" stroke="#ff6a00"/>
<circle cx="257.6" cy="961.5" r="3.7" stroke="#ff0000"/>
<circle cx="257.9" cy="970.6" r="3.7" stroke="#f00000"/>
<circle cx="273.8" cy="963.3" r="3.7" stroke="#ff4a00"/>
<circle cx="260.7" cy="971.3" r="3.7" stroke="#ff0000"/>
<circle cx="260.7" cy="976.9" r="3.7" stroke="#ff1400"/>
<circle cx="267.7" cy="958.4" r="3.7" stroke="#ff6a00"/>
<circle cx="260.9" cy="966.7" r="3.7" stroke="#ff1400"/>
<circle cx="261.0" cy="955.9" r="3.7" stroke="#ff0000"/>
<circle cx="250.8" cy="949.3" r="3.7" stroke="#ff6a00"/>
<circle cx="262.8" cy="970.6" r="3.7" stroke="#f00000"/>
<circle cx="259.2" cy="948.8" r="3.7" stroke="#ff8a00"/>
<circle cx="258.1" cy="962.5" r="3.7" stroke="#f00000"/>
<circle cx="253.3" cy="961.2" r="3.7" stroke="#ff2a00"/>
<circle cx="263.8" cy="973.6" r="3.7" stroke="#ff1400"/>
<circle cx="260.5" cy="973.3" r="3.7" stroke="#f00000"/>
<circle cx="257.6" cy="969.6" r="3.7" stroke="#f00000"/>
<circle cx="260.8" cy="973.7" r="3.7" stroke="#ff1400"/>
<circle cx="259.9" cy="967.7" r="3.7" stroke="#ff1400"/>
<circle cx="259.3" cy="963.5" r="3.7" stroke="#ff1400"/>
<circle cx="270.9" cy="973.3" r="3.7" stroke="#ff4a00"/>
<circle cx="263.7" cy="988.4" r="3.7" stroke="#ff6a00"/>
<circle cx="265.8" cy="955.7" r="3.7" stroke="#ff4a00"/>
<circle cx="264.0" cy="976.1" r="3.7" stroke="#ff2a00"/>
<circle cx="269.8" cy="980.1" r="3.7" stroke="#ff4a00"/>
<circle cx="263.1" cy="958.9" r="3.7" stroke="#ff2a00"/>
<circle cx="256.5" cy="971.2" r="3.7" stroke="#ff0000"/>
<circle cx="262.0" cy="960.3" r="3.7" stroke="#ff3a00"/>
<circle cx="258.3" cy="965.6" r="3.7" stroke="#ff1400"/>
<circle cx="260.8" cy="971.8" r="3.7" stroke="#ff1400"/>
<circle cx="258.2" cy="958.4" r="3.7" stroke="#ff0000"/>
<circle cx="267.0" cy="982.5" r="3.7" stroke="#ff6a00"/>
<circle cx="260.4" cy="977.7" r="3.7" stroke="#ff3a00"/>
<circle cx="262.8" cy="974.6" r="3.7" stroke="#f00000"/>
<circle cx="262.1" cy="962.5" r="3.7" stroke="#ff0000"/>
<circle cx="263.6" cy="977.5" r="3.7" stroke="#ff2a00"/>
<circle cx="257.4" cy="985.7" r="3.7" stroke="#ff4a00"/>
<circle cx="271.0" cy="984.5" r="3.7" stroke="#ff6a00"/>
<circle cx="269.9" cy="975.3" r="3.7" stroke="#ff8a00"/>
<circle cx="258.4" cy="963.9" r="3.7" stroke="#f00000"/>
<circle cx="256.6" cy="969.9" r="3.7" stroke="#ff1400"/>
<circle cx="260.6" cy="974.7" r="3.7" stroke="#f00000"/>
<circle cx="252.4" cy="988.6" r="3.7" stroke="#ff4a00"/>
<circle cx="270.8" cy="968.7" r="3.7" stroke="#ff4a00"/>
<circle cx="263.7" cy="973.0" r="3.7" stroke="#ff0000"/>
<circle cx="261.4" cy="967.2" r="3.7" stroke="#f00000"/>
<circle cx="259.3" cy="961.9" r="3.7" stroke="#ff1400"/>
<circle cx="261.1" cy="968.7" r="3.7" stroke="#ff1400"/>
<circle cx="261.3" cy="961.7" r="3.7" stroke="#f00000"/>
<circle cx="260.5" cy="969.4" r="3.7" stroke="#f00000"/>
<circle cx="262.5" cy="959.9" r="3.7" stroke="#ff2a00"/>
<circle cx="262.8" cy="977.3" r="3.7" stroke="#ff0000"/>
<circle cx="262.8" cy="965.8" r="3.7" stroke="#f00000"/>
<circle cx="257.9" cy="966.9" r="3.7" stroke="#ff1400"/>
<circle cx="264.6" cy="982.2" r="3.7" stroke="#ff8a00"/>
<circle cx="259.2" cy="963.5" r="3.7" stroke="#f00000"/>
<circle cx="262.2" cy="970.7" r="3.7" stroke="#ff1400"/>
<circle cx="255.7" cy="962.7" r="3.7" stroke="#ff3a00"/>
<circle cx="260.2" cy="974.7" r="3.7" stroke="#ff0000"/>
<circle cx="254.2" cy="960.3" r="3.7" stroke="#ff2a00"/>
<circle cx="261.9" cy="958.5" r="3.7" stroke="#ff3a00"/>
<circle cx="261.0" cy="971.9" r="3.7" stroke="#ff0000"/>
<circle cx="259.2" cy="960.3" r="3.7" stroke="#ff2a00"/>
<circle cx="259.8" cy="966.1" r="3.7" stroke="#ff0000"/>
<circle cx="261.4" cy="961.8" r="3.7" stroke="#ff0000"/>
<circle cx="264.3" cy="954.7" r="3.7" stroke="#ff4a00"/>
<circle cx="259.5" cy="969.0" r="3.7" stroke="#f00000"/>
<circle cx="264.4" cy="963.8" r="3.7" stroke="#ff3a00"/>
<circle cx="262.5" cy="964.1" r="3.7" stroke="#f00000"/>
<circle cx="264.7" cy="983.7" r="3.7" stroke="#ff8a00"/>
<circle cx="258.7" cy="972.7" r="3.7" stroke="#ff1400"/>
<circle cx="256.6" cy="977.2" r="3.7" stroke="#ff3a00"/>
<circle cx="265.9" cy="969.3" r="3.7" stroke="#ff2a00"/>
<circle cx="255.3" cy="972.4" r="3.7" stroke="#ff0000"/>
<circle cx="266.3" cy="978.2" r="3.7" stroke="#ff2a00"/>
<circle cx="263.0" cy="953.4" r="3.7" stroke="#ff6a00"/>
<circle cx="258.0" cy="981.0" r="3.7" stroke="#ff3a00"/>
<circle cx="255.4" cy="978.6" r="3.7" stroke="#ff0000"/>
<circle cx="269.4" cy="975.4" r="3.7" stroke="#ff8a00"/>
<circle cx="265.3" cy="966.1" r="3.7" stroke="#ff3a00"/>
<circle cx="254.6" cy="968.1" r="3.7" stroke="#ff0000"/>
<circle cx="259.4" cy="968.6" r="3.7" stroke="#ff1400"/>
<circle cx="263.4" cy="967.7" r="3.7" stroke="#ff1400"/>
<circle cx="261.4" cy="972.6" r="3.7" stroke="#ff1400"/>
<circle cx="261.4" cy="984.6" r="3.7" stroke="#ff8a00"/>
<circle cx="262.4" cy="969.7" r="3.7" stroke="#ff0000"/>
<circle cx="259.0" cy="963.6" r="3.7" stroke="#ff0000"/>
<circle cx="266.6" cy="970.2" r="3.7" stroke="#ff0000"/>
<circle cx="255.0" cy="964.2" r="3.7" stroke="#ff2a00"/>
<circle cx="259.4" cy="965.2" r="3.7" stroke="#ff1400"/>
<circle cx="264.6" cy="959.1" r="3.7" stroke="#ff2a00"/>
<circle cx="262.7" cy="970.2" r="3.7" stroke="#f00000"/>
<circle cx="254.9" cy="969.4" r="3.7" stroke="#ff0000"/>
<circle cx="260.2" cy="973.2" r="3.7" stroke="#f00000"/>
<circle cx="258.4" cy="971.5" r="3.7" stroke="#f00000"/>
<circle cx="252.0" cy="959.7" r="3.7" stroke="#ff8a00"/>
<circle cx="264.5" cy="977.8" r="3.7" stroke="#ff0000"/>
<circle cx="259.9" cy="963.9" r="3.7" stroke="#f00000"/>
<circle cx="264.0" cy="951.2" r="3.7" stroke="#ff4a00"/>
<circle cx="257.0" cy="974.7" r="3.7" stroke="#ff2a00"/>
<circle cx="262.7" cy="960.2" r="3.7" stroke="#ff3a00"/>
<circle cx="252.5" cy="981.3" r="3.7" stroke="#ff8a00"/>
<circle cx="260.5" cy="961.3" r="3.7" stroke="#ff0000"/>
<circle cx="261.1" cy="976.6" r="3.7" stroke="#f00000"/>
<circle cx="249.1" cy="978.4" r="3.7" stroke="#ff8a00"/>
<circle cx="262.5" cy="951.3" r="3.7" stroke="#ff4a00"/>
<circle cx="262.8" cy="953.8" r="3.7" stroke="#ff6a00"/>
<circle cx="265.8" cy="972.3" r="3.7" stroke="#ff2a00"/>
<circle cx="270.3" cy="963.8" r="3.7" stroke="#ff4a00"/>
<circle cx="261.0" cy="977.9" r="3.7" stroke="#ff3a00"/>
<circle cx="256.9" cy="963.0" r="3.7" stroke="#ff0000"/>
<circle cx="258.6" cy="968.3" r="3.7" stroke="#ff1400"/>
<circle cx="255.6" cy="973.1" r="3.7" stroke="#ff2a00"/>
<circle cx="262.9" cy="969.6" r="3.7" stroke="#ff0000"/>
<circle cx="267.9" cy="966.2" r="3.7" stroke="#ff6a00"/>
<circle cx="266.0" cy="964.3" r="3.7" stroke="#ff3a00"/>
<circle cx="262.6" cy="952.5" r="3.7" stroke="#ff8a00"/>
<circle cx="261.1" cy="967.5" r="3.7" stroke="#ff0000"/>
<circle cx="257.7" cy="963.8" r="3.7" stroke="#ff1400"/>
<circle cx="258.3" cy="962.8" r="3.7" stroke="#f00000"/>
<circle cx="249.9" cy="963.9" r="3.7" stroke="#ff4a00"/>
<circle cx="257.5" cy="964.5" r="3.7" stroke="#ff1400"/>
<circle cx="255.4" cy="967.8" r="3.7" stroke="#ff2a00"/>
<circle cx="263.8" cy="966.8" r="3.7" stroke="#ff0000"/>
<circle cx="258.9" cy="980.5" r="3.7" stroke="#ff2a00"/>
<circle cx="265.4" cy="976.8" r="3.7" stroke="#ff0000"/>
<circle cx="265.4" cy="966.2" r="3.7" stroke="#ff2a00"/>
<circle cx="260.4" cy="978.4" r="3.7" stroke="#ff2a00"/>
<circle cx="257.7" cy="967.9" r="3.7" stroke="#ff1400"/>
<circle cx="262.3" cy="972.1" r="3.7" stroke="#ff0000"/>
<circle cx="259.6" cy="977.3" r="3.7" stroke="#ff2a00"/>
<circle cx="259.9" cy="975.1" r="3.7" stroke="#ff0000"/>
<circle cx="265.6" cy="974.6" r="3.7" stroke="#ff0000"/>
<circle cx="263.0" cy="959.1" r="3.7" stroke="#ff3a00"/>
<circle cx="253.9" cy="963.7" r="3.7" stroke="#ff0000"/>
<circle cx="263.4" cy="981.7" r="3.7" stroke="#ff2a00"/>
<circle cx="254.9" cy="971.6" r="3.7" stroke="#ff2a00"/>
<circle cx="255.9" cy="962.7" r="3.7" stroke="#ff2a00"/>
<circle cx="259.5" cy="974.8" r="3.7" stroke="#f00000"/>
<circle cx="262.0" cy="979.0" r="3.7" stroke="#ff0000"/>
<circle cx="256.3" cy="976.5" r="3.7" stroke="#ff0000"/>
<circle cx="264.6" cy="969.5" r="3.7" stroke="#ff0000"/>
<circle cx="262.2" cy="964.2" r="3.7" stroke="#ff1400"/>
<circle cx="255.1" cy="965.5" r="3.7" stroke="#ff3a00"/>
<circle cx="259.1" cy="993.5" r="3.7" stroke="#ff6a00"/>
<circle cx="259.1" cy="983.0" r="3.7" stroke="#ff6a00"/>
<circle cx="261.4" cy="971.6" r="3.7" stroke="#f00000"/>
<circle cx="263.3" cy="962.3" r="3.7" stroke="#ff3a00"/>
<circle cx="264.8" cy="972.2" r="3.7" stroke="#ff1400"/>
<circle cx="253.7" cy="974.1" r="3.7" stroke="#ff2a00"/>
<circle cx="263.1" cy="972.8" r="3.7" stroke="#ff1400"/>
<circle cx="267.4" cy="965.4" r="3.7" stroke="#ff3a00"/>
<circle cx="263.1" cy="975.3" r="3.7" stroke="#f00000"/>
<circle cx="256.9" cy="979.2" r="3.7" stroke="#ff0000"/>
<circle cx="252.9" cy="957.9" r="3.7" stroke="#ff4a00"/>
<circle cx="262.1" cy="959.7" r="3.7" stroke="#ff3a00"/>
<circle cx="258.8" cy="955.0" r="3.7" stroke="#ff2a00"/>
<circle cx="259.9" cy="959.3" r="3.7" stroke="#ff2a00"/>
<circle cx="261.0" cy="955.9" r="3.7" stroke="#ff3a00"/>
<circle cx="262.2" cy="966.7" r="3.7" stroke="#ff0000"/>
<circle cx="260.6" cy="968.4" r="3.7" stroke="#ff0000"/>
<circle cx="260.1" cy="957.7" r="3.7" stroke="#ff0000"/>
<circle cx="248.5" cy="969.2" r="3.7" stroke="#ff4a00"/>
<circle cx="255.7" cy="965.1" r="3.7" stroke="#ff3a00"/>
<circle cx="261.1" cy="952.1" r="3.7" stroke="#ff8a00"/>
<circle cx="256.4" cy="963.8" r="3.7" stroke="#ff1400"/>
<circle cx="255.6" cy="971.7" r="3.7" stroke="#ff3a00"/>
<circle cx="259.2" cy="962.0" r="3.7" stroke="#f00000"/>
<circle cx="256.3" cy="975.8" r="3.7" stroke="#ff3a00"/>
<circle cx="257.6" cy="973.9" r="3.7" stroke="#ff0000"/>
<circle cx="261.2" cy="952.9" r="3.7" stroke="#ff6a00"/>
<circle cx="255.3" cy="969.0" r="3.7" stroke="#ff3a00"/>
<circle cx="262.4" cy="975.6" r="3.7" stroke="#ff1400"/>
<circle cx="264.6" cy="977.7" r="3.7" stroke="#ff0000"/>
<circle cx="258.5" cy="967.2" r="3.7" stroke="#f00000"/>
<circle cx="263.6" cy="965.3" r="3.7" stroke="#ff0000"/>
<circle cx="264.2" cy="955.4" r="3.7" stroke="#ff8a00"/>
<circle cx="263.2" cy="967.5" r="3.7" stroke="#ff1400"/>
<circle cx="251.9" cy="977.3" r="3.7" stroke="#ff4a00"/>
<circle cx="261.8" cy="969.1" r="3.7" stroke="#ff1400"/>
<circle cx="255.1" cy="965.0" r="3.7" stroke="#ff3a00"/>
<circle cx="266.8" cy="961.9" r="3.7" stroke="#ff6a00"/>
<circle cx="243.8" cy="961.7" r="3.7" stroke="#ff6a00"/>
<circle cx="254.7" cy="967.8" r="3.7" stroke="#ff2a00"/>
<circle cx="258.0" cy="961.2" r="3.7" stroke="#ff0000"/>
<circle cx="257.1" cy="977.9" r="3.7" stroke="#ff2a00"/>
<circle cx="254.8" cy="985.6" r="3.7" stroke="#ff6a00"/>
<circle cx="257.2" cy="959.7" r="3.7" stroke="#ff0000"/>
<circle cx="264.3" cy="973.8" r="3.7" stroke="#ff0000"/>
<circle cx="256.0" cy="975.3" r="3.7" stroke="#ff3a00"/>
<circle cx="251.3" cy="961.1" r="3.7" stroke="#ff8a00"/>
<circle cx="265.3" cy="966.8" r="3.7" stroke="#ff3a00"/>
<circle cx="254.6" cy="973.3" r="3.7" stroke="#ff3a00"/>
<circle cx="264.5" cy="968.8" r="3.7" stroke="#ff1400"/>
<circle cx="251.8" cy="966.0" r="3.7" stroke="#ff4a00"/>
<circle cx="262.7" cy="975.5" r="3.7" stroke="#ff1400"/>
<circle cx="268.7" cy="966.8" r="3.7" stroke="#ff4a00"/>
<circle cx="258.1" cy="968.6" r="3.7" stroke="#ff0000"/>
<circle cx="265.3" cy="961.0" r="3.7" stroke="#ff0000"/>
<circle cx="264.7" cy="945.6" r="3.7" stroke="#ff4a00"/>
<circle cx="263.6" cy="963.2" r="3.7" stroke="#ff0000"/>
<circle cx="262.8" cy="974.8" r="3.7" stroke="#f00000"/>
<circle cx="254.8" cy="968.2" r="3.7" stroke="#ff2a00"/>
<circle cx="261.8" cy="973.9" r="3.7" stroke="#ff1400"/>
<circle cx="255.4" cy="960.5" r="3.7" stroke="#ff0000"/>
<circle cx="253.0" cy="990.5" r="3.7" stroke="#ff8a00"/>
<circle cx="259.3" cy="967.1" r="3.7" stroke="#ff1400"/>
<circle cx="254.0" cy="976.9" r="3.7" stroke="#ff8a00"/>
<circle cx="322.8" cy="784.0" r="3.7" stroke="#ff0000"/>
<circle cx="325.1" cy="780.8" r="3.7" stroke="#ff0000"/>
<circle cx="323.2" cy="802.0" r="3.7" stroke="#ff3a00"/>
<circle cx="321.6" cy="798.4" r="3.7" stroke="#ff0000"/>
<circle cx="326.1" cy="793.2" r="3.7" stroke="#ff0000"/>
<circle cx="323.8" cy="789.6" r="3.7" stroke="#ff1400"/>
<circle cx="323.1" cy="803.2" r="3.7" stroke="#f00000"/>
<circle cx="317.9" cy="778.0" r="3.7" stroke="#ff4a00"/>
<circle cx="322.4" cy="795.5" r="3.7" stroke="#f00000"/>
<circle cx="324.3" cy="769.9" r="3.7" stroke="#f00000"/>
<circle cx="320.9" cy="802.0" r="3.7" stroke="#ff1400"/>
<circle cx="328.3" cy="786.4" r="3.7" stroke="#ff4a00"/>
<circle cx="320.1" cy="797.9" r="3.7" stroke="#ff3a00"/>
<circle cx="328.6" cy="789.5" r="3.7" stroke="#ff6a00"/>
<circle cx="325.1" cy="794.5" r="3.7" stroke="#ff3a00"/>
<circle cx="322.0" cy="797.7" r="3.7" stroke="#ff0000"/>
<circle cx="323.6" cy="807.2" r="3.7" stroke="#ff1400"/>
<circle cx="323.0" cy="805.6" r="3.7" stroke="#f00000"/>
<circle cx="325.4" cy="795.2" r="3.7" stroke="#ff2a00"/>
<circle cx="322.1" cy="813.0" r="3.7" stroke="#ff1400"/>
<circle cx="322.5" cy="803.3" r="3.7" stroke="#f00000"/>
<circle cx="316.7" cy="807.5" r="3.7" stroke="#ff6a00"/>
<circle cx="362.1" cy="824.4" r="3.7" stroke="#ff4a00"/>
<circle cx="358.8" cy="787.8" r="3.7" stroke="#ff6a00"/>
<circle cx="403.3" cy="804.7" r="3.7" stroke="#ff8a00"/>
<circle cx="388.3" cy="807.6" r="3.7" stroke="#ff6a00"/>
<circle cx="359.2" cy="786.7" r="3.7" stroke="#ff6a00"/>
<circle cx="353.6" cy="789.3" r="3.7" stroke="#ff4a00"/>
<circle cx="384.6" cy="840.2" r="3.7" stroke="#ff6a00"/>
<circle cx="382.3" cy="777.1" r="3.7" stroke="#ff6a00"/>
<circle cx="357.0" cy="817.6" r="3.7" stroke="#ff6a00"/>
<circle cx="382.2" cy="820.9" r="3.7" stroke="#ff4a00"/>
<circle cx="379.1" cy="823.3" r="3.7" stroke="#ff4a00"/>
<circle cx="391.8" cy="820.0" r="3.7" stroke="#ff6a00"/>
<circle cx="363.4" cy="773.1" r="3.7" stroke="#ff4a00"/>
<circle cx="398.3" cy="826.3" r="3.7" stroke="#ff6a00"/>
<circle cx="422.5" cy="790.9" r="3.7" stroke="#ff8a00"/>
<circle cx="380.5" cy="838.2" r="3.7" stroke="#ff4a00"/>
<circle cx="359.8" cy="823.2" r="3.7" stroke="#ff8a00"/>
<circle cx="419.5" cy="808.3" r="3.7" stroke="#ff4a00"/>
<circle cx="367.8" cy="780.0" r="3.7" stroke="#ff6a00"/>
<circle cx="394.3" cy="808.8" r="3.7" stroke="#ff6a00"/>
<circle cx="392.6" cy="824.1" r="3.7" stroke="#ff4a00"/>
<circle cx="369.6" cy="787.5" r="3.7" stroke="#ff6a00"/>
<circle cx="353.0" cy="795.5" r="3.7" stroke="#ff4a00"/>
<circle cx="373.3" cy="801.9" r="3.7" stroke="#ff6a00"/>
<circle cx="382.2" cy="834.7" r="3.7" stroke="#ff8a00"/>
<circle cx="423.3" cy="782.0" r="3.7" stroke="#ff4a00"/>
<circle cx="383.7" cy="781.3" r="3.7" stroke="#ff6a00"/>
<circle cx="368.1" cy="829.3" r="3.7" stroke="#ff8a00"/>
<circle cx="376.0" cy="769.1" r="3.7" stroke="#ff8a00"/>
<circle cx="413.1" cy="795.3" r="3.7" stroke="#ff6a00"/>
<circle cx="365.6" cy="802.8" r="3.7" stroke="#ff4a00"/>
<circle cx="370.5" cy="800.8" r="3.7" stroke="#ff8a00"/>
<circle cx="387.7" cy="801.4" r="3.7" stroke="#ff8a00"/>
<circle cx="399.1" cy="791.1" r="3.7" stroke="#ff8a00"/>
<circle cx="359.6" cy="774.8" r="3.7" stroke="#ff6a00"/>
</g></g>
<g clip-path="url(#cpd)" shape-rendering="crispEdges">
<rect x="440" y="600" width="584" height="430" fill="#ffffc6"/>
<rect x="440" y="600" width="33.25" height="430" fill="#fff"/>
<rect x="440" y="600" width="63.75" height="238.75" fill="#fff"/>
<rect x="473.25" y="859.25" width="30.70" height="30.70" fill="#fff"/>
<rect x="473.25" y="920.25" width="30.70" height="30.70" fill="#fff"/>
<rect x="900.25" y="615.25" width="30.70" height="30.70" fill="#fff"/>
<rect x="991.75" y="706.75" width="30.70" height="30.70" fill="#fff"/>
<rect x="900.25" y="584.75" width="30.70" height="30.70" fill="#fff"/>
<rect x="930.75" y="645.75" width="30.70" height="91.70" fill="#bfd1fb"/>
<rect x="656.25" y="828.75" width="30.70" height="30.70" fill="#bfd1fb"/>
<rect x="747.75" y="737.25" width="91.70" height="30.70" fill="#b3b3b3"/>
<rect x="747.75" y="767.75" width="183.20" height="61.20" fill="#b3b3b3"/>
<rect x="717.25" y="828.75" width="213.70" height="30.70" fill="#b3b3b3"/>
<rect x="656.25" y="859.25" width="274.70" height="61.20" fill="#b3b3b3"/>
<rect x="656.25" y="920.25" width="61.20" height="61.20" fill="#b3b3b3"/>
<rect x="656.25" y="981.25" width="91.70" height="30.70" fill="#b3b3b3"/>
</g>
<g clip-path="url(#cpd)"><g transform="matrix(1 0 0 1 435.7 0.5)"><g fill="none" stroke-width="0.7" stroke-opacity="0.85">
<polyline points="313.0,862.9 302.5,871.6 293.7,876.9 286.7,880.4" stroke="#ff1a00" stroke-width="4" stroke-linecap="round" opacity="0.45"/>
<ellipse cx="260.7" cy="969.2" rx="9" ry="16" fill="#ff0800" stroke="none" opacity="0.85"/>
<polyline points="327.1,813.6 323.6,829.5" stroke="#ff3000" stroke-width="4" stroke-linecap="round" opacity="0.2"/>
<circle cx="281.3" cy="874.7" r="3.7" stroke="#ff3838"/>
<circle cx="283.2" cy="878.4" r="3.7" stroke="#ff0808"/>
<circle cx="304.6" cy="861.4" r="3.7" stroke="#ff1010"/>
<circle cx="262.4" cy="895.7" r="3.7" stroke="#ff1010"/>
<circle cx="317.0" cy="847.9" r="3.7" stroke="#ff0808"/>
<circle cx="327.0" cy="848.0" r="3.7" stroke="#ff3838"/>
<circle cx="270.1" cy="885.6" r="3.7" stroke="#ff0808"/>
<circle cx="316.3" cy="846.4" r="3.7" stroke="#ff0808"/>
<circle cx="310.0" cy="863.2" r="3.7" stroke="#f01010"/>
<circle cx="281.5" cy="881.3" r="3.7" stroke="#ff3838"/>
<circle cx="280.8" cy="877.4" r="3.7" stroke="#ff1010"/>
<circle cx="268.0" cy="888.4" r="3.7" stroke="#ff0808"/>
<circle cx="250.6" cy="904.7" r="3.7" stroke="#ff3838"/>
<circle cx="266.0" cy="892.5" r="3.7" stroke="#ff0808"/>
<circle cx="309.9" cy="872.6" r="3.7" stroke="#ff0808"/>
<circle cx="296.6" cy="872.5" r="3.7" stroke="#ff0808"/>
<circle cx="245.8" cy="902.0" r="3.7" stroke="#f01010"/>
<circle cx="312.7" cy="861.4" r="3.7" stroke="#f01010"/>
<circle cx="242.9" cy="904.6" r="3.7" stroke="#ff0808"/>
<circle cx="274.5" cy="882.8" r="3.7" stroke="#f01010"/>
<circle cx="309.8" cy="862.2" r="3.7" stroke="#ff3838"/>
<circle cx="265.0" cy="894.4" r="3.7" stroke="#f01010"/>
<circle cx="321.0" cy="857.2" r="3.7" stroke="#ff1010"/>
<circle cx="306.6" cy="859.6" r="3.7" stroke="#ff1010"/>
<circle cx="309.7" cy="860.2" r="3.7" stroke="#ff1010"/>
<circle cx="275.8" cy="889.5" r="3.7" stroke="#f01010"/>
<circle cx="307.4" cy="874.7" r="3.7" stroke="#ff3838"/>
<circle cx="255.9" cy="902.0" r="3.7" stroke="#ff3838"/>
<circle cx="302.6" cy="868.8" r="3.7" stroke="#ff3838"/>
<circle cx="282.6" cy="893.7" r="3.7" stroke="#ff3838"/>
<circle cx="308.3" cy="871.0" r="3.7" stroke="#ff0808"/>
<circle cx="299.9" cy="873.4" r="3.7" stroke="#ff1010"/>
<circle cx="312.2" cy="852.1" r="3.7" stroke="#ff0808"/>
<circle cx="273.4" cy="887.8" r="3.7" stroke="#ff0808"/>
<circle cx="240.4" cy="902.7" r="3.7" stroke="#ff0808"/>
<circle cx="253.8" cy="898.8" r="3.7" stroke="#f01010"/>
<circle cx="250.4" cy="895.8" r="3.7" stroke="#ff1010"/>
<circle cx="309.3" cy="852.7" r="3.7" stroke="#ff3838"/>
<circle cx="317.5" cy="860.2" r="3.7" stroke="#ff3838"/>
<circle cx="274.6" cy="885.7" r="3.7" stroke="#f01010"/>
<circle cx="319.7" cy="848.1" r="3.7" stroke="#ff0808"/>
<circle cx="267.1" cy="897.1" r="3.7" stroke="#ff3838"/>
<circle cx="276.2" cy="886.9" r="3.7" stroke="#ff0808"/>
<circle cx="268.7" cy="891.7" r="3.7" stroke="#ff1010"/>
<circle cx="283.5" cy="878.4" r="3.7" stroke="#ff1010"/>
<circle cx="306.8" cy="867.8" r="3.7" stroke="#ff0808"/>
<circle cx="317.1" cy="851.1" r="3.7" stroke="#f01010"/>
<circle cx="317.7" cy="854.3" r="3.7" stroke="#ff0808"/>
<circle cx="281.6" cy="886.2" r="3.7" stroke="#ff1010"/>
<circle cx="256.4" cy="896.9" r="3.7" stroke="#f01010"/>
<circle cx="266.7" cy="887.9" r="3.7" stroke="#f01010"/>
<circle cx="325.7" cy="849.5" r="3.7" stroke="#ff3838"/>
<circle cx="268.5" cy="889.3" r="3.7" stroke="#f01010"/>
<circle cx="266.9" cy="887.0" r="3.7" stroke="#f01010"/>
<circle cx="302.8" cy="871.3" r="3.7" stroke="#ff1010"/>
<circle cx="280.7" cy="873.7" r="3.7" stroke="#ff3838"/>
<circle cx="262.6" cy="884.5" r="3.7" stroke="#f01010"/>
<circle cx="245.1" cy="903.9" r="3.7" stroke="#ff1010"/>
<circle cx="252.6" cy="895.0" r="3.7" stroke="#ff0808"/>
<circle cx="263.3" cy="889.7" r="3.7" stroke="#ff0808"/>
<circle cx="270.4" cy="889.3" r="3.7" stroke="#f01010"/>
<circle cx="280.8" cy="887.8" r="3.7" stroke="#ff0808"/>
<circle cx="247.9" cy="900.1" r="3.7" stroke="#ff0808"/>
<circle cx="294.9" cy="869.9" r="3.7" stroke="#ff0808"/>
<circle cx="291.7" cy="876.1" r="3.7" stroke="#ff1010"/>
<circle cx="268.8" cy="892.9" r="3.7" stroke="#f01010"/>
<circle cx="287.9" cy="885.4" r="3.7" stroke="#f01010"/>
<circle cx="278.9" cy="874.1" r="3.7" stroke="#ff3838"/>
<circle cx="309.7" cy="867.9" r="3.7" stroke="#ff0808"/>
<circle cx="270.4" cy="890.7" r="3.7" stroke="#ff0808"/>
<circle cx="247.1" cy="894.7" r="3.7" stroke="#ff1010"/>
<circle cx="247.8" cy="902.9" r="3.7" stroke="#f01010"/>
<circle cx="302.9" cy="866.0" r="3.7" stroke="#ff3838"/>
<circle cx="251.7" cy="896.3" r="3.7" stroke="#f01010"/>
<circle cx="277.2" cy="885.8" r="3.7" stroke="#ff0808"/>
<circle cx="289.8" cy="873.4" r="3.7" stroke="#ff3838"/>
<circle cx="269.9" cy="889.0" r="3.7" stroke="#ff1010"/>
<circle cx="308.0" cy="861.5" r="3.7" stroke="#ff1010"/>
<circle cx="303.8" cy="867.1" r="3.7" stroke="#f01010"/>
<circle cx="283.0" cy="886.9" r="3.7" stroke="#ff3838"/>
<circle cx="242.5" cy="904.2" r="3.7" stroke="#ff1010"/>
<circle cx="317.9" cy="847.3" r="3.7" stroke="#ff1010"/>
<circle cx="264.0" cy="888.4" r="3.7" stroke="#f01010"/>
<circle cx="261.9" cy="894.0" r="3.7" stroke="#ff1010"/>
<circle cx="296.9" cy="879.3" r="3.7" stroke="#ff3838"/>
<circle cx="308.1" cy="867.1" r="3.7" stroke="#ff1010"/>
<circle cx="268.6" cy="887.8" r="3.7" stroke="#ff0808"/>
<circle cx="275.3" cy="877.8" r="3.7" stroke="#ff3838"/>
<circle cx="270.6" cy="893.0" r="3.7" stroke="#ff0808"/>
<circle cx="315.1" cy="861.6" r="3.7" stroke="#ff0808"/>
<circle cx="268.0" cy="893.0" r="3.7" stroke="#ff1010"/>
<circle cx="297.4" cy="868.2" r="3.7" stroke="#f01010"/>
<circle cx="275.4" cy="881.3" r="3.7" stroke="#ff0808"/>
<circle cx="261.1" cy="892.8" r="3.7" stroke="#ff1010"/>
<circle cx="247.1" cy="898.2" r="3.7" stroke="#f01010"/>
<circle cx="283.4" cy="871.9" r="3.7" stroke="#ff3838"/>
<circle cx="288.9" cy="871.1" r="3.7" stroke="#ff3838"/>
<circle cx="263.5" cy="892.4" r="3.7" stroke="#ff1010"/>
<circle cx="273.8" cy="893.2" r="3.7" stroke="#f01010"/>
<circle cx="253.3" cy="889.8" r="3.7" stroke="#ff0808"/>
<circle cx="313.7" cy="862.9" r="3.7" stroke="#ff3838"/>
<circle cx="282.8" cy="879.0" r="3.7" stroke="#ff1010"/>
<circle cx="309.5" cy="866.6" r="3.7" stroke="#ff3838"/>
<circle cx="307.0" cy="871.3" r="3.7" stroke="#ff0808"/>
<circle cx="299.6" cy="870.6" r="3.7" stroke="#ff0808"/>
<circle cx="312.7" cy="862.5" r="3.7" stroke="#ff0808"/>
<circle cx="293.5" cy="879.7" r="3.7" stroke="#ff1010"/>
<circle cx="293.7" cy="878.5" r="3.7" stroke="#f01010"/>
<circle cx="299.3" cy="868.1" r="3.7" stroke="#ff3838"/>
<circle cx="298.3" cy="874.9" r="3.7" stroke="#ff0808"/>
<circle cx="289.7" cy="880.7" r="3.7" stroke="#ff0808"/>
<circle cx="298.8" cy="877.3" r="3.7" stroke="#ff0808"/>
<circle cx="291.9" cy="874.3" r="3.7" stroke="#ff3838"/>
<circle cx="298.0" cy="876.1" r="3.7" stroke="#ff0808"/>
<circle cx="292.5" cy="877.2" r="3.7" stroke="#ff1010"/>
<circle cx="294.0" cy="877.7" r="3.7" stroke="#ff1010"/>
<circle cx="299.6" cy="877.0" r="3.7" stroke="#f01010"/>
<circle cx="300.0" cy="872.4" r="3.7" stroke="#f01010"/>
<circle cx="284.9" cy="879.7" r="3.7" stroke="#ff0808"/>
<circle cx="289.6" cy="876.4" r="3.7" stroke="#ff1010"/>
<circle cx="298.4" cy="877.2" r="3.7" stroke="#ff0808"/>
<circle cx="308.6" cy="869.7" r="3.7" stroke="#ff3838"/>
<circle cx="305.1" cy="868.6" r="3.7" stroke="#ff0808"/>
<circle cx="304.7" cy="866.6" r="3.7" stroke="#ff3838"/>
<circle cx="300.6" cy="873.9" r="3.7" stroke="#ff1010"/>
<circle cx="298.6" cy="874.1" r="3.7" stroke="#ff0808"/>
<circle cx="294.7" cy="877.5" r="3.7" stroke="#ff0808"/>
<circle cx="306.6" cy="865.4" r="3.7" stroke="#ff1010"/>
<circle cx="303.5" cy="869.3" r="3.7" stroke="#ff0808"/>
<circle cx="296.5" cy="878.7" r="3.7" stroke="#ff1010"/>
<circle cx="307.9" cy="871.0" r="3.7" stroke="#ff1010"/>
<circle cx="300.4" cy="873.6" r="3.7" stroke="#f01010"/>
<circle cx="300.8" cy="874.7" r="3.7" stroke="#f01010"/>
<circle cx="295.0" cy="872.5" r="3.7" stroke="#ff1010"/>
<circle cx="287.0" cy="875.0" r="3.7" stroke="#ff3838"/>
<circle cx="307.1" cy="862.9" r="3.7" stroke="#ff3838"/>
<circle cx="288.5" cy="881.1" r="3.7" stroke="#f01010"/>
<circle cx="290.7" cy="888.5" r="3.7" stroke="#ff3838"/>
<circle cx="291.2" cy="880.3" r="3.7" stroke="#ff1010"/>
<circle cx="294.4" cy="877.7" r="3.7" stroke="#ff1010"/>
<circle cx="287.4" cy="880.2" r="3.7" stroke="#f01010"/>
<circle cx="306.7" cy="867.7" r="3.7" stroke="#f01010"/>
<circle cx="313.8" cy="867.0" r="3.7" stroke="#ff1010"/>
<circle cx="290.5" cy="878.9" r="3.7" stroke="#ff0808"/>
<circle cx="300.6" cy="869.8" r="3.7" stroke="#ff1010"/>
<circle cx="295.9" cy="876.7" r="3.7" stroke="#ff0808"/>
<circle cx="313.7" cy="865.8" r="3.7" stroke="#f01010"/>
<circle cx="298.9" cy="872.4" r="3.7" stroke="#f01010"/>
<circle cx="310.0" cy="871.4" r="3.7" stroke="#ff3838"/>
<circle cx="288.0" cy="879.8" r="3.7" stroke="#f01010"/>
<circle cx="314.3" cy="863.2" r="3.7" stroke="#ff1010"/>
<circle cx="292.0" cy="879.7" r="3.7" stroke="#ff1010"/>
<circle cx="297.0" cy="874.5" r="3.7" stroke="#f01010"/>
<circle cx="311.2" cy="858.3" r="3.7" stroke="#ff3838"/>
<circle cx="304.5" cy="867.8" r="3.7" stroke="#f01010"/>
<circle cx="303.7" cy="872.6" r="3.7" stroke="#ff1010"/>
<circle cx="305.7" cy="873.5" r="3.7" stroke="#ff3838"/>
<circle cx="290.9" cy="872.7" r="3.7" stroke="#ff3838"/>
<circle cx="294.2" cy="876.9" r="3.7" stroke="#ff1010"/>
<circle cx="305.2" cy="872.3" r="3.7" stroke="#ff3838"/>
<circle cx="310.4" cy="865.8" r="3.7" stroke="#ff1010"/>
<circle cx="294.0" cy="874.8" r="3.7" stroke="#ff1010"/>
<circle cx="292.5" cy="876.2" r="3.7" stroke="#ff0808"/>
<circle cx="293.6" cy="874.5" r="3.7" stroke="#f01010"/>
<circle cx="296.7" cy="877.4" r="3.7" stroke="#f01010"/>
<circle cx="303.9" cy="872.4" r="3.7" stroke="#f01010"/>
<circle cx="295.5" cy="873.7" r="3.7" stroke="#ff0808"/>
<circle cx="287.1" cy="877.6" r="3.7" stroke="#ff1010"/>
<circle cx="293.4" cy="874.0" r="3.7" stroke="#f01010"/>
<circle cx="307.2" cy="870.8" r="3.7" stroke="#f01010"/>
<circle cx="295.7" cy="868.8" r="3.7" stroke="#ff3838"/>
<circle cx="309.3" cy="860.5" r="3.7" stroke="#ff1010"/>
<circle cx="306.1" cy="868.6" r="3.7" stroke="#ff0808"/>
<circle cx="307.4" cy="867.7" r="3.7" stroke="#f01010"/>
<circle cx="309.6" cy="866.1" r="3.7" stroke="#ff1010"/>
<circle cx="303.7" cy="872.2" r="3.7" stroke="#ff0808"/>
<circle cx="283.8" cy="876.7" r="3.7" stroke="#ff3838"/>
<circle cx="307.6" cy="861.9" r="3.7" stroke="#f01010"/>
<circle cx="313.3" cy="863.1" r="3.7" stroke="#f01010"/>
<circle cx="302.9" cy="875.0" r="3.7" stroke="#ff1010"/>
<circle cx="303.4" cy="876.8" r="3.7" stroke="#ff3838"/>
<circle cx="299.3" cy="870.8" r="3.7" stroke="#ff0808"/>
<circle cx="303.3" cy="874.0" r="3.7" stroke="#f01010"/>
<circle cx="298.1" cy="877.8" r="3.7" stroke="#ff1010"/>
<circle cx="307.7" cy="869.1" r="3.7" stroke="#ff1010"/>
<circle cx="314.4" cy="867.4" r="3.7" stroke="#f01010"/>
<circle cx="307.0" cy="868.2" r="3.7" stroke="#ff0808"/>
<circle cx="318.1" cy="863.4" r="3.7" stroke="#ff3838"/>
<circle cx="313.5" cy="862.8" r="3.7" stroke="#f01010"/>
<circle cx="303.1" cy="872.1" r="3.7" stroke="#f01010"/>
<circle cx="330.5" cy="827.0" r="3.7" stroke="#ff0808"/>
<circle cx="332.3" cy="826.5" r="3.7" stroke="#ff3838"/>
<circle cx="328.1" cy="836.5" r="3.7" stroke="#ff1010"/>
<circle cx="325.2" cy="828.4" r="3.7" stroke="#ff1010"/>
<circle cx="327.5" cy="833.0" r="3.7" stroke="#f01010"/>
<circle cx="320.0" cy="835.9" r="3.7" stroke="#ff0808"/>
<circle cx="317.4" cy="835.3" r="3.7" stroke="#ff1010"/>
<circle cx="334.6" cy="829.7" r="3.7" stroke="#ff3838"/>
<circle cx="322.8" cy="839.6" r="3.7" stroke="#f01010"/>
<circle cx="322.1" cy="837.5" r="3.7" stroke="#f01010"/>
<circle cx="324.7" cy="829.8" r="3.7" stroke="#f01010"/>
<circle cx="319.0" cy="827.9" r="3.7" stroke="#ff1010"/>
<circle cx="323.7" cy="841.2" r="3.7" stroke="#f01010"/>
<circle cx="326.9" cy="842.0" r="3.7" stroke="#ff3838"/>
<circle cx="331.6" cy="812.8" r="3.7" stroke="#ff0808"/>
<circle cx="323.6" cy="824.6" r="3.7" stroke="#f01010"/>
<circle cx="325.7" cy="831.1" r="3.7" stroke="#ff1010"/>
<circle cx="317.5" cy="833.5" r="3.7" stroke="#ff1010"/>
<circle cx="322.6" cy="824.4" r="3.7" stroke="#ff1010"/>
<circle cx="325.5" cy="814.9" r="3.7" stroke="#ff3838"/>
<circle cx="333.8" cy="818.1" r="3.7" stroke="#ff3838"/>
<circle cx="323.9" cy="830.5" r="3.7" stroke="#ff1010"/>
<circle cx="324.6" cy="833.5" r="3.7" stroke="#ff3838"/>
<circle cx="318.3" cy="813.4" r="3.7" stroke="#ff3838"/>
<circle cx="319.3" cy="820.1" r="3.7" stroke="#f01010"/>
<circle cx="316.8" cy="846.0" r="3.7" stroke="#f01010"/>
<circle cx="329.2" cy="812.5" r="3.7" stroke="#f01010"/>
<circle cx="323.7" cy="811.3" r="3.7" stroke="#ff1010"/>
<circle cx="320.9" cy="842.6" r="3.7" stroke="#ff0808"/>
<circle cx="329.6" cy="819.0" r="3.7" stroke="#ff0808"/>
<circle cx="325.9" cy="819.5" r="3.7" stroke="#ff1010"/>
<circle cx="322.5" cy="838.3" r="3.7" stroke="#ff1010"/>
<circle cx="325.0" cy="819.5" r="3.7" stroke="#f01010"/>
<circle cx="326.4" cy="809.2" r="3.7" stroke="#ff1010"/>
<circle cx="329.1" cy="840.7" r="3.7" stroke="#ff3838"/>
<circle cx="326.1" cy="823.0" r="3.7" stroke="#ff0808"/>
<circle cx="318.1" cy="827.7" r="3.7" stroke="#ff3838"/>
<circle cx="320.8" cy="847.3" r="3.7" stroke="#f01010"/>
<circle cx="322.8" cy="826.9" r="3.7" stroke="#ff0808"/>
<circle cx="327.2" cy="829.6" r="3.7" stroke="#ff0808"/>
<circle cx="314.5" cy="837.9" r="3.7" stroke="#ff3838"/>
<circle cx="327.1" cy="837.4" r="3.7" stroke="#ff1010"/>
<circle cx="320.8" cy="843.7" r="3.7" stroke="#f01010"/>
<circle cx="319.1" cy="827.8" r="3.7" stroke="#ff1010"/>
<circle cx="315.3" cy="839.7" r="3.7" stroke="#ff3838"/>
<circle cx="321.2" cy="810.4" r="3.7" stroke="#ff0808"/>
<circle cx="334.1" cy="816.6" r="3.7" stroke="#ff0808"/>
<circle cx="325.8" cy="846.5" r="3.7" stroke="#ff1010"/>
<circle cx="327.4" cy="809.4" r="3.7" stroke="#ff0808"/>
<circle cx="328.0" cy="826.3" r="3.7" stroke="#ff0808"/>
<circle cx="324.7" cy="825.4" r="3.7" stroke="#f01010"/>
<circle cx="331.9" cy="821.4" r="3.7" stroke="#ff1010"/>
<circle cx="318.0" cy="826.9" r="3.7" stroke="#ff0808"/>
<circle cx="326.6" cy="834.3" r="3.7" stroke="#ff1010"/>
<circle cx="317.7" cy="833.8" r="3.7" stroke="#ff3838"/>
<circle cx="326.5" cy="832.6" r="3.7" stroke="#ff3838"/>
<circle cx="316.6" cy="841.6" r="3.7" stroke="#ff0808"/>
<circle cx="324.3" cy="832.5" r="3.7" stroke="#f01010"/>
<circle cx="329.2" cy="831.2" r="3.7" stroke="#f01010"/>
<circle cx="317.5" cy="848.5" r="3.7" stroke="#ff0808"/>
<circle cx="323.9" cy="819.3" r="3.7" stroke="#ff1010"/>
<circle cx="323.0" cy="847.3" r="3.7" stroke="#ff1010"/>
<circle cx="323.5" cy="808.6" r="3.7" stroke="#f01010"/>
<circle cx="331.5" cy="818.6" r="3.7" stroke="#ff0808"/>
<circle cx="324.8" cy="831.3" r="3.7" stroke="#ff0808"/>
<circle cx="329.1" cy="816.9" r="3.7" stroke="#ff1010"/>
<circle cx="325.6" cy="813.3" r="3.7" stroke="#ff1010"/>
<circle cx="328.2" cy="821.6" r="3.7" stroke="#ff0808"/>
<circle cx="327.5" cy="812.9" r="3.7" stroke="#ff1010"/>
<circle cx="326.0" cy="826.2" r="3.7" stroke="#ff1010"/>
<circle cx="333.6" cy="813.8" r="3.7" stroke="#ff3838"/>
<circle cx="315.7" cy="819.7" r="3.7" stroke="#ff3838"/>
<circle cx="324.8" cy="829.4" r="3.7" stroke="#f01010"/>
<circle cx="321.3" cy="841.3" r="3.7" stroke="#f01010"/>
<circle cx="320.9" cy="829.4" r="3.7" stroke="#f01010"/>
<circle cx="317.6" cy="844.1" r="3.7" stroke="#ff1010"/>
<circle cx="324.8" cy="811.2" r="3.7" stroke="#ff0808"/>
<circle cx="320.9" cy="834.3" r="3.7" stroke="#f01010"/>
<circle cx="329.5" cy="819.1" r="3.7" stroke="#ff0808"/>
<circle cx="330.0" cy="816.1" r="3.7" stroke="#f01010"/>
<circle cx="326.7" cy="833.7" r="3.7" stroke="#ff1010"/>
<circle cx="328.4" cy="835.9" r="3.7" stroke="#ff1010"/>
<circle cx="332.4" cy="802.8" r="3.7" stroke="#ff3838"/>
<circle cx="324.8" cy="842.4" r="3.7" stroke="#f01010"/>
<circle cx="326.8" cy="839.6" r="3.7" stroke="#ff0808"/>
<circle cx="260.0" cy="895.2" r="3.7" stroke="#f01010"/>
<circle cx="245.5" cy="910.0" r="3.7" stroke="#ff0808"/>
<circle cx="257.0" cy="895.4" r="3.7" stroke="#f01010"/>
<circle cx="250.0" cy="907.4" r="3.7" stroke="#f01010"/>
<circle cx="257.8" cy="904.4" r="3.7" stroke="#ff3838"/>
<circle cx="256.8" cy="897.1" r="3.7" stroke="#ff1010"/>
<circle cx="250.6" cy="896.9" r="3.7" stroke="#ff1010"/>
<circle cx="255.7" cy="893.9" r="3.7" stroke="#ff0808"/>
<circle cx="244.4" cy="899.0" r="3.7" stroke="#ff3838"/>
<circle cx="248.1" cy="901.4" r="3.7" stroke="#ff0808"/>
<circle cx="255.3" cy="892.8" r="3.7" stroke="#ff1010"/>
<circle cx="251.7" cy="897.8" r="3.7" stroke="#ff1010"/>
<circle cx="247.3" cy="902.0" r="3.7" stroke="#f01010"/>
<circle cx="250.3" cy="902.5" r="3.7" stroke="#ff0808"/>
<circle cx="251.6" cy="901.3" r="3.7" stroke="#ff0808"/>
<circle cx="254.1" cy="893.2" r="3.7" stroke="#ff0808"/>
<circle cx="259.3" cy="890.5" r="3.7" stroke="#f01010"/>
<circle cx="240.3" cy="901.3" r="3.7" stroke="#f01010"/>
<circle cx="258.0" cy="893.9" r="3.7" stroke="#ff1010"/>
<circle cx="266.6" cy="897.7" r="3.7" stroke="#ff1010"/>
<circle cx="252.1" cy="904.0" r="3.7" stroke="#f01010"/>
<circle cx="246.8" cy="901.1" r="3.7" stroke="#f01010"/>
<circle cx="260.5" cy="896.6" r="3.7" stroke="#f01010"/>
<circle cx="264.6" cy="900.8" r="3.7" stroke="#ff3838"/>
<circle cx="248.6" cy="896.0" r="3.7" stroke="#ff1010"/>
<circle cx="251.3" cy="896.9" r="3.7" stroke="#f01010"/>
<circle cx="256.4" cy="896.0" r="3.7" stroke="#ff0808"/>
<circle cx="251.7" cy="884.1" r="3.7" stroke="#ff3838"/>
<circle cx="245.8" cy="896.1" r="3.7" stroke="#f01010"/>
<circle cx="261.4" cy="896.5" r="3.7" stroke="#ff0808"/>
<circle cx="254.3" cy="901.6" r="3.7" stroke="#ff0808"/>
<circle cx="255.5" cy="889.0" r="3.7" stroke="#ff3838"/>
<circle cx="255.6" cy="904.6" r="3.7" stroke="#ff1010"/>
<circle cx="243.5" cy="902.1" r="3.7" stroke="#ff1010"/>
<circle cx="258.1" cy="902.6" r="3.7" stroke="#ff1010"/>
<circle cx="239.3" cy="904.1" r="3.7" stroke="#ff1010"/>
<circle cx="252.0" cy="912.4" r="3.7" stroke="#ff3838"/>
<circle cx="251.8" cy="900.2" r="3.7" stroke="#ff1010"/>
<circle cx="252.7" cy="891.7" r="3.7" stroke="#ff0808"/>
<circle cx="261.0" cy="893.8" r="3.7" stroke="#f01010"/>
<circle cx="263.0" cy="905.3" r="3.7" stroke="#ff3838"/>
<circle cx="265.7" cy="890.7" r="3.7" stroke="#f01010"/>
<circle cx="249.1" cy="896.3" r="3.7" stroke="#ff1010"/>
<circle cx="255.7" cy="903.0" r="3.7" stroke="#ff3838"/>
<circle cx="257.6" cy="903.8" r="3.7" stroke="#ff3838"/>
<circle cx="260.6" cy="893.2" r="3.7" stroke="#f01010"/>
<circle cx="253.5" cy="895.2" r="3.7" stroke="#f01010"/>
<circle cx="253.7" cy="898.0" r="3.7" stroke="#f01010"/>
<circle cx="270.8" cy="893.4" r="3.7" stroke="#ff3838"/>
<circle cx="248.4" cy="905.3" r="3.7" stroke="#ff0808"/>
<circle cx="245.3" cy="904.5" r="3.7" stroke="#f01010"/>
<circle cx="251.8" cy="901.9" r="3.7" stroke="#f01010"/>
<circle cx="257.1" cy="900.3" r="3.7" stroke="#f01010"/>
<circle cx="254.7" cy="902.5" r="3.7" stroke="#ff0808"/>
<circle cx="254.8" cy="893.4" r="3.7" stroke="#ff1010"/>
<circle cx="248.8" cy="942.8" r="3.7" stroke="#ff1010"/>
<circle cx="239.4" cy="928.4" r="3.7" stroke="#ff1010"/>
<circle cx="236.9" cy="939.9" r="3.7" stroke="#ff0808"/>
<circle cx="245.0" cy="937.1" r="3.7" stroke="#f01010"/>
<circle cx="247.7" cy="937.5" r="3.7" stroke="#ff3838"/>
<circle cx="244.4" cy="949.0" r="3.7" stroke="#ff1010"/>
<circle cx="246.0" cy="937.4" r="3.7" stroke="#ff1010"/>
<circle cx="235.2" cy="941.8" r="3.7" stroke="#ff3838"/>
<circle cx="243.4" cy="935.6" r="3.7" stroke="#f01010"/>
<circle cx="247.6" cy="943.6" r="3.7" stroke="#ff1010"/>
<circle cx="244.2" cy="948.7" r="3.7" stroke="#ff0808"/>
<circle cx="236.1" cy="930.4" r="3.7" stroke="#ff1010"/>
<circle cx="240.6" cy="938.8" r="3.7" stroke="#f01010"/>
<circle cx="242.3" cy="942.5" r="3.7" stroke="#ff1010"/>
<circle cx="236.0" cy="934.9" r="3.7" stroke="#ff0808"/>
<circle cx="241.0" cy="923.1" r="3.7" stroke="#ff3838"/>
<circle cx="246.7" cy="939.6" r="3.7" stroke="#ff0808"/>
<circle cx="247.6" cy="951.3" r="3.7" stroke="#ff0808"/>
<circle cx="243.9" cy="938.9" r="3.7" stroke="#ff1010"/>
<circle cx="249.4" cy="948.4" r="3.7" stroke="#ff0808"/>
<circle cx="251.5" cy="949.5" r="3.7" stroke="#ff0808"/>
<circle cx="237.3" cy="934.3" r="3.7" stroke="#f01010"/>
<circle cx="249.4" cy="944.9" r="3.7" stroke="#f01010"/>
<circle cx="238.0" cy="934.0" r="3.7" stroke="#ff0808"/>
<circle cx="235.1" cy="925.1" r="3.7" stroke="#f01010"/>
<circle cx="250.0" cy="934.3" r="3.7" stroke="#ff3838"/>
<circle cx="241.7" cy="940.2" r="3.7" stroke="#ff0808"/>
<circle cx="250.3" cy="947.4" r="3.7" stroke="#f01010"/>
<circle cx="244.8" cy="949.6" r="3.7" stroke="#ff1010"/>
<circle cx="243.6" cy="922.5" r="3.7" stroke="#ff3838"/>
<circle cx="234.5" cy="929.3" r="3.7" stroke="#ff1010"/>
<circle cx="249.4" cy="948.2" r="3.7" stroke="#ff1010"/>
<circle cx="242.5" cy="950.4" r="3.7" stroke="#ff3838"/>
<circle cx="247.3" cy="945.6" r="3.7" stroke="#ff1010"/>
<circle cx="248.3" cy="941.6" r="3.7" stroke="#f01010"/>
<circle cx="234.2" cy="930.9" r="3.7" stroke="#ff0808"/>
<circle cx="245.8" cy="945.4" r="3.7" stroke="#ff0808"/>
<circle cx="233.6" cy="926.5" r="3.7" stroke="#f01010"/>
<circle cx="235.5" cy="928.9" r="3.7" stroke="#ff3838"/>
<circle cx="243.4" cy="943.2" r="3.7" stroke="#ff1010"/>
<circle cx="247.2" cy="946.5" r="3.7" stroke="#f01010"/>
<circle cx="252.1" cy="946.8" r="3.7" stroke="#ff3838"/>
<circle cx="236.3" cy="935.9" r="3.7" stroke="#ff0808"/>
<circle cx="230.8" cy="925.6" r="3.7" stroke="#ff1010"/>
<circle cx="237.4" cy="930.7" r="3.7" stroke="#ff1010"/>
<circle cx="237.7" cy="930.3" r="3.7" stroke="#ff0808"/>
<circle cx="235.4" cy="932.1" r="3.7" stroke="#ff0808"/>
<circle cx="249.0" cy="948.0" r="3.7" stroke="#ff1010"/>
<circle cx="240.8" cy="933.8" r="3.7" stroke="#f01010"/>
<circle cx="246.5" cy="948.9" r="3.7" stroke="#f01010"/>
<circle cx="253.8" cy="964.7" r="3.7" stroke="#f01010"/>
<circle cx="256.7" cy="978.6" r="3.7" stroke="#ff1010"/>
<circle cx="260.7" cy="958.9" r="3.7" stroke="#ff1010"/>
<circle cx="251.4" cy="968.4" r="3.7" stroke="#ff3838"/>
<circle cx="257.4" cy="959.5" r="3.7" stroke="#ff0808"/>
<circle cx="262.9" cy="967.4" r="3.7" stroke="#ff1010"/>
<circle cx="260.5" cy="963.9" r="3.7" stroke="#ff0808"/>
<circle cx="257.4" cy="965.0" r="3.7" stroke="#ff1010"/>
<circle cx="253.3" cy="974.3" r="3.7" stroke="#ff0808"/>
<circle cx="261.1" cy="954.3" r="3.7" stroke="#f01010"/>
<circle cx="261.5" cy="978.8" r="3.7" stroke="#ff1010"/>
<circle cx="262.2" cy="980.0" r="3.7" stroke="#ff0808"/>
<circle cx="259.1" cy="969.0" r="3.7" stroke="#ff0808"/>
<circle cx="253.8" cy="961.3" r="3.7" stroke="#ff0808"/>
<circle cx="251.4" cy="961.3" r="3.7" stroke="#ff3838"/>
<circle cx="261.7" cy="973.4" r="3.7" stroke="#f01010"/>
<circle cx="265.7" cy="970.1" r="3.7" stroke="#f01010"/>
<circle cx="256.0" cy="972.6" r="3.7" stroke="#ff0808"/>
<circle cx="260.7" cy="984.1" r="3.7" stroke="#ff1010"/>
<circle cx="269.9" cy="977.1" r="3.7" stroke="#ff3838"/>
<circle cx="254.8" cy="964.5" r="3.7" stroke="#f01010"/>
<circle cx="260.8" cy="962.9" r="3.7" stroke="#f01010"/>
<circle cx="263.1" cy="974.8" r="3.7" stroke="#ff0808"/>
<circle cx="264.3" cy="970.9" r="3.7" stroke="#ff1010"/>
<circle cx="255.7" cy="961.8" r="3.7" stroke="#ff0808"/>
<circle cx="260.5" cy="980.2" r="3.7" stroke="#f01010"/>
<circle cx="268.1" cy="977.3" r="3.7" stroke="#ff3838"/>
<circle cx="262.4" cy="974.7" r="3.7" stroke="#ff1010"/>
<circle cx="264.9" cy="979.9" r="3.7" stroke="#ff0808"/>
<circle cx="263.3" cy="955.9" r="3.7" stroke="#ff1010"/>
<circle cx="264.9" cy="972.2" r="3.7" stroke="#ff1010"/>
<circle cx="258.5" cy="973.4" r="3.7" stroke="#ff1010"/>
<circle cx="261.6" cy="968.5" r="3.7" stroke="#ff0808"/>
<circle cx="252.6" cy="969.9" r="3.7" stroke="#ff1010"/>
<circle cx="262.8" cy="968.5" r="3.7" stroke="#ff0808"/>
<circle cx="253.3" cy="972.8" r="3.7" stroke="#ff1010"/>
<circle cx="263.7" cy="970.5" r="3.7" stroke="#ff1010"/>
<circle cx="262.1" cy="966.0" r="3.7" stroke="#f01010"/>
<circle cx="257.6" cy="973.4" r="3.7" stroke="#f01010"/>
<circle cx="258.8" cy="970.5" r="3.7" stroke="#f01010"/>
<circle cx="275.7" cy="975.0" r="3.7" stroke="#ff3838"/>
<circle cx="260.0" cy="955.2" r="3.7" stroke="#ff1010"/>
<circle cx="261.2" cy="975.4" r="3.7" stroke="#ff0808"/>
<circle cx="256.9" cy="966.9" r="3.7" stroke="#ff1010"/>
<circle cx="250.3" cy="973.7" r="3.7" stroke="#ff3838"/>
<circle cx="258.0" cy="974.8" r="3.7" stroke="#ff0808"/>
<circle cx="266.5" cy="967.6" r="3.7" stroke="#ff1010"/>
<circle cx="265.0" cy="971.1" r="3.7" stroke="#ff0808"/>
<circle cx="259.2" cy="966.6" r="3.7" stroke="#ff0808"/>
<circle cx="257.2" cy="979.9" r="3.7" stroke="#ff1010"/>
<circle cx="263.8" cy="960.4" r="3.7" stroke="#ff1010"/>
<circle cx="263.7" cy="962.8" r="3.7" stroke="#ff1010"/>
<circle cx="254.1" cy="979.1" r="3.7" stroke="#ff3838"/>
<circle cx="255.1" cy="979.0" r="3.7" stroke="#f01010"/>
<circle cx="261.8" cy="976.6" r="3.7" stroke="#ff1010"/>
<circle cx="263.4" cy="978.8" r="3.7" stroke="#f01010"/>
<circle cx="262.3" cy="973.9" r="3.7" stroke="#f01010"/>
<circle cx="262.1" cy="978.3" r="3.7" stroke="#f01010"/>
<circle cx="259.1" cy="977.6" r="3.7" stroke="#f01010"/>
<circle cx="267.2" cy="968.4" r="3.7" stroke="#ff1010"/>
<circle cx="262.0" cy="964.6" r="3.7" stroke="#f01010"/>
<circle cx="259.1" cy="971.2" r="3.7" stroke="#f01010"/>
<circle cx="258.2" cy="961.4" r="3.7" stroke="#ff1010"/>
<circle cx="260.3" cy="970.6" r="3.7" stroke="#ff0808"/>
<circle cx="262.2" cy="975.0" r="3.7" stroke="#f01010"/>
<circle cx="253.0" cy="981.0" r="3.7" stroke="#ff3838"/>
<circle cx="259.1" cy="962.4" r="3.7" stroke="#ff0808"/>
<circle cx="258.9" cy="972.7" r="3.7" stroke="#ff0808"/>
<circle cx="264.1" cy="965.8" r="3.7" stroke="#ff0808"/>
<circle cx="260.1" cy="955.4" r="3.7" stroke="#ff0808"/>
<circle cx="261.0" cy="968.0" r="3.7" stroke="#f01010"/>
<circle cx="258.9" cy="976.5" r="3.7" stroke="#ff0808"/>
<circle cx="269.2" cy="977.7" r="3.7" stroke="#ff3838"/>
<circle cx="257.6" cy="981.9" r="3.7" stroke="#ff0808"/>
<circle cx="258.8" cy="968.6" r="3.7" stroke="#f01010"/>
<circle cx="257.9" cy="972.8" r="3.7" stroke="#ff1010"/>
<circle cx="262.9" cy="970.2" r="3.7" stroke="#f01010"/>
<circle cx="259.3" cy="967.7" r="3.7" stroke="#f01010"/>
<circle cx="259.1" cy="977.2" r="3.7" stroke="#f01010"/>
<circle cx="257.8" cy="967.7" r="3.7" stroke="#ff1010"/>
<circle cx="258.9" cy="962.6" r="3.7" stroke="#ff1010"/>
<circle cx="258.4" cy="956.5" r="3.7" stroke="#f01010"/>
<circle cx="262.5" cy="973.5" r="3.7" stroke="#ff0808"/>
<circle cx="259.9" cy="982.1" r="3.7" stroke="#f01010"/>
<circle cx="256.9" cy="973.7" r="3.7" stroke="#ff0808"/>
<circle cx="262.2" cy="964.4" r="3.7" stroke="#ff1010"/>
<circle cx="259.7" cy="976.5" r="3.7" stroke="#ff0808"/>
<circle cx="260.8" cy="971.3" r="3.7" stroke="#ff1010"/>
<circle cx="266.9" cy="970.8" r="3.7" stroke="#ff0808"/>
<circle cx="252.2" cy="962.7" r="3.7" stroke="#ff3838"/>
<circle cx="264.1" cy="967.9" r="3.7" stroke="#ff1010"/>
<circle cx="254.2" cy="952.2" r="3.7" stroke="#ff3838"/>
<circle cx="262.7" cy="981.7" r="3.7" stroke="#ff0808"/>
<circle cx="253.3" cy="950.6" r="3.7" stroke="#ff3838"/>
<circle cx="262.3" cy="964.4" r="3.7" stroke="#ff1010"/>
<circle cx="258.8" cy="966.2" r="3.7" stroke="#ff0808"/>
<circle cx="256.4" cy="972.7" r="3.7" stroke="#f01010"/>
<circle cx="264.7" cy="972.0" r="3.7" stroke="#ff0808"/>
<circle cx="258.4" cy="977.7" r="3.7" stroke="#ff0808"/>
<circle cx="260.2" cy="973.9" r="3.7" stroke="#ff1010"/>
<circle cx="256.4" cy="974.5" r="3.7" stroke="#ff1010"/>
<circle cx="264.5" cy="979.8" r="3.7" stroke="#f01010"/>
<circle cx="260.7" cy="972.7" r="3.7" stroke="#f01010"/>
<circle cx="258.2" cy="976.4" r="3.7" stroke="#ff1010"/>
<circle cx="264.5" cy="978.1" r="3.7" stroke="#ff0808"/>
<circle cx="257.8" cy="958.7" r="3.7" stroke="#ff1010"/>
<circle cx="259.9" cy="967.2" r="3.7" stroke="#ff1010"/>
<circle cx="257.3" cy="974.1" r="3.7" stroke="#f01010"/>
<circle cx="264.9" cy="972.3" r="3.7" stroke="#f01010"/>
<circle cx="265.6" cy="972.3" r="3.7" stroke="#ff0808"/>
<circle cx="255.5" cy="964.0" r="3.7" stroke="#ff1010"/>
<circle cx="259.1" cy="974.7" r="3.7" stroke="#f01010"/>
<circle cx="264.6" cy="970.1" r="3.7" stroke="#ff0808"/>
<circle cx="264.4" cy="962.1" r="3.7" stroke="#f01010"/>
<circle cx="260.7" cy="981.5" r="3.7" stroke="#f01010"/>
<circle cx="263.0" cy="977.8" r="3.7" stroke="#ff1010"/>
<circle cx="250.8" cy="954.9" r="3.7" stroke="#ff3838"/>
<circle cx="257.0" cy="977.4" r="3.7" stroke="#ff0808"/>
<circle cx="267.3" cy="963.8" r="3.7" stroke="#ff0808"/>
<circle cx="255.2" cy="960.5" r="3.7" stroke="#f01010"/>
<circle cx="256.6" cy="973.6" r="3.7" stroke="#f01010"/>
<circle cx="260.0" cy="984.7" r="3.7" stroke="#ff3838"/>
<circle cx="263.2" cy="963.2" r="3.7" stroke="#ff0808"/>
<circle cx="261.3" cy="967.7" r="3.7" stroke="#ff0808"/>
<circle cx="264.4" cy="976.6" r="3.7" stroke="#ff0808"/>
<circle cx="259.3" cy="976.5" r="3.7" stroke="#f01010"/>
<circle cx="262.9" cy="968.3" r="3.7" stroke="#ff1010"/>
<circle cx="261.9" cy="974.7" r="3.7" stroke="#ff1010"/>
<circle cx="258.5" cy="963.3" r="3.7" stroke="#ff0808"/>
<circle cx="266.1" cy="969.0" r="3.7" stroke="#ff1010"/>
<circle cx="257.9" cy="972.8" r="3.7" stroke="#ff0808"/>
<circle cx="253.7" cy="969.4" r="3.7" stroke="#f01010"/>
<circle cx="253.9" cy="965.4" r="3.7" stroke="#ff1010"/>
<circle cx="251.8" cy="963.0" r="3.7" stroke="#ff3838"/>
<circle cx="264.3" cy="967.5" r="3.7" stroke="#f01010"/>
<circle cx="255.9" cy="983.5" r="3.7" stroke="#ff3838"/>
<circle cx="258.4" cy="981.4" r="3.7" stroke="#ff1010"/>
<circle cx="257.1" cy="956.8" r="3.7" stroke="#f01010"/>
<circle cx="268.4" cy="965.4" r="3.7" stroke="#ff3838"/>
<circle cx="264.5" cy="978.9" r="3.7" stroke="#ff0808"/>
<circle cx="254.4" cy="969.6" r="3.7" stroke="#ff0808"/>
<circle cx="258.1" cy="974.1" r="3.7" stroke="#ff0808"/>
<circle cx="259.5" cy="958.5" r="3.7" stroke="#f01010"/>
<circle cx="261.0" cy="975.4" r="3.7" stroke="#ff1010"/>
<circle cx="259.3" cy="973.7" r="3.7" stroke="#f01010"/>
<circle cx="257.9" cy="968.6" r="3.7" stroke="#ff1010"/>
<circle cx="262.0" cy="970.2" r="3.7" stroke="#f01010"/>
<circle cx="266.6" cy="976.9" r="3.7" stroke="#ff0808"/>
<circle cx="264.6" cy="975.0" r="3.7" stroke="#ff1010"/>
<circle cx="260.4" cy="959.3" r="3.7" stroke="#ff1010"/>
<circle cx="266.2" cy="983.5" r="3.7" stroke="#ff3838"/>
<circle cx="261.2" cy="966.9" r="3.7" stroke="#ff0808"/>
<circle cx="260.9" cy="979.1" r="3.7" stroke="#ff0808"/>
<circle cx="261.1" cy="960.8" r="3.7" stroke="#f01010"/>
<circle cx="259.1" cy="962.6" r="3.7" stroke="#f01010"/>
<circle cx="258.9" cy="961.6" r="3.7" stroke="#f01010"/>
<circle cx="257.3" cy="981.4" r="3.7" stroke="#ff1010"/>
<circle cx="264.1" cy="955.6" r="3.7" stroke="#ff3838"/>
<circle cx="255.7" cy="965.3" r="3.7" stroke="#f01010"/>
<circle cx="257.8" cy="957.5" r="3.7" stroke="#ff1010"/>
<circle cx="263.4" cy="955.6" r="3.7" stroke="#ff0808"/>
<circle cx="263.9" cy="974.8" r="3.7" stroke="#ff1010"/>
<circle cx="258.3" cy="963.6" r="3.7" stroke="#ff0808"/>
<circle cx="260.7" cy="970.2" r="3.7" stroke="#ff0808"/>
<circle cx="250.2" cy="958.6" r="3.7" stroke="#ff3838"/>
<circle cx="262.7" cy="968.1" r="3.7" stroke="#f01010"/>
<circle cx="257.9" cy="960.8" r="3.7" stroke="#ff1010"/>
<circle cx="256.7" cy="962.7" r="3.7" stroke="#ff1010"/>
<circle cx="272.2" cy="958.6" r="3.7" stroke="#ff3838"/>
<circle cx="267.5" cy="973.0" r="3.7" stroke="#ff0808"/>
<circle cx="261.4" cy="970.6" r="3.7" stroke="#ff1010"/>
<circle cx="259.6" cy="982.4" r="3.7" stroke="#f01010"/>
<circle cx="262.6" cy="968.8" r="3.7" stroke="#ff1010"/>
<circle cx="259.9" cy="970.7" r="3.7" stroke="#ff0808"/>
<circle cx="255.0" cy="966.4" r="3.7" stroke="#ff1010"/>
<circle cx="257.9" cy="974.2" r="3.7" stroke="#ff1010"/>
<circle cx="262.0" cy="953.5" r="3.7" stroke="#ff3838"/>
<circle cx="259.9" cy="977.2" r="3.7" stroke="#ff1010"/>
<circle cx="253.8" cy="959.2" r="3.7" stroke="#ff0808"/>
<circle cx="264.8" cy="967.9" r="3.7" stroke="#f01010"/>
<circle cx="257.6" cy="958.9" r="3.7" stroke="#ff0808"/>
<circle cx="260.8" cy="964.4" r="3.7" stroke="#ff1010"/>
<circle cx="261.6" cy="972.6" r="3.7" stroke="#ff1010"/>
<circle cx="263.3" cy="966.3" r="3.7" stroke="#f01010"/>
<circle cx="258.0" cy="969.3" r="3.7" stroke="#ff0808"/>
<circle cx="260.0" cy="970.5" r="3.7" stroke="#ff1010"/>
<circle cx="257.8" cy="967.0" r="3.7" stroke="#f01010"/>
<circle cx="257.4" cy="964.1" r="3.7" stroke="#ff1010"/>
<circle cx="261.7" cy="978.6" r="3.7" stroke="#f01010"/>
<circle cx="258.3" cy="973.9" r="3.7" stroke="#f01010"/>
<circle cx="262.0" cy="969.9" r="3.7" stroke="#ff1010"/>
<circle cx="263.1" cy="964.4" r="3.7" stroke="#f01010"/>
<circle cx="263.1" cy="971.5" r="3.7" stroke="#ff1010"/>
<circle cx="244.9" cy="972.0" r="3.7" stroke="#ff3838"/>
<circle cx="264.2" cy="985.3" r="3.7" stroke="#ff3838"/>
<circle cx="255.6" cy="969.8" r="3.7" stroke="#f01010"/>
<circle cx="261.4" cy="961.0" r="3.7" stroke="#f01010"/>
<circle cx="266.0" cy="972.8" r="3.7" stroke="#ff1010"/>
<circle cx="256.1" cy="959.1" r="3.7" stroke="#f01010"/>
<circle cx="259.9" cy="988.8" r="3.7" stroke="#ff3838"/>
<circle cx="268.6" cy="948.4" r="3.7" stroke="#ff3838"/>
<circle cx="252.5" cy="974.6" r="3.7" stroke="#ff3838"/>
<circle cx="259.5" cy="963.7" r="3.7" stroke="#ff0808"/>
<circle cx="263.1" cy="969.8" r="3.7" stroke="#f01010"/>
<circle cx="261.8" cy="971.2" r="3.7" stroke="#ff0808"/>
<circle cx="256.2" cy="980.0" r="3.7" stroke="#ff1010"/>
<circle cx="258.9" cy="978.5" r="3.7" stroke="#ff0808"/>
<circle cx="263.5" cy="969.3" r="3.7" stroke="#f01010"/>
<circle cx="261.0" cy="968.6" r="3.7" stroke="#f01010"/>
<circle cx="251.9" cy="966.3" r="3.7" stroke="#ff3838"/>
<circle cx="261.3" cy="955.6" r="3.7" stroke="#f01010"/>
<circle cx="254.3" cy="978.0" r="3.7" stroke="#ff3838"/>
<circle cx="263.1" cy="956.1" r="3.7" stroke="#f01010"/>
<circle cx="262.4" cy="968.6" r="3.7" stroke="#f01010"/>
<circle cx="264.6" cy="966.3" r="3.7" stroke="#ff1010"/>
<circle cx="258.9" cy="962.8" r="3.7" stroke="#ff1010"/>
<circle cx="261.1" cy="968.0" r="3.7" stroke="#ff0808"/>
<circle cx="257.2" cy="966.1" r="3.7" stroke="#f01010"/>
<circle cx="257.3" cy="974.2" r="3.7" stroke="#ff1010"/>
<circle cx="254.8" cy="956.0" r="3.7" stroke="#ff3838"/>
<circle cx="256.6" cy="978.1" r="3.7" stroke="#ff0808"/>
<circle cx="258.4" cy="974.4" r="3.7" stroke="#f01010"/>
<circle cx="263.4" cy="964.8" r="3.7" stroke="#ff0808"/>
<circle cx="264.1" cy="973.2" r="3.7" stroke="#f01010"/>
<circle cx="259.7" cy="963.1" r="3.7" stroke="#f01010"/>
<circle cx="259.3" cy="958.3" r="3.7" stroke="#f01010"/>
<circle cx="258.8" cy="964.1" r="3.7" stroke="#ff1010"/>
<circle cx="262.5" cy="971.9" r="3.7" stroke="#f01010"/>
<circle cx="257.9" cy="976.2" r="3.7" stroke="#f01010"/>
<circle cx="265.8" cy="969.6" r="3.7" stroke="#ff1010"/>
<circle cx="257.3" cy="973.2" r="3.7" stroke="#ff0808"/>
<circle cx="248.9" cy="964.1" r="3.7" stroke="#ff3838"/>
<circle cx="264.2" cy="985.8" r="3.7" stroke="#ff3838"/>
<circle cx="257.9" cy="981.8" r="3.7" stroke="#ff1010"/>
<circle cx="272.0" cy="984.8" r="3.7" stroke="#ff3838"/>
<circle cx="250.3" cy="978.2" r="3.7" stroke="#ff3838"/>
<circle cx="261.8" cy="977.5" r="3.7" stroke="#ff1010"/>
<circle cx="259.2" cy="963.8" r="3.7" stroke="#ff1010"/>
<circle cx="260.2" cy="981.6" r="3.7" stroke="#ff1010"/>
<circle cx="264.0" cy="966.5" r="3.7" stroke="#ff0808"/>
<circle cx="262.6" cy="976.3" r="3.7" stroke="#f01010"/>
<circle cx="262.9" cy="968.6" r="3.7" stroke="#ff1010"/>
<circle cx="256.9" cy="962.7" r="3.7" stroke="#ff0808"/>
<circle cx="258.0" cy="964.3" r="3.7" stroke="#ff1010"/>
<circle cx="252.3" cy="957.1" r="3.7" stroke="#ff3838"/>
<circle cx="263.7" cy="959.6" r="3.7" stroke="#ff1010"/>
<circle cx="254.3" cy="968.6" r="3.7" stroke="#ff0808"/>
<circle cx="267.7" cy="979.6" r="3.7" stroke="#ff3838"/>
<circle cx="257.8" cy="960.3" r="3.7" stroke="#f01010"/>
<circle cx="257.3" cy="961.3" r="3.7" stroke="#ff1010"/>
<circle cx="258.1" cy="973.0" r="3.7" stroke="#ff0808"/>
<circle cx="255.0" cy="962.4" r="3.7" stroke="#ff1010"/>
<circle cx="259.1" cy="968.7" r="3.7" stroke="#f01010"/>
<circle cx="256.4" cy="962.3" r="3.7" stroke="#ff0808"/>
<circle cx="254.7" cy="962.6" r="3.7" stroke="#ff0808"/>
<circle cx="262.6" cy="966.9" r="3.7" stroke="#f01010"/>
<circle cx="246.5" cy="974.2" r="3.7" stroke="#ff3838"/>
<circle cx="259.5" cy="961.6" r="3.7" stroke="#ff1010"/>
<circle cx="257.4" cy="943.4" r="3.7" stroke="#ff3838"/>
<circle cx="253.5" cy="978.8" r="3.7" stroke="#ff3838"/>
<circle cx="271.4" cy="987.4" r="3.7" stroke="#ff3838"/>
<circle cx="257.0" cy="969.3" r="3.7" stroke="#ff0808"/>
<circle cx="263.2" cy="958.6" r="3.7" stroke="#f01010"/>
<circle cx="267.9" cy="962.9" r="3.7" stroke="#ff3838"/>
<circle cx="261.2" cy="959.2" r="3.7" stroke="#f01010"/>
<circle cx="262.0" cy="968.8" r="3.7" stroke="#f01010"/>
<circle cx="264.6" cy="959.2" r="3.7" stroke="#ff1010"/>
<circle cx="261.4" cy="984.4" r="3.7" stroke="#ff3838"/>
<circle cx="255.1" cy="972.0" r="3.7" stroke="#f01010"/>
<circle cx="262.0" cy="964.8" r="3.7" stroke="#ff1010"/>
<circle cx="259.9" cy="981.0" r="3.7" stroke="#f01010"/>
<circle cx="265.9" cy="973.8" r="3.7" stroke="#ff1010"/>
<circle cx="260.9" cy="959.3" r="3.7" stroke="#ff1010"/>
<circle cx="261.8" cy="984.2" r="3.7" stroke="#ff1010"/>
<circle cx="264.3" cy="957.4" r="3.7" stroke="#f01010"/>
<circle cx="250.4" cy="963.3" r="3.7" stroke="#ff3838"/>
<circle cx="260.7" cy="964.3" r="3.7" stroke="#f01010"/>
<circle cx="259.1" cy="971.9" r="3.7" stroke="#f01010"/>
<circle cx="264.6" cy="970.7" r="3.7" stroke="#ff1010"/>
<circle cx="265.2" cy="956.9" r="3.7" stroke="#ff3838"/>
<circle cx="262.7" cy="972.6" r="3.7" stroke="#f01010"/>
<circle cx="254.2" cy="979.6" r="3.7" stroke="#ff3838"/>
<circle cx="252.1" cy="956.7" r="3.7" stroke="#ff3838"/>
<circle cx="273.4" cy="980.0" r="3.7" stroke="#ff3838"/>
<circle cx="262.9" cy="980.5" r="3.7" stroke="#ff0808"/>
<circle cx="264.9" cy="959.4" r="3.7" stroke="#ff0808"/>
<circle cx="263.4" cy="980.9" r="3.7" stroke="#ff0808"/>
<circle cx="259.6" cy="969.6" r="3.7" stroke="#f01010"/>
<circle cx="258.6" cy="975.2" r="3.7" stroke="#ff1010"/>
<circle cx="257.4" cy="964.0" r="3.7" stroke="#f01010"/>
<circle cx="254.1" cy="961.1" r="3.7" stroke="#f01010"/>
<circle cx="261.6" cy="973.0" r="3.7" stroke="#ff0808"/>
<circle cx="257.9" cy="960.0" r="3.7" stroke="#ff1010"/>
<circle cx="262.1" cy="972.0" r="3.7" stroke="#f01010"/>
<circle cx="265.9" cy="964.7" r="3.7" stroke="#ff1010"/>
<circle cx="258.7" cy="973.3" r="3.7" stroke="#f01010"/>
<circle cx="267.3" cy="968.5" r="3.7" stroke="#ff1010"/>
<circle cx="259.4" cy="960.9" r="3.7" stroke="#ff1010"/>
<circle cx="259.1" cy="977.0" r="3.7" stroke="#ff0808"/>
<circle cx="264.9" cy="978.5" r="3.7" stroke="#f01010"/>
<circle cx="253.2" cy="976.1" r="3.7" stroke="#ff3838"/>
<circle cx="256.4" cy="974.0" r="3.7" stroke="#ff1010"/>
<circle cx="249.3" cy="968.1" r="3.7" stroke="#ff3838"/>
<circle cx="257.0" cy="979.9" r="3.7" stroke="#f01010"/>
<circle cx="261.7" cy="980.1" r="3.7" stroke="#ff1010"/>
<circle cx="259.5" cy="985.8" r="3.7" stroke="#ff3838"/>
<circle cx="259.4" cy="985.2" r="3.7" stroke="#ff3838"/>
<circle cx="257.5" cy="960.6" r="3.7" stroke="#ff1010"/>
<circle cx="264.2" cy="965.5" r="3.7" stroke="#ff1010"/>
<circle cx="259.2" cy="957.4" r="3.7" stroke="#f01010"/>
<circle cx="258.8" cy="969.9" r="3.7" stroke="#ff0808"/>
<circle cx="257.3" cy="972.3" r="3.7" stroke="#ff0808"/>
<circle cx="250.2" cy="976.6" r="3.7" stroke="#ff3838"/>
<circle cx="259.3" cy="981.6" r="3.7" stroke="#f01010"/>
<circle cx="258.3" cy="963.3" r="3.7" stroke="#ff0808"/>
<circle cx="258.4" cy="971.3" r="3.7" stroke="#ff1010"/>
<circle cx="262.8" cy="965.0" r="3.7" stroke="#ff1010"/>
<circle cx="256.9" cy="972.7" r="3.7" stroke="#f01010"/>
<circle cx="263.1" cy="954.0" r="3.7" stroke="#ff3838"/>
<circle cx="255.0" cy="963.2" r="3.7" stroke="#f01010"/>
<circle cx="269.0" cy="979.5" r="3.7" stroke="#ff3838"/>
<circle cx="264.3" cy="973.2" r="3.7" stroke="#ff1010"/>
<circle cx="255.8" cy="978.6" r="3.7" stroke="#f01010"/>
<circle cx="257.8" cy="962.1" r="3.7" stroke="#ff0808"/>
<circle cx="268.4" cy="956.5" r="3.7" stroke="#ff3838"/>
<circle cx="266.9" cy="970.7" r="3.7" stroke="#ff1010"/>
<circle cx="256.1" cy="970.5" r="3.7" stroke="#ff1010"/>
<circle cx="256.5" cy="970.6" r="3.7" stroke="#ff1010"/>
<circle cx="256.6" cy="958.8" r="3.7" stroke="#ff0808"/>
<circle cx="272.4" cy="964.7" r="3.7" stroke="#ff3838"/>
<circle cx="264.9" cy="968.6" r="3.7" stroke="#ff0808"/>
<circle cx="262.7" cy="958.1" r="3.7" stroke="#ff0808"/>
<circle cx="253.5" cy="940.8" r="3.7" stroke="#ff3838"/>
<circle cx="265.3" cy="972.8" r="3.7" stroke="#ff1010"/>
<circle cx="255.4" cy="976.2" r="3.7" stroke="#f01010"/>
<circle cx="264.9" cy="994.2" r="3.7" stroke="#ff3838"/>
<circle cx="262.0" cy="976.9" r="3.7" stroke="#f01010"/>
<circle cx="263.7" cy="975.6" r="3.7" stroke="#ff0808"/>
<circle cx="260.0" cy="965.4" r="3.7" stroke="#f01010"/>
<circle cx="264.4" cy="979.6" r="3.7" stroke="#ff1010"/>
<circle cx="254.2" cy="959.2" r="3.7" stroke="#ff0808"/>
<circle cx="261.2" cy="984.5" r="3.7" stroke="#ff3838"/>
<circle cx="258.3" cy="954.4" r="3.7" stroke="#ff1010"/>
<circle cx="264.6" cy="975.5" r="3.7" stroke="#f01010"/>
<circle cx="269.5" cy="970.6" r="3.7" stroke="#ff3838"/>
<circle cx="269.1" cy="962.8" r="3.7" stroke="#ff3838"/>
<circle cx="264.6" cy="970.2" r="3.7" stroke="#ff1010"/>
<circle cx="254.6" cy="966.6" r="3.7" stroke="#ff0808"/>
<circle cx="267.2" cy="978.6" r="3.7" stroke="#ff1010"/>
<circle cx="259.2" cy="978.5" r="3.7" stroke="#f01010"/>
<circle cx="265.1" cy="976.7" r="3.7" stroke="#f01010"/>
<circle cx="261.9" cy="971.6" r="3.7" stroke="#f01010"/>
<circle cx="256.4" cy="968.4" r="3.7" stroke="#ff0808"/>
<circle cx="260.5" cy="962.7" r="3.7" stroke="#f01010"/>
<circle cx="259.1" cy="970.4" r="3.7" stroke="#ff1010"/>
<circle cx="262.0" cy="978.1" r="3.7" stroke="#ff1010"/>
<circle cx="255.3" cy="965.6" r="3.7" stroke="#f01010"/>
<circle cx="261.4" cy="965.7" r="3.7" stroke="#ff1010"/>
<circle cx="261.6" cy="965.0" r="3.7" stroke="#ff0808"/>
<circle cx="265.7" cy="967.0" r="3.7" stroke="#ff1010"/>
<circle cx="255.5" cy="975.4" r="3.7" stroke="#f01010"/>
<circle cx="266.9" cy="952.4" r="3.7" stroke="#ff3838"/>
<circle cx="259.8" cy="969.6" r="3.7" stroke="#f01010"/>
<circle cx="266.1" cy="981.9" r="3.7" stroke="#ff3838"/>
<circle cx="258.7" cy="955.6" r="3.7" stroke="#ff0808"/>
<circle cx="264.1" cy="977.7" r="3.7" stroke="#ff0808"/>
<circle cx="262.6" cy="969.7" r="3.7" stroke="#ff0808"/>
<circle cx="258.0" cy="990.0" r="3.7" stroke="#ff3838"/>
<circle cx="253.8" cy="956.1" r="3.7" stroke="#ff3838"/>
<circle cx="265.1" cy="971.5" r="3.7" stroke="#ff0808"/>
<circle cx="263.7" cy="972.1" r="3.7" stroke="#ff0808"/>
<circle cx="269.0" cy="981.3" r="3.7" stroke="#ff3838"/>
<circle cx="258.4" cy="977.6" r="3.7" stroke="#ff0808"/>
<circle cx="253.8" cy="954.3" r="3.7" stroke="#ff3838"/>
<circle cx="265.7" cy="965.3" r="3.7" stroke="#f01010"/>
<circle cx="250.3" cy="968.8" r="3.7" stroke="#ff3838"/>
<circle cx="257.6" cy="973.4" r="3.7" stroke="#ff0808"/>
<circle cx="259.6" cy="962.4" r="3.7" stroke="#f01010"/>
<circle cx="257.5" cy="975.6" r="3.7" stroke="#ff0808"/>
<circle cx="256.1" cy="970.1" r="3.7" stroke="#ff1010"/>
<circle cx="256.0" cy="972.9" r="3.7" stroke="#ff0808"/>
<circle cx="269.0" cy="973.9" r="3.7" stroke="#ff3838"/>
<circle cx="265.8" cy="972.9" r="3.7" stroke="#ff1010"/>
<circle cx="255.7" cy="966.4" r="3.7" stroke="#ff0808"/>
<circle cx="260.9" cy="972.8" r="3.7" stroke="#f01010"/>
<circle cx="257.9" cy="974.3" r="3.7" stroke="#f01010"/>
<circle cx="257.0" cy="969.6" r="3.7" stroke="#ff0808"/>
<circle cx="259.6" cy="959.1" r="3.7" stroke="#f01010"/>
<circle cx="265.0" cy="969.4" r="3.7" stroke="#ff1010"/>
<circle cx="260.8" cy="968.7" r="3.7" stroke="#ff1010"/>
<circle cx="249.7" cy="957.0" r="3.7" stroke="#ff3838"/>
<circle cx="256.8" cy="977.5" r="3.7" stroke="#ff0808"/>
<circle cx="258.0" cy="974.2" r="3.7" stroke="#f01010"/>
<circle cx="255.1" cy="961.8" r="3.7" stroke="#f01010"/>
<circle cx="258.8" cy="978.1" r="3.7" stroke="#ff1010"/>
<circle cx="252.5" cy="967.5" r="3.7" stroke="#f01010"/>
<circle cx="262.3" cy="970.2" r="3.7" stroke="#ff1010"/>
<circle cx="260.7" cy="975.7" r="3.7" stroke="#ff1010"/>
<circle cx="261.1" cy="960.4" r="3.7" stroke="#ff0808"/>
<circle cx="262.8" cy="962.3" r="3.7" stroke="#ff1010"/>
<circle cx="259.6" cy="981.5" r="3.7" stroke="#f01010"/>
<circle cx="272.6" cy="981.5" r="3.7" stroke="#ff3838"/>
<circle cx="261.9" cy="962.3" r="3.7" stroke="#ff1010"/>
<circle cx="257.8" cy="983.3" r="3.7" stroke="#ff3838"/>
<circle cx="261.0" cy="957.1" r="3.7" stroke="#ff0808"/>
<circle cx="268.0" cy="974.0" r="3.7" stroke="#ff1010"/>
<circle cx="266.7" cy="972.5" r="3.7" stroke="#f01010"/>
<circle cx="249.9" cy="962.7" r="3.7" stroke="#ff3838"/>
<circle cx="259.6" cy="967.6" r="3.7" stroke="#ff1010"/>
<circle cx="267.0" cy="963.3" r="3.7" stroke="#f01010"/>
<circle cx="259.9" cy="968.5" r="3.7" stroke="#f01010"/>
<circle cx="259.3" cy="960.1" r="3.7" stroke="#ff1010"/>
<circle cx="253.1" cy="946.9" r="3.7" stroke="#ff3838"/>
<circle cx="261.8" cy="967.3" r="3.7" stroke="#ff0808"/>
<circle cx="260.6" cy="960.0" r="3.7" stroke="#f01010"/>
<circle cx="259.8" cy="960.7" r="3.7" stroke="#ff0808"/>
<circle cx="255.9" cy="971.9" r="3.7" stroke="#f01010"/>
<circle cx="263.6" cy="974.0" r="3.7" stroke="#f01010"/>
<circle cx="259.9" cy="965.7" r="3.7" stroke="#ff1010"/>
<circle cx="267.6" cy="979.7" r="3.7" stroke="#ff3838"/>
<circle cx="256.7" cy="959.7" r="3.7" stroke="#ff0808"/>
<circle cx="262.3" cy="971.7" r="3.7" stroke="#f01010"/>
<circle cx="257.5" cy="988.6" r="3.7" stroke="#ff3838"/>
<circle cx="250.1" cy="961.9" r="3.7" stroke="#ff3838"/>
<circle cx="262.1" cy="977.5" r="3.7" stroke="#ff1010"/>
<circle cx="251.5" cy="965.3" r="3.7" stroke="#ff3838"/>
<circle cx="267.8" cy="981.1" r="3.7" stroke="#ff3838"/>
<circle cx="259.2" cy="969.3" r="3.7" stroke="#ff1010"/>
<circle cx="256.5" cy="972.4" r="3.7" stroke="#ff1010"/>
<circle cx="254.3" cy="951.6" r="3.7" stroke="#ff3838"/>
<circle cx="253.3" cy="969.5" r="3.7" stroke="#ff0808"/>
<circle cx="254.9" cy="978.5" r="3.7" stroke="#ff0808"/>
<circle cx="266.9" cy="977.5" r="3.7" stroke="#f01010"/>
<circle cx="264.1" cy="978.7" r="3.7" stroke="#f01010"/>
<circle cx="262.1" cy="976.4" r="3.7" stroke="#ff0808"/>
<circle cx="263.0" cy="975.7" r="3.7" stroke="#ff1010"/>
<circle cx="255.2" cy="963.4" r="3.7" stroke="#ff1010"/>
<circle cx="256.2" cy="976.1" r="3.7" stroke="#f01010"/>
<circle cx="262.2" cy="962.3" r="3.7" stroke="#f01010"/>
<circle cx="255.4" cy="964.1" r="3.7" stroke="#ff1010"/>
<circle cx="264.3" cy="968.0" r="3.7" stroke="#ff0808"/>
<circle cx="258.8" cy="963.1" r="3.7" stroke="#ff1010"/>
<circle cx="260.8" cy="982.7" r="3.7" stroke="#ff0808"/>
<circle cx="256.9" cy="966.0" r="3.7" stroke="#ff1010"/>
<circle cx="268.6" cy="975.2" r="3.7" stroke="#ff3838"/>
<circle cx="255.7" cy="978.3" r="3.7" stroke="#ff1010"/>
<circle cx="254.8" cy="973.8" r="3.7" stroke="#ff0808"/>
<circle cx="248.0" cy="960.5" r="3.7" stroke="#ff3838"/>
<circle cx="264.2" cy="963.9" r="3.7" stroke="#ff0808"/>
<circle cx="257.0" cy="969.5" r="3.7" stroke="#ff1010"/>
<circle cx="260.1" cy="965.0" r="3.7" stroke="#f01010"/>
<circle cx="258.3" cy="984.4" r="3.7" stroke="#ff3838"/>
<circle cx="267.5" cy="971.8" r="3.7" stroke="#f01010"/>
<circle cx="254.7" cy="964.5" r="3.7" stroke="#ff0808"/>
<circle cx="259.3" cy="973.2" r="3.7" stroke="#f01010"/>
<circle cx="267.5" cy="964.6" r="3.7" stroke="#f01010"/>
<circle cx="260.8" cy="965.3" r="3.7" stroke="#ff0808"/>
<circle cx="260.6" cy="963.1" r="3.7" stroke="#f01010"/>
<circle cx="262.8" cy="978.9" r="3.7" stroke="#f01010"/>
<circle cx="258.3" cy="966.2" r="3.7" stroke="#f01010"/>
<circle cx="260.1" cy="957.8" r="3.7" stroke="#ff0808"/>
<circle cx="267.9" cy="957.6" r="3.7" stroke="#ff3838"/>
<circle cx="258.2" cy="961.4" r="3.7" stroke="#ff0808"/>
<circle cx="267.0" cy="964.9" r="3.7" stroke="#ff1010"/>
<circle cx="259.1" cy="985.2" r="3.7" stroke="#ff3838"/>
<circle cx="259.3" cy="962.4" r="3.7" stroke="#ff0808"/>
<circle cx="260.4" cy="970.7" r="3.7" stroke="#f01010"/>
<circle cx="256.8" cy="967.4" r="3.7" stroke="#ff1010"/>
<circle cx="259.8" cy="975.2" r="3.7" stroke="#ff1010"/>
<circle cx="264.4" cy="976.2" r="3.7" stroke="#f01010"/>
<circle cx="260.3" cy="975.8" r="3.7" stroke="#f01010"/>
<circle cx="260.1" cy="978.9" r="3.7" stroke="#ff1010"/>
<circle cx="262.0" cy="965.4" r="3.7" stroke="#ff0808"/>
<circle cx="265.1" cy="956.1" r="3.7" stroke="#ff3838"/>
<circle cx="255.4" cy="962.2" r="3.7" stroke="#ff0808"/>
<circle cx="259.0" cy="958.5" r="3.7" stroke="#ff1010"/>
<circle cx="253.6" cy="952.9" r="3.7" stroke="#ff3838"/>
<circle cx="260.4" cy="962.4" r="3.7" stroke="#ff0808"/>
<circle cx="271.0" cy="975.6" r="3.7" stroke="#ff3838"/>
<circle cx="255.8" cy="980.3" r="3.7" stroke="#f01010"/>
<circle cx="261.5" cy="978.2" r="3.7" stroke="#f01010"/>
<circle cx="255.9" cy="978.9" r="3.7" stroke="#ff0808"/>
<circle cx="265.2" cy="965.5" r="3.7" stroke="#f01010"/>
<circle cx="256.2" cy="965.8" r="3.7" stroke="#ff1010"/>
<circle cx="263.0" cy="989.6" r="3.7" stroke="#ff3838"/>
<circle cx="269.6" cy="981.9" r="3.7" stroke="#ff3838"/>
<circle cx="259.1" cy="966.2" r="3.7" stroke="#ff0808"/>
<circle cx="261.9" cy="966.7" r="3.7" stroke="#f01010"/>
<circle cx="258.1" cy="967.2" r="3.7" stroke="#ff0808"/>
<circle cx="264.2" cy="968.4" r="3.7" stroke="#f01010"/>
<circle cx="261.3" cy="966.8" r="3.7" stroke="#f01010"/>
<circle cx="259.3" cy="966.2" r="3.7" stroke="#ff1010"/>
<circle cx="266.3" cy="971.0" r="3.7" stroke="#ff0808"/>
<circle cx="267.2" cy="967.6" r="3.7" stroke="#ff1010"/>
<circle cx="264.4" cy="957.2" r="3.7" stroke="#ff1010"/>
<circle cx="258.5" cy="968.5" r="3.7" stroke="#ff0808"/>
<circle cx="257.4" cy="968.0" r="3.7" stroke="#f01010"/>
<circle cx="256.0" cy="967.6" r="3.7" stroke="#ff0808"/>
<circle cx="257.3" cy="969.0" r="3.7" stroke="#ff1010"/>
<circle cx="258.4" cy="960.5" r="3.7" stroke="#ff0808"/>
<circle cx="258.5" cy="969.3" r="3.7" stroke="#ff1010"/>
<circle cx="254.5" cy="969.8" r="3.7" stroke="#ff0808"/>
<circle cx="266.0" cy="967.1" r="3.7" stroke="#ff0808"/>
<circle cx="263.3" cy="974.3" r="3.7" stroke="#ff1010"/>
<circle cx="257.4" cy="980.3" r="3.7" stroke="#ff1010"/>
<circle cx="271.3" cy="960.3" r="3.7" stroke="#ff3838"/>
<circle cx="269.9" cy="963.0" r="3.7" stroke="#ff3838"/>
<circle cx="266.0" cy="953.5" r="3.7" stroke="#ff3838"/>
<circle cx="265.7" cy="970.2" r="3.7" stroke="#ff1010"/>
<circle cx="253.9" cy="962.0" r="3.7" stroke="#ff0808"/>
<circle cx="255.0" cy="961.3" r="3.7" stroke="#ff0808"/>
<circle cx="262.0" cy="967.5" r="3.7" stroke="#ff1010"/>
<circle cx="248.6" cy="966.4" r="3.7" stroke="#ff3838"/>
<circle cx="262.6" cy="969.8" r="3.7" stroke="#ff1010"/>
<circle cx="267.1" cy="953.3" r="3.7" stroke="#ff3838"/>
<circle cx="261.5" cy="969.3" r="3.7" stroke="#ff1010"/>
<circle cx="262.9" cy="957.6" r="3.7" stroke="#f01010"/>
<circle cx="254.2" cy="967.6" r="3.7" stroke="#ff0808"/>
<circle cx="259.6" cy="953.5" r="3.7" stroke="#ff3838"/>
<circle cx="262.0" cy="969.0" r="3.7" stroke="#ff1010"/>
<circle cx="327.6" cy="802.9" r="3.7" stroke="#ff3838"/>
<circle cx="321.2" cy="790.7" r="3.7" stroke="#ff0808"/>
<circle cx="324.2" cy="770.3" r="3.7" stroke="#ff0808"/>
<circle cx="319.3" cy="794.9" r="3.7" stroke="#ff0808"/>
<circle cx="319.9" cy="799.6" r="3.7" stroke="#ff0808"/>
<circle cx="322.8" cy="808.8" r="3.7" stroke="#ff1010"/>
<circle cx="317.9" cy="782.8" r="3.7" stroke="#f01010"/>
<circle cx="323.2" cy="789.7" r="3.7" stroke="#f01010"/>
<circle cx="320.8" cy="782.1" r="3.7" stroke="#ff0808"/>
<circle cx="322.9" cy="809.1" r="3.7" stroke="#ff1010"/>
<circle cx="320.6" cy="788.3" r="3.7" stroke="#f01010"/>
<circle cx="322.9" cy="795.3" r="3.7" stroke="#f01010"/>
<circle cx="323.9" cy="772.9" r="3.7" stroke="#f01010"/>
<circle cx="315.4" cy="785.4" r="3.7" stroke="#ff3838"/>
<circle cx="318.6" cy="792.0" r="3.7" stroke="#ff3838"/>
<circle cx="320.8" cy="812.7" r="3.7" stroke="#ff1010"/>
<circle cx="322.5" cy="800.9" r="3.7" stroke="#f01010"/>
<circle cx="320.2" cy="805.3" r="3.7" stroke="#f01010"/>
<circle cx="321.8" cy="792.3" r="3.7" stroke="#f01010"/>
<circle cx="325.5" cy="805.0" r="3.7" stroke="#ff0808"/>
<circle cx="328.8" cy="789.8" r="3.7" stroke="#ff3838"/>
<circle cx="325.2" cy="783.6" r="3.7" stroke="#ff3838"/>
<circle cx="390.0" cy="820.6" r="3.7" stroke="#ff3838"/>
<circle cx="405.3" cy="779.4" r="3.7" stroke="#ff3838"/>
<circle cx="352.9" cy="798.0" r="3.7" stroke="#ff3838"/>
<circle cx="373.9" cy="832.8" r="3.7" stroke="#ff3838"/>
<circle cx="407.2" cy="816.1" r="3.7" stroke="#ff3838"/>
<circle cx="396.7" cy="820.9" r="3.7" stroke="#ff3838"/>
<circle cx="363.6" cy="803.2" r="3.7" stroke="#ff3838"/>
<circle cx="358.0" cy="823.0" r="3.7" stroke="#ff3838"/>
<circle cx="379.0" cy="800.4" r="3.7" stroke="#ff3838"/>
<circle cx="419.4" cy="769.5" r="3.7" stroke="#ff3838"/>
<circle cx="392.7" cy="775.3" r="3.7" stroke="#ff3838"/>
<circle cx="361.0" cy="801.9" r="3.7" stroke="#ff3838"/>
<circle cx="362.8" cy="793.0" r="3.7" stroke="#ff3838"/>
<circle cx="401.7" cy="781.1" r="3.7" stroke="#ff3838"/>
<circle cx="407.7" cy="772.1" r="3.7" stroke="#ff3838"/>
<circle cx="384.0" cy="801.5" r="3.7" stroke="#ff3838"/>
<circle cx="399.7" cy="806.1" r="3.7" stroke="#ff3838"/>
<circle cx="382.8" cy="770.4" r="3.7" stroke="#ff3838"/>
<circle cx="380.5" cy="797.1" r="3.7" stroke="#ff3838"/>
<circle cx="407.2" cy="821.9" r="3.7" stroke="#ff3838"/>
<circle cx="361.1" cy="786.8" r="3.7" stroke="#ff3838"/>
<circle cx="381.1" cy="808.9" r="3.7" stroke="#ff3838"/>
<circle cx="416.8" cy="808.0" r="3.7" stroke="#ff3838"/>
<circle cx="386.4" cy="809.5" r="3.7" stroke="#ff3838"/>
<circle cx="369.8" cy="802.2" r="3.7" stroke="#ff3838"/>
<circle cx="383.1" cy="829.8" r="3.7" stroke="#ff3838"/>
<circle cx="360.2" cy="812.0" r="3.7" stroke="#ff3838"/>
<circle cx="366.2" cy="823.7" r="3.7" stroke="#ff3838"/>
<circle cx="354.9" cy="790.1" r="3.7" stroke="#ff3838"/>
<circle cx="379.5" cy="819.0" r="3.7" stroke="#ff3838"/>
<circle cx="356.2" cy="804.7" r="3.7" stroke="#ff3838"/>
<circle cx="368.7" cy="790.6" r="3.7" stroke="#ff3838"/>
<circle cx="390.1" cy="844.7" r="3.7" stroke="#ff3838"/>
<circle cx="390.5" cy="844.5" r="3.7" stroke="#ff3838"/>
<circle cx="381.1" cy="783.1" r="3.7" stroke="#ff3838"/>
<circle cx="352.5" cy="789.5" r="3.7" stroke="#ff3838"/>
</g></g></g>
<g transform="matrix(1.031 0 0 1.031 -6.7 -623)"><use href="#pk" fill="none" stroke="#111" stroke-width="1.4" stroke-linejoin="round"/></g>
<g transform="matrix(1.031 0 0 1.031 411.3 -623.5)"><use href="#pk" fill="none" stroke="#111" stroke-width="1.4" stroke-linejoin="round"/></g>
<g transform="matrix(1 0 0 1 0 0)"><use href="#pk" fill="none" stroke="#111" stroke-width="1.4" stroke-linejoin="round"/></g>
<g transform="matrix(1 0 0 1 435.7 0.5)"><use href="#pk" fill="none" stroke="#111" stroke-width="1.4" stroke-linejoin="round"/></g>
<g transform="matrix(1.031 0 0 1.031 -6.7 -623)"><polyline points="413.8,616.2 415.0,620.0 407.5,621.0 392.5,622.5 388.8,630.0 377.5,635.0 373.8,641.0 376.0,648.8 390.0,648.8 396.0,655.0 410.0,657.5 412.5,665.0 421.0,671.0 420.0,678.8 415.0,681.0 408.0,686.0 403.8,692.5 406.0,700.0 407.5,715.0 407.0,725.0 410.5,737.5 422.5,741.0 435.5,749.5 440.0,751.0 450.0,752.5 457.5,756.0" fill="none" stroke="#c8141e" stroke-width="1.1" stroke-linejoin="round"/>
<polyline points="390.8,713.8 397.5,707.5 402.5,697.5 403.8,692.5" fill="none" stroke="#c8141e" stroke-width="1.1" stroke-linejoin="round"/>
<polyline points="390.8,713.8 385.0,708.0 377.7,705.1 367.6,706.8 360.9,713.5 355.9,720.3 349.1,727.0 347.5,732.0 340.7,730.4 334.0,735.4 331.5,742.1 335.7,747.2 339.0,752.2 335.7,757.3 332.3,764.0 327.3,772.4 322.2,780.8 317.2,785.9 308.8,789.2 305.4,787.5" fill="none" stroke="#c8141e" stroke-width="1.1" stroke-linejoin="round"/>
<polyline points="275.1,767.4 283.5,764.8 292.0,763.2 293.6,769.0 296.2,774.1 298.7,781.7 305.4,787.5" fill="none" stroke="#c8141e" stroke-width="1.1" stroke-linejoin="round"/>
<polyline points="305.4,787.5 306.2,794.3 302.0,801.0 300.4,807.7 297.8,814.5 298.7,819.5 293.6,824.5 288.6,833.0 284.4,839.7 285.2,846.4 287.8,851.5 285.2,858.2 281.9,864.9 277.4,871.0 271.0,873.5 261.0,873.5 249.5,874.0 242.0,880.5 235.5,884.3 227.3,888.7 217.8,890.6 212.7,898.2 209.5,909.7 208.9,926.0 211.0,935.0 215.0,942.5 218.8,950.0 216.0,960.0 213.8,972.5 206.0,983.8" fill="none" stroke="#c8141e" stroke-width="1.1" stroke-linejoin="round"/>
<polyline points="277.4,871.0 283.8,876.7 292.7,884.3 300.3,889.4 302.5,891.0" fill="none" stroke="#c8141e" stroke-width="1.1" stroke-linejoin="round"/><circle cx="205.50" cy="820.00" r="3.8" fill="none" stroke="#111" stroke-width="0.7"/><circle cx="205.50" cy="820.00" r="1.45" fill="#111"/>
<text x="205.50" y="813.95" text-anchor="middle" font-size="9.0" font-weight="bold" fill="#111">Quetta</text>
<circle cx="75.50" cy="862.00" r="3.8" fill="none" stroke="#111" stroke-width="0.7"/><circle cx="75.50" cy="862.00" r="1.45" fill="#111"/>
<text x="75.75" y="856.20" text-anchor="middle" font-size="9.0" font-weight="bold" fill="#111">Nok Kundi</text>
<circle cx="192.50" cy="856.00" r="3.8" fill="none" stroke="#111" stroke-width="0.7"/><circle cx="192.50" cy="856.00" r="1.45" fill="#111"/>
<text x="197.50" y="866.70" text-anchor="start" font-size="9.0" font-weight="bold" fill="#111">Kalat</text>
<circle cx="192.50" cy="894.00" r="3.8" fill="none" stroke="#111" stroke-width="0.7"/><circle cx="192.50" cy="894.00" r="1.45" fill="#111"/>
<text x="193.00" y="887.20" text-anchor="middle" font-size="9.0" font-weight="bold" fill="#111">Khuzdar</text>
<circle cx="116.25" cy="918.75" r="3.8" fill="none" stroke="#111" stroke-width="0.7"/><circle cx="116.25" cy="918.75" r="1.45" fill="#111"/>
<text x="116.75" y="913.20" text-anchor="middle" font-size="9.0" font-weight="bold" fill="#111">Panjgur</text>
<circle cx="85.00" cy="949.25" r="3.8" fill="none" stroke="#111" stroke-width="0.7"/><circle cx="85.00" cy="949.25" r="1.45" fill="#111"/>
<text x="85.25" y="942.70" text-anchor="middle" font-size="9.0" font-weight="bold" fill="#111">Turbat</text>
<circle cx="193.75" cy="954.50" r="3.8" fill="none" stroke="#111" stroke-width="0.7"/><circle cx="193.75" cy="954.50" r="1.45" fill="#111"/>
<text x="193.75" y="948.70" text-anchor="middle" font-size="9.0" font-weight="bold" fill="#111">Uthal</text>
<circle cx="62.50" cy="975.00" r="3.8" fill="none" stroke="#111" stroke-width="0.7"/><circle cx="62.50" cy="975.00" r="1.45" fill="#111"/>
<text x="62.75" y="968.95" text-anchor="middle" font-size="9.0" font-weight="bold" fill="#111">Gwadar</text>
<circle cx="206.25" cy="982.00" r="3.8" fill="none" stroke="#111" stroke-width="0.7"/><circle cx="206.25" cy="982.00" r="1.45" fill="#111"/>
<text x="206.25" y="976.45" text-anchor="middle" font-size="9.0" font-weight="bold" fill="#111">Karachi</text>
<circle cx="228.75" cy="926.75" r="3.8" fill="none" stroke="#111" stroke-width="0.7"/><circle cx="228.75" cy="926.75" r="1.45" fill="#111"/>
<text x="228.50" y="920.70" text-anchor="middle" font-size="9.0" font-weight="bold" fill="#111">Dadu</text>
<circle cx="246.25" cy="967.00" r="3.8" fill="none" stroke="#111" stroke-width="0.7"/><circle cx="246.25" cy="967.00" r="1.45" fill="#111"/>
<text x="229.00" y="961.20" text-anchor="middle" font-size="9.0" font-weight="bold" fill="#111">Hyderabad</text>
<circle cx="341.75" cy="820.00" r="3.8" fill="none" stroke="#111" stroke-width="0.7"/><circle cx="341.75" cy="820.00" r="1.45" fill="#111"/>
<text x="335.00" y="813.95" text-anchor="middle" font-size="9.0" font-weight="bold" fill="#111">Multan</text>
<circle cx="349.25" cy="844.50" r="3.8" fill="none" stroke="#111" stroke-width="0.7"/><circle cx="349.25" cy="844.50" r="1.45" fill="#111"/>
<text x="344.50" y="856.95" text-anchor="end" font-size="9.0" font-weight="bold" fill="#111">Bahawalpur</text>
<circle cx="306.25" cy="874.25" r="3.8" fill="none" stroke="#111" stroke-width="0.7"/><circle cx="306.25" cy="874.25" r="1.45" fill="#111"/>
<text x="306.00" y="868.20" text-anchor="middle" font-size="9.0" font-weight="bold" fill="#111">Rahimyar Khan</text>
<circle cx="262.00" cy="896.25" r="3.8" fill="none" stroke="#111" stroke-width="0.7"/><circle cx="262.00" cy="896.25" r="1.45" fill="#111"/>
<text x="262.50" y="890.70" text-anchor="middle" font-size="9.0" font-weight="bold" fill="#111">Sukkur</text>
<circle cx="289.25" cy="968.00" r="3.8" fill="none" stroke="#111" stroke-width="0.7"/><circle cx="289.25" cy="968.00" r="1.45" fill="#111"/>
<text x="289.25" y="961.95" text-anchor="middle" font-size="9.0" font-weight="bold" fill="#111">Umarkot</text>
<circle cx="350.50" cy="648.00" r="3.8" fill="none" stroke="#111" stroke-width="0.7"/><circle cx="350.50" cy="648.00" r="1.45" fill="#111"/>
<text x="351.00" y="641.95" text-anchor="middle" font-size="9.0" font-weight="bold" fill="#111">Chitral</text>
<circle cx="428.00" cy="646.25" r="3.8" fill="none" stroke="#111" stroke-width="0.7"/><circle cx="428.00" cy="646.25" r="1.45" fill="#111"/>
<text x="428.50" y="640.20" text-anchor="middle" font-size="9.0" font-weight="bold" fill="#111">Gilgit</text>
<circle cx="469.00" cy="664.50" r="3.8" fill="none" stroke="#111" stroke-width="0.7"/><circle cx="469.00" cy="664.50" r="1.45" fill="#111"/>
<text x="469.25" y="658.70" text-anchor="middle" font-size="9.0" font-weight="bold" fill="#111">Skardu</text>
<circle cx="368.75" cy="682.00" r="3.8" fill="none" stroke="#111" stroke-width="0.7"/><circle cx="368.75" cy="682.00" r="1.45" fill="#111"/>
<text x="368.75" y="676.20" text-anchor="middle" font-size="9.0" font-weight="bold" fill="#111">Saidu Sharif</text>
<circle cx="403.75" cy="692.50" r="3.8" fill="none" stroke="#111" stroke-width="0.7"/><circle cx="403.75" cy="692.50" r="1.45" fill="#111"/>
<text x="397.50" y="686.95" text-anchor="middle" font-size="9.0" font-weight="bold" fill="#111">Muzaffarabad</text>
<circle cx="444.25" cy="701.25" r="3.8" fill="none" stroke="#111" stroke-width="0.7"/><circle cx="444.25" cy="701.25" r="1.45" fill="#111"/>
<text x="444.00" y="695.20" text-anchor="middle" font-size="9.0" font-weight="bold" fill="#111">Srinagar</text>
<circle cx="390.75" cy="713.75" r="3.8" fill="none" stroke="#111" stroke-width="0.7"/><circle cx="390.75" cy="713.75" r="1.45" fill="#111"/>
<text x="390.50" y="707.70" text-anchor="middle" font-size="9.0" font-weight="bold" fill="#111">Islamabad</text>
<circle cx="342.00" cy="718.25" r="3.8" fill="none" stroke="#111" stroke-width="0.7"/><circle cx="342.00" cy="718.25" r="1.45" fill="#111"/>
<text x="345.50" y="721.95" text-anchor="start" font-size="9.0" font-weight="bold" fill="#111">Kohat</text>
<circle cx="410.50" cy="737.50" r="3.8" fill="none" stroke="#111" stroke-width="0.7"/><circle cx="410.50" cy="737.50" r="1.45" fill="#111"/>
<text x="410.25" y="731.20" text-anchor="middle" font-size="9.0" font-weight="bold" fill="#111">Jhelum</text>
<circle cx="435.50" cy="749.50" r="3.8" fill="none" stroke="#111" stroke-width="0.7"/><circle cx="435.50" cy="749.50" r="1.45" fill="#111"/>
<text x="435.25" y="743.95" text-anchor="middle" font-size="9.0" font-weight="bold" fill="#111">Sialkot</text>
<circle cx="378.25" cy="762.50" r="3.8" fill="none" stroke="#111" stroke-width="0.7"/><circle cx="378.25" cy="762.50" r="1.45" fill="#111"/>
<text x="378.25" y="756.95" text-anchor="middle" font-size="9.0" font-weight="bold" fill="#111">Sargodha</text>
<circle cx="425.00" cy="775.50" r="3.8" fill="none" stroke="#111" stroke-width="0.7"/><circle cx="425.00" cy="775.50" r="1.45" fill="#111"/>
<text x="428.75" y="771.95" text-anchor="middle" font-size="9.0" font-weight="bold" fill="#111">Lahore</text>
<circle cx="428.75" cy="778.75" r="3.8" fill="none" stroke="#111" stroke-width="0.7"/><circle cx="428.75" cy="778.75" r="1.45" fill="#111"/>
<text x="430.50" y="782.70" text-anchor="start" font-size="9.0" font-weight="bold" fill="#111">Shekhupura</text>
<circle cx="391.25" cy="783.00" r="3.8" fill="none" stroke="#111" stroke-width="0.7"/><circle cx="391.25" cy="783.00" r="1.45" fill="#111"/>
<text x="390.25" y="777.45" text-anchor="middle" font-size="9.0" font-weight="bold" fill="#111">Faisalabad</text>
<circle cx="401.75" cy="801.75" r="3.8" fill="none" stroke="#111" stroke-width="0.7"/><circle cx="401.75" cy="801.75" r="1.45" fill="#111"/>
<text x="401.75" y="795.20" text-anchor="middle" font-size="9.0" font-weight="bold" fill="#111">Okara</text>
<circle cx="315.00" cy="734.50" r="3.8" fill="none" stroke="#111" stroke-width="0.7"/><circle cx="315.00" cy="734.50" r="1.45" fill="#111"/>
<text x="314.50" y="728.70" text-anchor="middle" font-size="9.0" font-weight="bold" fill="#111">Bannu</text>
<circle cx="324.50" cy="770.00" r="3.8" fill="none" stroke="#111" stroke-width="0.7"/><circle cx="324.50" cy="770.00" r="1.45" fill="#111"/>
<text x="324.00" y="764.45" text-anchor="middle" font-size="9.0" font-weight="bold" fill="#111">D. I. Khan</text>
<circle cx="281.25" cy="785.00" r="3.8" fill="none" stroke="#111" stroke-width="0.7"/><circle cx="281.25" cy="785.00" r="1.45" fill="#111"/>
<text x="281.25" y="778.95" text-anchor="middle" font-size="9.0" font-weight="bold" fill="#111">Zhob</text>
<circle cx="344.25" cy="704.50" r="3.8" fill="none" stroke="#111" stroke-width="0.7"/><circle cx="344.25" cy="704.50" r="1.45" fill="#111"/>
<text transform="translate(158.0 873.8) rotate(-32.2)" x="-3" y="4" font-size="12" font-weight="bold" fill="#b4141e" textLength="97.5" lengthAdjust="spacing">Balochistan</text>
<text transform="translate(346.0 828.8) rotate(-53.7)" x="-3" y="4" font-size="12" font-weight="bold" fill="#b4141e" textLength="54.9" lengthAdjust="spacing">Punjab</text>
<text transform="translate(330.0 717.5) rotate(-47.7)" x="-3" y="4" font-size="12" font-weight="bold" fill="#b4141e" textLength="30.3" lengthAdjust="spacing">KPK</text>
<text transform="translate(253 916) rotate(85)" x="0" y="0" font-size="11" font-weight="bold" fill="#c8141e" textLength="46" lengthAdjust="spacing">Sindh</text></g>
<g transform="matrix(1.031 0 0 1.031 411.3 -623.5)"><polyline points="413.8,616.2 415.0,620.0 407.5,621.0 392.5,622.5 388.8,630.0 377.5,635.0 373.8,641.0 376.0,648.8 390.0,648.8 396.0,655.0 410.0,657.5 412.5,665.0 421.0,671.0 420.0,678.8 415.0,681.0 408.0,686.0 403.8,692.5 406.0,700.0 407.5,715.0 407.0,725.0 410.5,737.5 422.5,741.0 435.5,749.5 440.0,751.0 450.0,752.5 457.5,756.0" fill="none" stroke="#c8141e" stroke-width="1.1" stroke-linejoin="round"/>
<polyline points="390.8,713.8 397.5,707.5 402.5,697.5 403.8,692.5" fill="none" stroke="#c8141e" stroke-width="1.1" stroke-linejoin="round"/>
<polyline points="390.8,713.8 385.0,708.0 377.7,705.1 367.6,706.8 360.9,713.5 355.9,720.3 349.1,727.0 347.5,732.0 340.7,730.4 334.0,735.4 331.5,742.1 335.7,747.2 339.0,752.2 335.7,757.3 332.3,764.0 327.3,772.4 322.2,780.8 317.2,785.9 308.8,789.2 305.4,787.5" fill="none" stroke="#c8141e" stroke-width="1.1" stroke-linejoin="round"/>
<polyline points="275.1,767.4 283.5,764.8 292.0,763.2 293.6,769.0 296.2,774.1 298.7,781.7 305.4,787.5" fill="none" stroke="#c8141e" stroke-width="1.1" stroke-linejoin="round"/>
<polyline points="305.4,787.5 306.2,794.3 302.0,801.0 300.4,807.7 297.8,814.5 298.7,819.5 293.6,824.5 288.6,833.0 284.4,839.7 285.2,846.4 287.8,851.5 285.2,858.2 281.9,864.9 277.4,871.0 271.0,873.5 261.0,873.5 249.5,874.0 242.0,880.5 235.5,884.3 227.3,888.7 217.8,890.6 212.7,898.2 209.5,909.7 208.9,926.0 211.0,935.0 215.0,942.5 218.8,950.0 216.0,960.0 213.8,972.5 206.0,983.8" fill="none" stroke="#c8141e" stroke-width="1.1" stroke-linejoin="round"/>
<polyline points="277.4,871.0 283.8,876.7 292.7,884.3 300.3,889.4 302.5,891.0" fill="none" stroke="#c8141e" stroke-width="1.1" stroke-linejoin="round"/><circle cx="205.50" cy="820.00" r="3.8" fill="none" stroke="#111" stroke-width="0.7"/><circle cx="205.50" cy="820.00" r="1.45" fill="#111"/>
<text x="205.50" y="813.95" text-anchor="middle" font-size="9.0" font-weight="bold" fill="#111">Quetta</text>
<circle cx="75.50" cy="862.00" r="3.8" fill="none" stroke="#111" stroke-width="0.7"/><circle cx="75.50" cy="862.00" r="1.45" fill="#111"/>
<text x="75.75" y="856.20" text-anchor="middle" font-size="9.0" font-weight="bold" fill="#111">Nok Kundi</text>
<circle cx="192.50" cy="856.00" r="3.8" fill="none" stroke="#111" stroke-width="0.7"/><circle cx="192.50" cy="856.00" r="1.45" fill="#111"/>
<text x="197.50" y="866.70" text-anchor="start" font-size="9.0" font-weight="bold" fill="#111">Kalat</text>
<circle cx="192.50" cy="894.00" r="3.8" fill="none" stroke="#111" stroke-width="0.7"/><circle cx="192.50" cy="894.00" r="1.45" fill="#111"/>
<text x="193.00" y="887.20" text-anchor="middle" font-size="9.0" font-weight="bold" fill="#111">Khuzdar</text>
<circle cx="116.25" cy="918.75" r="3.8" fill="none" stroke="#111" stroke-width="0.7"/><circle cx="116.25" cy="918.75" r="1.45" fill="#111"/>
<text x="116.75" y="913.20" text-anchor="middle" font-size="9.0" font-weight="bold" fill="#111">Panjgur</text>
<circle cx="85.00" cy="949.25" r="3.8" fill="none" stroke="#111" stroke-width="0.7"/><circle cx="85.00" cy="949.25" r="1.45" fill="#111"/>
<text x="85.25" y="942.70" text-anchor="middle" font-size="9.0" font-weight="bold" fill="#111">Turbat</text>
<circle cx="193.75" cy="954.50" r="3.8" fill="none" stroke="#111" stroke-width="0.7"/><circle cx="193.75" cy="954.50" r="1.45" fill="#111"/>
<text x="193.75" y="948.70" text-anchor="middle" font-size="9.0" font-weight="bold" fill="#111">Uthal</text>
<circle cx="62.50" cy="975.00" r="3.8" fill="none" stroke="#111" stroke-width="0.7"/><circle cx="62.50" cy="975.00" r="1.45" fill="#111"/>
<text x="62.75" y="968.95" text-anchor="middle" font-size="9.0" font-weight="bold" fill="#111">Gwadar</text>
<circle cx="206.25" cy="982.00" r="3.8" fill="none" stroke="#111" stroke-width="0.7"/><circle cx="206.25" cy="982.00" r="1.45" fill="#111"/>
<text x="206.25" y="976.45" text-anchor="middle" font-size="9.0" font-weight="bold" fill="#111">Karachi</text>
<circle cx="228.75" cy="926.75" r="3.8" fill="none" stroke="#111" stroke-width="0.7"/><circle cx="228.75" cy="926.75" r="1.45" fill="#111"/>
<text x="228.50" y="920.70" text-anchor="middle" font-size="9.0" font-weight="bold" fill="#111">Dadu</text>
<circle cx="246.25" cy="967.00" r="3.8" fill="none" stroke="#111" stroke-width="0.7"/><circle cx="246.25" cy="967.00" r="1.45" fill="#111"/>
<text x="229.00" y="961.20" text-anchor="middle" font-size="9.0" font-weight="bold" fill="#111">Hyderabad</text>
<circle cx="341.75" cy="820.00" r="3.8" fill="none" stroke="#111" stroke-width="0.7"/><circle cx="341.75" cy="820.00" r="1.45" fill="#111"/>
<text x="335.00" y="813.95" text-anchor="middle" font-size="9.0" font-weight="bold" fill="#111">Multan</text>
<circle cx="349.25" cy="844.50" r="3.8" fill="none" stroke="#111" stroke-width="0.7"/><circle cx="349.25" cy="844.50" r="1.45" fill="#111"/>
<text x="344.50" y="856.95" text-anchor="end" font-size="9.0" font-weight="bold" fill="#111">Bahawalpur</text>
<circle cx="306.25" cy="874.25" r="3.8" fill="none" stroke="#111" stroke-width="0.7"/><circle cx="306.25" cy="874.25" r="1.45" fill="#111"/>
<text x="306.00" y="868.20" text-anchor="middle" font-size="9.0" font-weight="bold" fill="#111">Rahimyar Khan</text>
<circle cx="262.00" cy="896.25" r="3.8" fill="none" stroke="#111" stroke-width="0.7"/><circle cx="262.00" cy="896.25" r="1.45" fill="#111"/>
<text x="262.50" y="890.70" text-anchor="middle" font-size="9.0" font-weight="bold" fill="#111">Sukkur</text>
<circle cx="289.25" cy="968.00" r="3.8" fill="none" stroke="#111" stroke-width="0.7"/><circle cx="289.25" cy="968.00" r="1.45" fill="#111"/>
<text x="289.25" y="961.95" text-anchor="middle" font-size="9.0" font-weight="bold" fill="#111">Umarkot</text>
<circle cx="350.50" cy="648.00" r="3.8" fill="none" stroke="#111" stroke-width="0.7"/><circle cx="350.50" cy="648.00" r="1.45" fill="#111"/>
<text x="351.00" y="641.95" text-anchor="middle" font-size="9.0" font-weight="bold" fill="#111">Chitral</text>
<circle cx="428.00" cy="646.25" r="3.8" fill="none" stroke="#111" stroke-width="0.7"/><circle cx="428.00" cy="646.25" r="1.45" fill="#111"/>
<text x="428.50" y="640.20" text-anchor="middle" font-size="9.0" font-weight="bold" fill="#111">Gilgit</text>
<circle cx="469.00" cy="664.50" r="3.8" fill="none" stroke="#111" stroke-width="0.7"/><circle cx="469.00" cy="664.50" r="1.45" fill="#111"/>
<text x="469.25" y="658.70" text-anchor="middle" font-size="9.0" font-weight="bold" fill="#111">Skardu</text>
<circle cx="368.75" cy="682.00" r="3.8" fill="none" stroke="#111" stroke-width="0.7"/><circle cx="368.75" cy="682.00" r="1.45" fill="#111"/>
<text x="368.75" y="676.20" text-anchor="middle" font-size="9.0" font-weight="bold" fill="#111">Saidu Sharif</text>
<circle cx="403.75" cy="692.50" r="3.8" fill="none" stroke="#111" stroke-width="0.7"/><circle cx="403.75" cy="692.50" r="1.45" fill="#111"/>
<text x="397.50" y="686.95" text-anchor="middle" font-size="9.0" font-weight="bold" fill="#111">Muzaffarabad</text>
<circle cx="444.25" cy="701.25" r="3.8" fill="none" stroke="#111" stroke-width="0.7"/><circle cx="444.25" cy="701.25" r="1.45" fill="#111"/>
<text x="444.00" y="695.20" text-anchor="middle" font-size="9.0" font-weight="bold" fill="#111">Srinagar</text>
<circle cx="390.75" cy="713.75" r="3.8" fill="none" stroke="#111" stroke-width="0.7"/><circle cx="390.75" cy="713.75" r="1.45" fill="#111"/>
<text x="390.50" y="707.70" text-anchor="middle" font-size="9.0" font-weight="bold" fill="#111">Islamabad</text>
<circle cx="342.00" cy="718.25" r="3.8" fill="none" stroke="#111" stroke-width="0.7"/><circle cx="342.00" cy="718.25" r="1.45" fill="#111"/>
<text x="345.50" y="721.95" text-anchor="start" font-size="9.0" font-weight="bold" fill="#111">Kohat</text>
<circle cx="410.50" cy="737.50" r="3.8" fill="none" stroke="#111" stroke-width="0.7"/><circle cx="410.50" cy="737.50" r="1.45" fill="#111"/>
<text x="410.25" y="731.20" text-anchor="middle" font-size="9.0" font-weight="bold" fill="#111">Jhelum</text>
<circle cx="435.50" cy="749.50" r="3.8" fill="none" stroke="#111" stroke-width="0.7"/><circle cx="435.50" cy="749.50" r="1.45" fill="#111"/>
<text x="435.25" y="743.95" text-anchor="middle" font-size="9.0" font-weight="bold" fill="#111">Sialkot</text>
<circle cx="378.25" cy="762.50" r="3.8" fill="none" stroke="#111" stroke-width="0.7"/><circle cx="378.25" cy="762.50" r="1.45" fill="#111"/>
<text x="378.25" y="756.95" text-anchor="middle" font-size="9.0" font-weight="bold" fill="#111">Sargodha</text>
<circle cx="425.00" cy="775.50" r="3.8" fill="none" stroke="#111" stroke-width="0.7"/><circle cx="425.00" cy="775.50" r="1.45" fill="#111"/>
<text x="428.75" y="771.95" text-anchor="middle" font-size="9.0" font-weight="bold" fill="#111">Lahore</text>
<circle cx="428.75" cy="778.75" r="3.8" fill="none" stroke="#111" stroke-width="0.7"/><circle cx="428.75" cy="778.75" r="1.45" fill="#111"/>
<text x="430.50" y="782.70" text-anchor="start" font-size="9.0" font-weight="bold" fill="#111">Shekhupura</text>
<circle cx="391.25" cy="783.00" r="3.8" fill="none" stroke="#111" stroke-width="0.7"/><circle cx="391.25" cy="783.00" r="1.45" fill="#111"/>
<text x="390.25" y="777.45" text-anchor="middle" font-size="9.0" font-weight="bold" fill="#111">Faisalabad</text>
<circle cx="401.75" cy="801.75" r="3.8" fill="none" stroke="#111" stroke-width="0.7"/><circle cx="401.75" cy="801.75" r="1.45" fill="#111"/>
<text x="401.75" y="795.20" text-anchor="middle" font-size="9.0" font-weight="bold" fill="#111">Okara</text>
<circle cx="315.00" cy="734.50" r="3.8" fill="none" stroke="#111" stroke-width="0.7"/><circle cx="315.00" cy="734.50" r="1.45" fill="#111"/>
<text x="314.50" y="728.70" text-anchor="middle" font-size="9.0" font-weight="bold" fill="#111">Bannu</text>
<circle cx="324.50" cy="770.00" r="3.8" fill="none" stroke="#111" stroke-width="0.7"/><circle cx="324.50" cy="770.00" r="1.45" fill="#111"/>
<text x="324.00" y="764.45" text-anchor="middle" font-size="9.0" font-weight="bold" fill="#111">D. I. Khan</text>
<circle cx="281.25" cy="785.00" r="3.8" fill="none" stroke="#111" stroke-width="0.7"/><circle cx="281.25" cy="785.00" r="1.45" fill="#111"/>
<text x="281.25" y="778.95" text-anchor="middle" font-size="9.0" font-weight="bold" fill="#111">Zhob</text>
<circle cx="344.25" cy="704.50" r="3.8" fill="none" stroke="#111" stroke-width="0.7"/><circle cx="344.25" cy="704.50" r="1.45" fill="#111"/>
<text transform="translate(158.0 873.8) rotate(-32.2)" x="-3" y="4" font-size="12" font-weight="bold" fill="#b4141e" textLength="97.5" lengthAdjust="spacing">Balochistan</text>
<text transform="translate(346.0 828.8) rotate(-53.7)" x="-3" y="4" font-size="12" font-weight="bold" fill="#b4141e" textLength="54.9" lengthAdjust="spacing">Punjab</text>
<text transform="translate(330.0 717.5) rotate(-47.7)" x="-3" y="4" font-size="12" font-weight="bold" fill="#b4141e" textLength="30.3" lengthAdjust="spacing">KPK</text>
<text transform="translate(253 916) rotate(85)" x="0" y="0" font-size="11" font-weight="bold" fill="#c8141e" textLength="46" lengthAdjust="spacing">Sindh</text></g>
<g transform="matrix(1 0 0 1 0 0)"><polyline points="413.8,616.2 415.0,620.0 407.5,621.0 392.5,622.5 388.8,630.0 377.5,635.0 373.8,641.0 376.0,648.8 390.0,648.8 396.0,655.0 410.0,657.5 412.5,665.0 421.0,671.0 420.0,678.8 415.0,681.0 408.0,686.0 403.8,692.5 406.0,700.0 407.5,715.0 407.0,725.0 410.5,737.5 422.5,741.0 435.5,749.5 440.0,751.0 450.0,752.5 457.5,756.0" fill="none" stroke="#b04a40" stroke-width="1.1" stroke-linejoin="round"/>
<polyline points="390.8,713.8 397.5,707.5 402.5,697.5 403.8,692.5" fill="none" stroke="#b04a40" stroke-width="1.1" stroke-linejoin="round"/>
<polyline points="390.8,713.8 385.0,708.0 377.7,705.1 367.6,706.8 360.9,713.5 355.9,720.3 349.1,727.0 347.5,732.0 340.7,730.4 334.0,735.4 331.5,742.1 335.7,747.2 339.0,752.2 335.7,757.3 332.3,764.0 327.3,772.4 322.2,780.8 317.2,785.9 308.8,789.2 305.4,787.5" fill="none" stroke="#b04a40" stroke-width="1.1" stroke-linejoin="round"/>
<polyline points="275.1,767.4 283.5,764.8 292.0,763.2 293.6,769.0 296.2,774.1 298.7,781.7 305.4,787.5" fill="none" stroke="#b04a40" stroke-width="1.1" stroke-linejoin="round"/>
<polyline points="305.4,787.5 306.2,794.3 302.0,801.0 300.4,807.7 297.8,814.5 298.7,819.5 293.6,824.5 288.6,833.0 284.4,839.7 285.2,846.4 287.8,851.5 285.2,858.2 281.9,864.9 277.4,871.0 271.0,873.5 261.0,873.5 249.5,874.0 242.0,880.5 235.5,884.3 227.3,888.7 217.8,890.6 212.7,898.2 209.5,909.7 208.9,926.0 211.0,935.0 215.0,942.5 218.8,950.0 216.0,960.0 213.8,972.5 206.0,983.8" fill="none" stroke="#b04a40" stroke-width="1.1" stroke-linejoin="round"/>
<polyline points="277.4,871.0 283.8,876.7 292.7,884.3 300.3,889.4 302.5,891.0" fill="none" stroke="#b04a40" stroke-width="1.1" stroke-linejoin="round"/>
<polygon points="317.5,800.0 317.5,815.0 316.0,832.5 313.8,847.5 305.0,860.0 292.5,868.8 277.5,872.5 262.5,871.0 250.0,866.0 237.5,871.0 227.5,880.0 225.0,891.0 227.5,905.0 228.8,917.5 230.0,932.5 237.5,945.0 243.8,955.0 242.5,970.0 235.0,985.0 231.0,1000.0 228.8,1012.5 231.0,1015.0 240.0,1020.0 244.0,1012.5 257.5,1010.0 259.0,1000.0 272.5,1001.0 285.0,1000.0 300.0,1000.0 314.0,997.5 316.0,1000.0 330.0,996.0 330.0,987.5 322.5,972.5 317.5,965.0 317.5,957.5 306.0,958.8 301.0,950.0 304.0,940.0 302.5,930.0 292.5,927.5 284.0,923.8 284.0,916.0 291.0,906.0 300.0,898.8 302.5,891.0 312.5,886.0 316.0,891.0 320.0,896.0 335.0,893.8 352.5,887.5 360.0,877.5 366.0,872.5 366.0,868.0 357.5,860.0 348.8,847.5 346.0,835.0 342.5,820.0 330.0,805.0 320.0,797.0" fill="none" stroke="#7a6a14" stroke-width="2.2" stroke-linejoin="round"/>
<polygon points="350.0,666.0 342.5,675.0 335.0,685.0 332.5,695.0 330.0,705.0 320.0,712.5 314.5,720.0 314.5,735.0 316.0,750.0 317.5,765.0 317.5,785.0 318.8,795.0 330.0,805.0 342.5,820.0 346.0,835.0 348.8,847.5 357.5,860.0 364.8,866.9 364.9,866.9 364.9,866.8 365.0,866.7 365.1,866.6 365.2,866.5 374.2,859.0 374.2,858.9 374.3,858.9 386.7,851.5 396.4,841.8 401.3,827.1 401.3,827.0 401.4,826.9 401.4,826.8 401.5,826.7 401.6,826.6 401.7,826.5 401.8,826.4 401.9,826.3 402.0,826.3 414.1,821.4 418.9,814.3 419.0,814.2 424.9,806.7 431.4,796.8 431.5,796.7 431.6,796.6 431.7,796.5 431.8,796.4 431.9,796.4 432.0,796.3 438.4,793.5 435.2,791.0 435.1,791.0 435.0,790.9 434.9,790.8 434.9,790.6 434.8,790.5 434.8,790.4 434.7,790.3 434.7,790.1 434.7,790.0 434.7,782.5 434.7,782.4 434.7,782.2 434.8,782.1 439.8,767.1 439.8,767.0 439.9,766.9 439.9,766.8 440.0,766.7 440.1,766.6 440.2,766.5 440.3,766.4 440.4,766.4 447.2,762.6 437.5,757.5 425.0,750.0 412.5,742.5 402.5,732.5 397.5,720.0 396.0,707.5 398.8,695.0 400.0,680.0 393.8,670.0 382.5,665.0 362.5,663.8" fill="none" stroke="#32e61e" stroke-width="2.2" stroke-linejoin="round"/>
<polygon points="209.0,986.0 213.0,985.0 216.0,988.0 219.0,987.0 218.0,992.0 215.0,994.0 216.0,999.0 212.0,997.0 210.0,992.0" fill="#7a6a14" stroke="#7a6a14" stroke-width="0.8"/><circle cx="205.50" cy="820.00" r="3.8" fill="none" stroke="#222" stroke-width="0.7"/><circle cx="205.50" cy="820.00" r="1.45" fill="#222"/>
<text x="205.50" y="813.95" text-anchor="middle" font-size="9.0" font-weight="bold" fill="#222">Quetta</text>
<circle cx="75.50" cy="862.00" r="3.8" fill="none" stroke="#222" stroke-width="0.7"/><circle cx="75.50" cy="862.00" r="1.45" fill="#222"/>
<text x="75.75" y="856.20" text-anchor="middle" font-size="9.0" font-weight="bold" fill="#222">Nok Kundi</text>
<circle cx="192.50" cy="856.00" r="3.8" fill="none" stroke="#222" stroke-width="0.7"/><circle cx="192.50" cy="856.00" r="1.45" fill="#222"/>
<text x="197.50" y="866.70" text-anchor="start" font-size="9.0" font-weight="bold" fill="#222">Kalat</text>
<circle cx="192.50" cy="894.00" r="3.8" fill="none" stroke="#222" stroke-width="0.7"/><circle cx="192.50" cy="894.00" r="1.45" fill="#222"/>
<text x="193.00" y="887.20" text-anchor="middle" font-size="9.0" font-weight="bold" fill="#222">Khuzdar</text>
<circle cx="116.25" cy="918.75" r="3.8" fill="none" stroke="#222" stroke-width="0.7"/><circle cx="116.25" cy="918.75" r="1.45" fill="#222"/>
<text x="116.75" y="913.20" text-anchor="middle" font-size="9.0" font-weight="bold" fill="#222">Panjgur</text>
<circle cx="85.00" cy="949.25" r="3.8" fill="none" stroke="#222" stroke-width="0.7"/><circle cx="85.00" cy="949.25" r="1.45" fill="#222"/>
<text x="85.25" y="942.70" text-anchor="middle" font-size="9.0" font-weight="bold" fill="#222">Turbat</text>
<circle cx="193.75" cy="954.50" r="3.8" fill="none" stroke="#222" stroke-width="0.7"/><circle cx="193.75" cy="954.50" r="1.45" fill="#222"/>
<text x="193.75" y="948.70" text-anchor="middle" font-size="9.0" font-weight="bold" fill="#222">Uthal</text>
<circle cx="62.50" cy="975.00" r="3.8" fill="none" stroke="#222" stroke-width="0.7"/><circle cx="62.50" cy="975.00" r="1.45" fill="#222"/>
<text x="62.75" y="968.95" text-anchor="middle" font-size="9.0" font-weight="bold" fill="#222">Gwadar</text>
<circle cx="206.25" cy="982.00" r="3.8" fill="none" stroke="#222" stroke-width="0.7"/><circle cx="206.25" cy="982.00" r="1.45" fill="#222"/>
<text x="206.25" y="976.45" text-anchor="middle" font-size="9.0" font-weight="bold" fill="#222">Karachi</text>
<circle cx="228.75" cy="926.75" r="3.8" fill="none" stroke="#222" stroke-width="0.7"/><circle cx="228.75" cy="926.75" r="1.45" fill="#222"/>
<text x="228.50" y="920.70" text-anchor="middle" font-size="9.0" font-weight="bold" fill="#222">Dadu</text>
<circle cx="246.25" cy="967.00" r="3.8" fill="none" stroke="#222" stroke-width="0.7"/><circle cx="246.25" cy="967.00" r="1.45" fill="#222"/>
<text x="229.00" y="961.20" text-anchor="middle" font-size="9.0" font-weight="bold" fill="#222">Hyderabad</text>
<circle cx="341.75" cy="820.00" r="3.8" fill="none" stroke="#222" stroke-width="0.7"/><circle cx="341.75" cy="820.00" r="1.45" fill="#222"/>
<text x="335.00" y="813.95" text-anchor="middle" font-size="9.0" font-weight="bold" fill="#222">Multan</text>
<circle cx="349.25" cy="844.50" r="3.8" fill="none" stroke="#222" stroke-width="0.7"/><circle cx="349.25" cy="844.50" r="1.45" fill="#222"/>
<text x="344.50" y="856.95" text-anchor="end" font-size="9.0" font-weight="bold" fill="#222">Bahawalpur</text>
<circle cx="306.25" cy="874.25" r="3.8" fill="none" stroke="#222" stroke-width="0.7"/><circle cx="306.25" cy="874.25" r="1.45" fill="#222"/>
<text x="306.00" y="868.20" text-anchor="middle" font-size="9.0" font-weight="bold" fill="#222">Rahimyar Khan</text>
<circle cx="262.00" cy="896.25" r="3.8" fill="none" stroke="#222" stroke-width="0.7"/><circle cx="262.00" cy="896.25" r="1.45" fill="#222"/>
<text x="262.50" y="890.70" text-anchor="middle" font-size="9.0" font-weight="bold" fill="#222">Sukkur</text>
<circle cx="289.25" cy="968.00" r="3.8" fill="none" stroke="#222" stroke-width="0.7"/><circle cx="289.25" cy="968.00" r="1.45" fill="#222"/>
<text x="289.25" y="961.95" text-anchor="middle" font-size="9.0" font-weight="bold" fill="#222">Umarkot</text>
<circle cx="350.50" cy="648.00" r="3.8" fill="none" stroke="#222" stroke-width="0.7"/><circle cx="350.50" cy="648.00" r="1.45" fill="#222"/>
<text x="351.00" y="641.95" text-anchor="middle" font-size="9.0" font-weight="bold" fill="#222">Chitral</text>
<circle cx="428.00" cy="646.25" r="3.8" fill="none" stroke="#222" stroke-width="0.7"/><circle cx="428.00" cy="646.25" r="1.45" fill="#222"/>
<text x="428.50" y="640.20" text-anchor="middle" font-size="9.0" font-weight="bold" fill="#222">Gilgit</text>
<circle cx="469.00" cy="664.50" r="3.8" fill="none" stroke="#222" stroke-width="0.7"/><circle cx="469.00" cy="664.50" r="1.45" fill="#222"/>
<text x="469.25" y="658.70" text-anchor="middle" font-size="9.0" font-weight="bold" fill="#222">Skardu</text>
<circle cx="368.75" cy="682.00" r="3.8" fill="none" stroke="#222" stroke-width="0.7"/><circle cx="368.75" cy="682.00" r="1.45" fill="#222"/>
<text x="368.75" y="676.20" text-anchor="middle" font-size="9.0" font-weight="bold" fill="#222">Saidu Sharif</text>
<circle cx="403.75" cy="692.50" r="3.8" fill="none" stroke="#222" stroke-width="0.7"/><circle cx="403.75" cy="692.50" r="1.45" fill="#222"/>
<text x="397.50" y="686.95" text-anchor="middle" font-size="9.0" font-weight="bold" fill="#222">Muzaffarabad</text>
<circle cx="444.25" cy="701.25" r="3.8" fill="none" stroke="#222" stroke-width="0.7"/><circle cx="444.25" cy="701.25" r="1.45" fill="#222"/>
<text x="444.00" y="695.20" text-anchor="middle" font-size="9.0" font-weight="bold" fill="#222">Srinagar</text>
<circle cx="390.75" cy="713.75" r="3.8" fill="none" stroke="#222" stroke-width="0.7"/><circle cx="390.75" cy="713.75" r="1.45" fill="#222"/>
<text x="390.50" y="707.70" text-anchor="middle" font-size="9.0" font-weight="bold" fill="#222">Islamabad</text>
<circle cx="342.00" cy="718.25" r="3.8" fill="none" stroke="#222" stroke-width="0.7"/><circle cx="342.00" cy="718.25" r="1.45" fill="#222"/>
<text x="345.50" y="721.95" text-anchor="start" font-size="9.0" font-weight="bold" fill="#222">Kohat</text>
<circle cx="410.50" cy="737.50" r="3.8" fill="none" stroke="#222" stroke-width="0.7"/><circle cx="410.50" cy="737.50" r="1.45" fill="#222"/>
<text x="410.25" y="731.20" text-anchor="middle" font-size="9.0" font-weight="bold" fill="#222">Jhelum</text>
<circle cx="435.50" cy="749.50" r="3.8" fill="none" stroke="#222" stroke-width="0.7"/><circle cx="435.50" cy="749.50" r="1.45" fill="#222"/>
<text x="435.25" y="743.95" text-anchor="middle" font-size="9.0" font-weight="bold" fill="#222">Sialkot</text>
<circle cx="378.25" cy="762.50" r="3.8" fill="none" stroke="#222" stroke-width="0.7"/><circle cx="378.25" cy="762.50" r="1.45" fill="#222"/>
<text x="378.25" y="756.95" text-anchor="middle" font-size="9.0" font-weight="bold" fill="#222">Sargodha</text>
<circle cx="425.00" cy="775.50" r="3.8" fill="none" stroke="#222" stroke-width="0.7"/><circle cx="425.00" cy="775.50" r="1.45" fill="#222"/>
<text x="428.75" y="771.95" text-anchor="middle" font-size="9.0" font-weight="bold" fill="#222">Lahore</text>
<circle cx="428.75" cy="778.75" r="3.8" fill="none" stroke="#222" stroke-width="0.7"/><circle cx="428.75" cy="778.75" r="1.45" fill="#222"/>
<text x="430.50" y="782.70" text-anchor="start" font-size="9.0" font-weight="bold" fill="#222">Shekhupura</text>
<circle cx="391.25" cy="783.00" r="3.8" fill="none" stroke="#222" stroke-width="0.7"/><circle cx="391.25" cy="783.00" r="1.45" fill="#222"/>
<text x="390.25" y="777.45" text-anchor="middle" font-size="9.0" font-weight="bold" fill="#222">Faisalabad</text>
<circle cx="401.75" cy="801.75" r="3.8" fill="none" stroke="#222" stroke-width="0.7"/><circle cx="401.75" cy="801.75" r="1.45" fill="#222"/>
<text x="401.75" y="795.20" text-anchor="middle" font-size="9.0" font-weight="bold" fill="#222">Okara</text>
<circle cx="315.00" cy="734.50" r="3.8" fill="none" stroke="#222" stroke-width="0.7"/><circle cx="315.00" cy="734.50" r="1.45" fill="#222"/>
<text x="314.50" y="728.70" text-anchor="middle" font-size="9.0" font-weight="bold" fill="#222">Bannu</text>
<circle cx="324.50" cy="770.00" r="3.8" fill="none" stroke="#222" stroke-width="0.7"/><circle cx="324.50" cy="770.00" r="1.45" fill="#222"/>
<text x="324.00" y="764.45" text-anchor="middle" font-size="9.0" font-weight="bold" fill="#222">D. I. Khan</text>
<circle cx="281.25" cy="785.00" r="3.8" fill="none" stroke="#222" stroke-width="0.7"/><circle cx="281.25" cy="785.00" r="1.45" fill="#222"/>
<text x="281.25" y="778.95" text-anchor="middle" font-size="9.0" font-weight="bold" fill="#222">Zhob</text>
<circle cx="344.25" cy="704.50" r="3.8" fill="none" stroke="#222" stroke-width="0.7"/><circle cx="344.25" cy="704.50" r="1.45" fill="#222"/>
<text transform="translate(158.0 873.8) rotate(-32.2)" x="-3" y="4" font-size="12" font-weight="bold" fill="#b4141e" textLength="97.5" lengthAdjust="spacing">Balochistan</text>
<text transform="translate(346.0 828.8) rotate(-53.7)" x="-3" y="4" font-size="12" font-weight="bold" fill="#b4141e" textLength="54.9" lengthAdjust="spacing">Punjab</text>
<text transform="translate(330.0 717.5) rotate(-47.7)" x="-3" y="4" font-size="12" font-weight="bold" fill="#b4141e" textLength="30.3" lengthAdjust="spacing">KPK</text>
<text transform="translate(253 916) rotate(85)" x="0" y="0" font-size="11" font-weight="bold" fill="#c8141e" textLength="46" lengthAdjust="spacing">Sindh</text></g>
<g transform="matrix(1 0 0 1 435.7 0.5)"><polyline points="413.8,616.2 415.0,620.0 407.5,621.0 392.5,622.5 388.8,630.0 377.5,635.0 373.8,641.0 376.0,648.8 390.0,648.8 396.0,655.0 410.0,657.5 412.5,665.0 421.0,671.0 420.0,678.8 415.0,681.0 408.0,686.0 403.8,692.5 406.0,700.0 407.5,715.0 407.0,725.0 410.5,737.5 422.5,741.0 435.5,749.5 440.0,751.0 450.0,752.5 457.5,756.0" fill="none" stroke="#c0392b" stroke-width="1.1" stroke-linejoin="round"/>
<polyline points="390.8,713.8 397.5,707.5 402.5,697.5 403.8,692.5" fill="none" stroke="#c0392b" stroke-width="1.1" stroke-linejoin="round"/>
<polyline points="390.8,713.8 385.0,708.0 377.7,705.1 367.6,706.8 360.9,713.5 355.9,720.3 349.1,727.0 347.5,732.0 340.7,730.4 334.0,735.4 331.5,742.1 335.7,747.2 339.0,752.2 335.7,757.3 332.3,764.0 327.3,772.4 322.2,780.8 317.2,785.9 308.8,789.2 305.4,787.5" fill="none" stroke="#c0392b" stroke-width="1.1" stroke-linejoin="round"/>
<polyline points="275.1,767.4 283.5,764.8 292.0,763.2 293.6,769.0 296.2,774.1 298.7,781.7 305.4,787.5" fill="none" stroke="#c0392b" stroke-width="1.1" stroke-linejoin="round"/>
<polyline points="305.4,787.5 306.2,794.3 302.0,801.0 300.4,807.7 297.8,814.5 298.7,819.5 293.6,824.5 288.6,833.0 284.4,839.7 285.2,846.4 287.8,851.5 285.2,858.2 281.9,864.9 277.4,871.0 271.0,873.5 261.0,873.5 249.5,874.0 242.0,880.5 235.5,884.3 227.3,888.7 217.8,890.6 212.7,898.2 209.5,909.7 208.9,926.0 211.0,935.0 215.0,942.5 218.8,950.0 216.0,960.0 213.8,972.5 206.0,983.8" fill="none" stroke="#c0392b" stroke-width="1.1" stroke-linejoin="round"/>
<polyline points="277.4,871.0 283.8,876.7 292.7,884.3 300.3,889.4 302.5,891.0" fill="none" stroke="#c0392b" stroke-width="1.1" stroke-linejoin="round"/>
<polygon points="317.5,800.0 317.5,815.0 316.0,832.5 313.8,847.5 305.0,860.0 292.5,868.8 277.5,872.5 262.5,871.0 250.0,866.0 237.5,871.0 227.5,880.0 225.0,891.0 227.5,905.0 228.8,917.5 230.0,932.5 237.5,945.0 243.8,955.0 242.5,970.0 235.0,985.0 231.0,1000.0 228.8,1012.5 231.0,1015.0 240.0,1020.0 244.0,1012.5 257.5,1010.0 259.0,1000.0 272.5,1001.0 285.0,1000.0 300.0,1000.0 314.0,997.5 316.0,1000.0 330.0,996.0 330.0,987.5 322.5,972.5 317.5,965.0 317.5,957.5 306.0,958.8 301.0,950.0 304.0,940.0 302.5,930.0 292.5,927.5 284.0,923.8 284.0,916.0 291.0,906.0 300.0,898.8 302.5,891.0 312.5,886.0 316.0,891.0 320.0,896.0 335.0,893.8 352.5,887.5 360.0,877.5 366.0,872.5 366.0,868.0 357.5,860.0 348.8,847.5 346.0,835.0 342.5,820.0 330.0,805.0 320.0,797.0" fill="none" stroke="#7a6a14" stroke-width="2.2" stroke-linejoin="round"/>
<polygon points="350.0,666.0 342.5,675.0 335.0,685.0 332.5,695.0 330.0,705.0 320.0,712.5 314.5,720.0 314.5,735.0 316.0,750.0 317.5,765.0 317.5,785.0 318.8,795.0 330.0,805.0 342.5,820.0 346.0,835.0 348.8,847.5 357.5,860.0 364.8,866.9 364.9,866.9 364.9,866.8 365.0,866.7 365.1,866.6 365.2,866.5 374.2,859.0 374.2,858.9 374.3,858.9 386.7,851.5 396.4,841.8 401.3,827.1 401.3,827.0 401.4,826.9 401.4,826.8 401.5,826.7 401.6,826.6 401.7,826.5 401.8,826.4 401.9,826.3 402.0,826.3 414.1,821.4 418.9,814.3 419.0,814.2 424.9,806.7 431.4,796.8 431.5,796.7 431.6,796.6 431.7,796.5 431.8,796.4 431.9,796.4 432.0,796.3 438.4,793.5 435.2,791.0 435.1,791.0 435.0,790.9 434.9,790.8 434.9,790.6 434.8,790.5 434.8,790.4 434.7,790.3 434.7,790.1 434.7,790.0 434.7,782.5 434.7,782.4 434.7,782.2 434.8,782.1 439.8,767.1 439.8,767.0 439.9,766.9 439.9,766.8 440.0,766.7 440.1,766.6 440.2,766.5 440.3,766.4 440.4,766.4 447.2,762.6 437.5,757.5 425.0,750.0 412.5,742.5 402.5,732.5 397.5,720.0 396.0,707.5 398.8,695.0 400.0,680.0 393.8,670.0 382.5,665.0 362.5,663.8" fill="none" stroke="#32e61e" stroke-width="2.2" stroke-linejoin="round"/>
<polygon points="209.0,986.0 213.0,985.0 216.0,988.0 219.0,987.0 218.0,992.0 215.0,994.0 216.0,999.0 212.0,997.0 210.0,992.0" fill="#7a6a14" stroke="#7a6a14" stroke-width="0.8"/><circle cx="205.50" cy="820.00" r="3.8" fill="none" stroke="#222" stroke-width="0.7"/><circle cx="205.50" cy="820.00" r="1.45" fill="#222"/>
<text x="205.50" y="813.95" text-anchor="middle" font-size="9.0" font-weight="bold" fill="#222">Quetta</text>
<circle cx="75.50" cy="862.00" r="3.8" fill="none" stroke="#222" stroke-width="0.7"/><circle cx="75.50" cy="862.00" r="1.45" fill="#222"/>
<text x="75.75" y="856.20" text-anchor="middle" font-size="9.0" font-weight="bold" fill="#222">Nok Kundi</text>
<circle cx="192.50" cy="856.00" r="3.8" fill="none" stroke="#222" stroke-width="0.7"/><circle cx="192.50" cy="856.00" r="1.45" fill="#222"/>
<text x="197.50" y="866.70" text-anchor="start" font-size="9.0" font-weight="bold" fill="#222">Kalat</text>
<circle cx="192.50" cy="894.00" r="3.8" fill="none" stroke="#222" stroke-width="0.7"/><circle cx="192.50" cy="894.00" r="1.45" fill="#222"/>
<text x="193.00" y="887.20" text-anchor="middle" font-size="9.0" font-weight="bold" fill="#222">Khuzdar</text>
<circle cx="116.25" cy="918.75" r="3.8" fill="none" stroke="#222" stroke-width="0.7"/><circle cx="116.25" cy="918.75" r="1.45" fill="#222"/>
<text x="116.75" y="913.20" text-anchor="middle" font-size="9.0" font-weight="bold" fill="#222">Panjgur</text>
<circle cx="85.00" cy="949.25" r="3.8" fill="none" stroke="#222" stroke-width="0.7"/><circle cx="85.00" cy="949.25" r="1.45" fill="#222"/>
<text x="85.25" y="942.70" text-anchor="middle" font-size="9.0" font-weight="bold" fill="#222">Turbat</text>
<circle cx="193.75" cy="954.50" r="3.8" fill="none" stroke="#222" stroke-width="0.7"/><circle cx="193.75" cy="954.50" r="1.45" fill="#222"/>
<text x="193.75" y="948.70" text-anchor="middle" font-size="9.0" font-weight="bold" fill="#222">Uthal</text>
<circle cx="62.50" cy="975.00" r="3.8" fill="none" stroke="#222" stroke-width="0.7"/><circle cx="62.50" cy="975.00" r="1.45" fill="#222"/>
<text x="62.75" y="968.95" text-anchor="middle" font-size="9.0" font-weight="bold" fill="#222">Gwadar</text>
<circle cx="206.25" cy="982.00" r="3.8" fill="none" stroke="#222" stroke-width="0.7"/><circle cx="206.25" cy="982.00" r="1.45" fill="#222"/>
<text x="206.25" y="976.45" text-anchor="middle" font-size="9.0" font-weight="bold" fill="#222">Karachi</text>
<circle cx="228.75" cy="926.75" r="3.8" fill="none" stroke="#222" stroke-width="0.7"/><circle cx="228.75" cy="926.75" r="1.45" fill="#222"/>
<text x="228.50" y="920.70" text-anchor="middle" font-size="9.0" font-weight="bold" fill="#222">Dadu</text>
<circle cx="246.25" cy="967.00" r="3.8" fill="none" stroke="#222" stroke-width="0.7"/><circle cx="246.25" cy="967.00" r="1.45" fill="#222"/>
<text x="229.00" y="961.20" text-anchor="middle" font-size="9.0" font-weight="bold" fill="#222">Hyderabad</text>
<circle cx="341.75" cy="820.00" r="3.8" fill="none" stroke="#222" stroke-width="0.7"/><circle cx="341.75" cy="820.00" r="1.45" fill="#222"/>
<text x="335.00" y="813.95" text-anchor="middle" font-size="9.0" font-weight="bold" fill="#222">Multan</text>
<circle cx="349.25" cy="844.50" r="3.8" fill="none" stroke="#222" stroke-width="0.7"/><circle cx="349.25" cy="844.50" r="1.45" fill="#222"/>
<text x="344.50" y="856.95" text-anchor="end" font-size="9.0" font-weight="bold" fill="#222">Bahawalpur</text>
<circle cx="306.25" cy="874.25" r="3.8" fill="none" stroke="#222" stroke-width="0.7"/><circle cx="306.25" cy="874.25" r="1.45" fill="#222"/>
<text x="306.00" y="868.20" text-anchor="middle" font-size="9.0" font-weight="bold" fill="#222">Rahimyar Khan</text>
<circle cx="262.00" cy="896.25" r="3.8" fill="none" stroke="#222" stroke-width="0.7"/><circle cx="262.00" cy="896.25" r="1.45" fill="#222"/>
<text x="262.50" y="890.70" text-anchor="middle" font-size="9.0" font-weight="bold" fill="#222">Sukkur</text>
<circle cx="289.25" cy="968.00" r="3.8" fill="none" stroke="#222" stroke-width="0.7"/><circle cx="289.25" cy="968.00" r="1.45" fill="#222"/>
<text x="289.25" y="961.95" text-anchor="middle" font-size="9.0" font-weight="bold" fill="#222">Umarkot</text>
<circle cx="350.50" cy="648.00" r="3.8" fill="none" stroke="#222" stroke-width="0.7"/><circle cx="350.50" cy="648.00" r="1.45" fill="#222"/>
<text x="351.00" y="641.95" text-anchor="middle" font-size="9.0" font-weight="bold" fill="#222">Chitral</text>
<circle cx="428.00" cy="646.25" r="3.8" fill="none" stroke="#222" stroke-width="0.7"/><circle cx="428.00" cy="646.25" r="1.45" fill="#222"/>
<text x="428.50" y="640.20" text-anchor="middle" font-size="9.0" font-weight="bold" fill="#222">Gilgit</text>
<circle cx="469.00" cy="664.50" r="3.8" fill="none" stroke="#222" stroke-width="0.7"/><circle cx="469.00" cy="664.50" r="1.45" fill="#222"/>
<text x="469.25" y="658.70" text-anchor="middle" font-size="9.0" font-weight="bold" fill="#222">Skardu</text>
<circle cx="368.75" cy="682.00" r="3.8" fill="none" stroke="#222" stroke-width="0.7"/><circle cx="368.75" cy="682.00" r="1.45" fill="#222"/>
<text x="368.75" y="676.20" text-anchor="middle" font-size="9.0" font-weight="bold" fill="#222">Saidu Sharif</text>
<circle cx="403.75" cy="692.50" r="3.8" fill="none" stroke="#222" stroke-width="0.7"/><circle cx="403.75" cy="692.50" r="1.45" fill="#222"/>
<text x="397.50" y="686.95" text-anchor="middle" font-size="9.0" font-weight="bold" fill="#222">Muzaffarabad</text>
<circle cx="444.25" cy="701.25" r="3.8" fill="none" stroke="#222" stroke-width="0.7"/><circle cx="444.25" cy="701.25" r="1.45" fill="#222"/>
<text x="444.00" y="695.20" text-anchor="middle" font-size="9.0" font-weight="bold" fill="#222">Srinagar</text>
<circle cx="390.75" cy="713.75" r="3.8" fill="none" stroke="#222" stroke-width="0.7"/><circle cx="390.75" cy="713.75" r="1.45" fill="#222"/>
<text x="390.50" y="707.70" text-anchor="middle" font-size="9.0" font-weight="bold" fill="#222">Islamabad</text>
<circle cx="342.00" cy="718.25" r="3.8" fill="none" stroke="#222" stroke-width="0.7"/><circle cx="342.00" cy="718.25" r="1.45" fill="#222"/>
<text x="345.50" y="721.95" text-anchor="start" font-size="9.0" font-weight="bold" fill="#222">Kohat</text>
<circle cx="410.50" cy="737.50" r="3.8" fill="none" stroke="#222" stroke-width="0.7"/><circle cx="410.50" cy="737.50" r="1.45" fill="#222"/>
<text x="410.25" y="731.20" text-anchor="middle" font-size="9.0" font-weight="bold" fill="#222">Jhelum</text>
<circle cx="435.50" cy="749.50" r="3.8" fill="none" stroke="#222" stroke-width="0.7"/><circle cx="435.50" cy="749.50" r="1.45" fill="#222"/>
<text x="435.25" y="743.95" text-anchor="middle" font-size="9.0" font-weight="bold" fill="#222">Sialkot</text>
<circle cx="378.25" cy="762.50" r="3.8" fill="none" stroke="#222" stroke-width="0.7"/><circle cx="378.25" cy="762.50" r="1.45" fill="#222"/>
<text x="378.25" y="756.95" text-anchor="middle" font-size="9.0" font-weight="bold" fill="#222">Sargodha</text>
<circle cx="425.00" cy="775.50" r="3.8" fill="none" stroke="#222" stroke-width="0.7"/><circle cx="425.00" cy="775.50" r="1.45" fill="#222"/>
<text x="428.75" y="771.95" text-anchor="middle" font-size="9.0" font-weight="bold" fill="#222">Lahore</text>
<circle cx="428.75" cy="778.75" r="3.8" fill="none" stroke="#222" stroke-width="0.7"/><circle cx="428.75" cy="778.75" r="1.45" fill="#222"/>
<text x="430.50" y="782.70" text-anchor="start" font-size="9.0" font-weight="bold" fill="#222">Shekhupura</text>
<circle cx="391.25" cy="783.00" r="3.8" fill="none" stroke="#222" stroke-width="0.7"/><circle cx="391.25" cy="783.00" r="1.45" fill="#222"/>
<text x="390.25" y="777.45" text-anchor="middle" font-size="9.0" font-weight="bold" fill="#222">Faisalabad</text>
<circle cx="401.75" cy="801.75" r="3.8" fill="none" stroke="#222" stroke-width="0.7"/><circle cx="401.75" cy="801.75" r="1.45" fill="#222"/>
<text x="401.75" y="795.20" text-anchor="middle" font-size="9.0" font-weight="bold" fill="#222">Okara</text>
<circle cx="315.00" cy="734.50" r="3.8" fill="none" stroke="#222" stroke-width="0.7"/><circle cx="315.00" cy="734.50" r="1.45" fill="#222"/>
<text x="314.50" y="728.70" text-anchor="middle" font-size="9.0" font-weight="bold" fill="#222">Bannu</text>
<circle cx="324.50" cy="770.00" r="3.8" fill="none" stroke="#222" stroke-width="0.7"/><circle cx="324.50" cy="770.00" r="1.45" fill="#222"/>
<text x="324.00" y="764.45" text-anchor="middle" font-size="9.0" font-weight="bold" fill="#222">D. I. Khan</text>
<circle cx="281.25" cy="785.00" r="3.8" fill="none" stroke="#222" stroke-width="0.7"/><circle cx="281.25" cy="785.00" r="1.45" fill="#222"/>
<text x="281.25" y="778.95" text-anchor="middle" font-size="9.0" font-weight="bold" fill="#222">Zhob</text>
<circle cx="344.25" cy="704.50" r="3.8" fill="none" stroke="#222" stroke-width="0.7"/><circle cx="344.25" cy="704.50" r="1.45" fill="#222"/>
<text transform="translate(158.0 873.8) rotate(-32.2)" x="-3" y="4" font-size="12" font-weight="bold" fill="#b4141e" textLength="97.5" lengthAdjust="spacing">Balochistan</text>
<text transform="translate(346.0 828.8) rotate(-53.7)" x="-3" y="4" font-size="12" font-weight="bold" fill="#b4141e" textLength="54.9" lengthAdjust="spacing">Punjab</text>
<text transform="translate(330.0 717.5) rotate(-47.7)" x="-3" y="4" font-size="12" font-weight="bold" fill="#b4141e" textLength="30.3" lengthAdjust="spacing">KPK</text>
<text transform="translate(253 916) rotate(85)" x="0" y="0" font-size="11" font-weight="bold" fill="#c8141e" textLength="46" lengthAdjust="spacing">Sindh</text></g>
<text x="191.5" y="36.9" font-size="19.8" text-anchor="middle" font-weight="bold" fill="#111" textLength="208.4" lengthAdjust="spacingAndGlyphs" >Average AOD Winter,</text>
<rect x="87.3" y="39.2" width="208.4" height="1.6" fill="#111"/>
<text x="191.2" y="59.6" font-size="19.8" text-anchor="middle" font-weight="bold" fill="#111" textLength="115.9" lengthAdjust="spacingAndGlyphs" >(2012- 2015)</text>
<rect x="133.3" y="62.2" width="115.9" height="1.6" fill="#111"/>
<text x="617.4" y="29.5" font-size="19.8" text-anchor="middle" font-weight="bold" fill="#111" textLength="212.0" lengthAdjust="spacingAndGlyphs" >Average UVAI OMI Winter,</text>
<rect x="511.4" y="31.8" width="212.0" height="1.6" fill="#111"/>
<text x="617.9" y="52.0" font-size="19.8" text-anchor="middle" font-weight="bold" fill="#111" textLength="101.7" lengthAdjust="spacingAndGlyphs" >(2012 - 2015)</text>
<rect x="567.0" y="54.6" width="101.7" height="1.6" fill="#111"/>
<text x="195.1" y="595.5" font-size="19.8" text-anchor="middle" font-weight="bold" fill="#111" textLength="200.2" lengthAdjust="spacingAndGlyphs" >Average ATL Winter,</text>
<rect x="95.0" y="597.8" width="200.2" height="1.6" fill="#111"/>
<text x="195.5" y="618.8" font-size="19.8" text-anchor="middle" font-weight="bold" fill="#111" textLength="121.6" lengthAdjust="spacingAndGlyphs" >(2012 - 2015)</text>
<rect x="134.7" y="621.4" width="121.6" height="1.6" fill="#111"/>
<text x="670.0" y="595.5" font-size="19.8" text-anchor="middle" font-weight="bold" fill="#111" textLength="249.6" lengthAdjust="spacingAndGlyphs" >Average UVAI OMI Types,</text>
<rect x="545.2" y="597.8" width="249.6" height="1.6" fill="#111"/>
<text x="670.4" y="618.8" font-size="19.8" text-anchor="middle" font-weight="bold" fill="#111" textLength="121.4" lengthAdjust="spacingAndGlyphs" >(2012 - 2015)</text>
<rect x="609.7" y="621.4" width="121.4" height="1.6" fill="#111"/>
<text x="19.4" y="428.5" font-size="25.0" text-anchor="start" font-weight="bold" fill="#111" textLength="33.0" lengthAdjust="spacingAndGlyphs" >(a)</text>
<text x="974.0" y="426.1" font-size="25.0" text-anchor="start" font-weight="bold" fill="#111" textLength="33.0" lengthAdjust="spacingAndGlyphs" >(b)</text>
<text x="29.3" y="1010.7" font-size="25.0" text-anchor="start" font-weight="bold" fill="#111" textLength="33.0" lengthAdjust="spacingAndGlyphs" >(c)</text>
<text x="960.5" y="1011.5" font-size="25.0" text-anchor="start" font-weight="bold" fill="#111" textLength="33.0" lengthAdjust="spacingAndGlyphs" >(d)</text>
<rect x="15.0" y="438.4" width="532.6" height="84.4" fill="#fff" stroke="#222" stroke-width="1.2"/>
<rect x="164.0" y="441.0" width="380.0" height="21.4" fill="#000" stroke="none" stroke-width="1"/>
<text x="354.5" y="458.3" font-size="16.4" text-anchor="middle" font-weight="bold" fill="#fff" textLength="376.0" lengthAdjust="spacingAndGlyphs" stroke="#fff" stroke-width="0.5">Aerosol Optical Depth (AOD), MODIS</text>
<rect x="166.0" y="460.4" width="377.0" height="1.2" fill="#fff" stroke="none" stroke-width="1"/>
<rect x="164.0" y="463.6" width="380.0" height="1.2" fill="#000" stroke="none" stroke-width="1"/>
<rect x="164.5" y="473.8" width="28.6" height="26.7" fill="#fdfbff" stroke="#c8c8c8" stroke-width="1"/>
<text x="179.0" y="517.5" font-size="13.2" text-anchor="middle" font-weight="bold" fill="#111" textLength="30.0" lengthAdjust="spacingAndGlyphs" >0.00</text>
<rect x="202.8" y="473.8" width="28.6" height="26.7" fill="#ff55f5" stroke="#c8c8c8" stroke-width="1"/>
<text x="217.3" y="517.5" font-size="13.2" text-anchor="middle" font-weight="bold" fill="#111" textLength="21.5" lengthAdjust="spacingAndGlyphs" >0.2</text>
<rect x="241.2" y="473.8" width="28.6" height="26.7" fill="#8000ff" stroke="#c8c8c8" stroke-width="1"/>
<text x="255.7" y="517.5" font-size="13.2" text-anchor="middle" font-weight="bold" fill="#111" textLength="21.5" lengthAdjust="spacingAndGlyphs" >0.3</text>
<rect x="279.6" y="473.8" width="28.6" height="26.7" fill="#3264ff" stroke="#c8c8c8" stroke-width="1"/>
<text x="294.1" y="517.5" font-size="13.2" text-anchor="middle" font-weight="bold" fill="#111" textLength="21.5" lengthAdjust="spacingAndGlyphs" >0.4</text>
<rect x="317.9" y="473.8" width="28.6" height="26.7" fill="#20f0e8" stroke="#c8c8c8" stroke-width="1"/>
<text x="332.4" y="517.5" font-size="13.2" text-anchor="middle" font-weight="bold" fill="#111" textLength="21.5" lengthAdjust="spacingAndGlyphs" >0.5</text>
<rect x="356.2" y="473.8" width="28.6" height="26.7" fill="#20f020" stroke="#c8c8c8" stroke-width="1"/>
<text x="370.8" y="517.5" font-size="13.2" text-anchor="middle" font-weight="bold" fill="#111" textLength="21.5" lengthAdjust="spacingAndGlyphs" >0.6</text>
<rect x="394.6" y="473.8" width="28.6" height="26.7" fill="#b8f510" stroke="#c8c8c8" stroke-width="1"/>
<text x="409.1" y="517.5" font-size="13.2" text-anchor="middle" font-weight="bold" fill="#111" textLength="21.5" lengthAdjust="spacingAndGlyphs" >0.7</text>
<rect x="432.9" y="473.8" width="28.6" height="26.7" fill="#ffc000" stroke="#c8c8c8" stroke-width="1"/>
<text x="447.4" y="517.5" font-size="13.2" text-anchor="middle" font-weight="bold" fill="#111" textLength="21.5" lengthAdjust="spacingAndGlyphs" >0.8</text>
<rect x="471.3" y="473.8" width="28.6" height="26.7" fill="#e06000" stroke="#c8c8c8" stroke-width="1"/>
<text x="485.8" y="517.5" font-size="13.2" text-anchor="middle" font-weight="bold" fill="#111" textLength="21.5" lengthAdjust="spacingAndGlyphs" >0.9</text>
<rect x="509.7" y="473.8" width="28.6" height="26.7" fill="#800000" stroke="#c8c8c8" stroke-width="1"/>
<text x="524.2" y="517.5" font-size="13.2" text-anchor="middle" font-weight="bold" fill="#111" textLength="21.5" lengthAdjust="spacingAndGlyphs" >1.3</text>
<rect x="18.6" y="482.3" width="31.4" height="13.4" fill="#fff" stroke="#222" stroke-width="1.2"/>
<text x="55.0" y="493.0" font-size="9.5" text-anchor="start" font-weight="bold" fill="#111" textLength="97.0" lengthAdjust="spacingAndGlyphs" >Pakistan Boundary</text>
<rect x="18.6" y="500.0" width="31.4" height="14.3" fill="#fff" stroke="#b22222" stroke-width="1.2"/>
<text x="55.0" y="511.0" font-size="9.5" text-anchor="start" font-weight="bold" fill="#111" textLength="98.0" lengthAdjust="spacingAndGlyphs" >Province Boundary</text>
<rect x="556.5" y="438.0" width="457.1" height="83.6" fill="#fff" stroke="#222" stroke-width="1.2"/>
<rect x="568.4" y="438.6" width="146.6" height="21.4" fill="#000" stroke="none" stroke-width="1"/>
<text x="641.7" y="457.8" font-size="25.0" text-anchor="middle" font-weight="bold" fill="#fff" style='font-family:"Liberation Serif",serif' textLength="106.0" lengthAdjust="spacingAndGlyphs" >OMI - UVAI</text>
<circle cx="748.0" cy="449.8" r="5.5" fill="#fff" stroke="#000" stroke-width="1.0"/><circle cx="748.0" cy="449.8" r="2.2" fill="#000"/>
<text x="769.0" y="453.0" font-size="8.6" text-anchor="start" font-weight="bold" fill="#111" textLength="60.0" lengthAdjust="spacingAndGlyphs" >Major Cities</text>
<rect x="569.3" y="462.5" width="36.9" height="25.1" fill="#2a8fc7" stroke="#9a9a9a" stroke-width="0.8"/>
<text x="588.7" y="513.5" font-size="19.5" text-anchor="middle" font-weight="bold" fill="#111" textLength="41.0" lengthAdjust="spacingAndGlyphs" >0.69</text>
<rect x="619.4" y="462.5" width="36.9" height="25.1" fill="#6ba5b0" stroke="#9a9a9a" stroke-width="0.8"/>
<text x="637.8" y="513.5" font-size="19.5" text-anchor="middle" font-weight="bold" fill="#111" textLength="41.0" lengthAdjust="spacingAndGlyphs" >0.80</text>
<rect x="670.0" y="462.5" width="36.9" height="25.1" fill="#9dc09b" stroke="#9a9a9a" stroke-width="0.8"/>
<text x="685.0" y="513.5" font-size="19.5" text-anchor="middle" font-weight="bold" fill="#111" textLength="41.0" lengthAdjust="spacingAndGlyphs" >0.90</text>
<rect x="720.5" y="462.5" width="36.9" height="25.1" fill="#cfe08a" stroke="#9a9a9a" stroke-width="0.8"/>
<text x="737.0" y="513.5" font-size="19.5" text-anchor="middle" font-weight="bold" fill="#111" textLength="41.0" lengthAdjust="spacingAndGlyphs" >1.00</text>
<rect x="770.6" y="462.5" width="36.9" height="25.1" fill="#fbfb6a" stroke="#9a9a9a" stroke-width="0.8"/>
<text x="784.0" y="513.5" font-size="19.5" text-anchor="middle" font-weight="bold" fill="#111" textLength="41.0" lengthAdjust="spacingAndGlyphs" >1.13</text>
<rect x="821.0" y="462.5" width="36.9" height="25.1" fill="#fcc04a" stroke="#9a9a9a" stroke-width="0.8"/>
<text x="835.0" y="513.5" font-size="19.5" text-anchor="middle" font-weight="bold" fill="#111" textLength="41.0" lengthAdjust="spacingAndGlyphs" >1.19</text>
<rect x="872.0" y="462.5" width="36.9" height="25.1" fill="#fb8c34" stroke="#9a9a9a" stroke-width="0.8"/>
<text x="886.0" y="513.5" font-size="19.5" text-anchor="middle" font-weight="bold" fill="#111" textLength="41.0" lengthAdjust="spacingAndGlyphs" >1.32</text>
<rect x="922.0" y="462.5" width="36.9" height="25.1" fill="#f05a28" stroke="#9a9a9a" stroke-width="0.8"/>
<text x="938.0" y="513.5" font-size="19.5" text-anchor="middle" font-weight="bold" fill="#111" textLength="41.0" lengthAdjust="spacingAndGlyphs" >1.57</text>
<rect x="972.5" y="462.5" width="36.9" height="25.1" fill="#e8141c" stroke="#9a9a9a" stroke-width="0.8"/>
<text x="988.0" y="513.5" font-size="19.5" text-anchor="middle" font-weight="bold" fill="#111" textLength="41.0" lengthAdjust="spacingAndGlyphs" >2.05</text>
<rect x="23.0" y="1030.0" width="513.2" height="94.0" fill="#fff" stroke="#666" stroke-width="1.4"/>
<rect x="25.0" y="1031.5" width="128.0" height="24.0" fill="#000" stroke="none" stroke-width="1"/>
<text x="83.5" y="1050.5" font-size="25.0" text-anchor="middle" font-weight="bold" fill="#fff" style='font-family:"Liberation Serif",serif' textLength="110.0" lengthAdjust="spacingAndGlyphs" >MODIS ATL</text>
<circle cx="40.9" cy="1068.7" r="7.4" fill="#fff" stroke="#000" stroke-width="1.3"/><circle cx="40.9" cy="1068.7" r="3.0" fill="#000"/>
<text x="64.7" y="1072.8" font-size="11.4" text-anchor="start" font-weight="bold" fill="#111" textLength="68.3" lengthAdjust="spacingAndGlyphs" >Major Cities</text>
<rect x="27.8" y="1084.3" width="28.7" height="11.7" fill="#fff" stroke="#33e61e" stroke-width="2"/>
<text x="61.4" y="1094.2" font-size="9.6" text-anchor="start" font-weight="normal" fill="#111" textLength="89.4" lengthAdjust="spacingAndGlyphs" stroke="#111" stroke-width="0.25">Upper Indus Plains</text>
<rect x="27.8" y="1104.8" width="28.7" height="12.2" fill="#fff" stroke="#7a6a14" stroke-width="2"/>
<text x="61.4" y="1114.2" font-size="9.6" text-anchor="start" font-weight="normal" fill="#111" textLength="88.5" lengthAdjust="spacingAndGlyphs" stroke="#111" stroke-width="0.25">Lower Indus Plains</text>
<rect x="160.4" y="1061.6" width="29.6" height="15.0" fill="#fff" stroke="#222" stroke-width="1.4"/>
<text x="196.0" y="1073.2" font-size="11.4" text-anchor="start" font-weight="bold" fill="#111" textLength="109.0" lengthAdjust="spacingAndGlyphs" >Pakistan Boundary</text>
<rect x="160.4" y="1083.4" width="29.6" height="15.1" fill="#fff" stroke="#b22222" stroke-width="1.4"/>
<text x="196.0" y="1094.5" font-size="11.4" text-anchor="start" font-weight="bold" fill="#111" textLength="110.0" lengthAdjust="spacingAndGlyphs" >Province Boundary</text>
<rect x="160.4" y="1104.0" width="29.6" height="14.4" fill="#fff" stroke="#c8c8c8" stroke-width="1.4"/>
<text x="198.0" y="1116.0" font-size="11.4" text-anchor="start" font-weight="bold" fill="#111" textLength="93.0" lengthAdjust="spacingAndGlyphs" >Clouds/No Data</text>
<rect x="313.6" y="1043.2" width="34.8" height="15.1" fill="#0a5ae6" stroke="#aaa" stroke-width="0.8"/>
<text x="355.2" y="1055.4" font-size="11.2" text-anchor="start" font-weight="bold" fill="#111" textLength="81.0" lengthAdjust="spacingAndGlyphs" >1- Continental</text>
<rect x="313.6" y="1064.3" width="34.8" height="15.0" fill="#19ffc8" stroke="#aaa" stroke-width="0.8"/>
<text x="355.2" y="1076.0" font-size="11.2" text-anchor="start" font-weight="bold" fill="#111" textLength="165.0" lengthAdjust="spacingAndGlyphs" >2- Moderate Absorption Fine</text>
<rect x="313.6" y="1084.8" width="34.8" height="15.2" fill="#ffff00" stroke="#aaa" stroke-width="0.8"/>
<text x="355.2" y="1096.5" font-size="11.2" text-anchor="start" font-weight="bold" fill="#111" textLength="150.0" lengthAdjust="spacingAndGlyphs" >3- Strong Absorption Fine</text>
<rect x="313.6" y="1105.3" width="34.8" height="15.1" fill="#ff0000" stroke="#aaa" stroke-width="0.8"/>
<text x="355.2" y="1117.5" font-size="11.2" text-anchor="start" font-weight="bold" fill="#111" textLength="142.0" lengthAdjust="spacingAndGlyphs" >4- Weak Absorption Fine</text>
<rect x="550.3" y="1029.8" width="462.4" height="94.0" fill="#fff" stroke="#111" stroke-width="1.5"/>
<rect x="552.7" y="1031.7" width="189.9" height="26.1" fill="#000" stroke="none" stroke-width="1"/>
<text x="660.2" y="1052.5" font-size="23.0" text-anchor="middle" font-weight="bold" fill="#fff" style='font-family:"Liberation Serif",serif' textLength="160.0" lengthAdjust="spacingAndGlyphs" >OMI - UVAI Type</text>
<circle cx="571.7" cy="1070.0" r="7.6" fill="#fff" stroke="#000" stroke-width="1.3"/><circle cx="571.7" cy="1070.0" r="3.0" fill="#000"/>
<text x="596.2" y="1073.5" font-size="9.8" text-anchor="start" font-weight="bold" fill="#111" textLength="68.3" lengthAdjust="spacingAndGlyphs" >Major Cities</text>
<rect x="559.5" y="1085.4" width="28.5" height="12.0" fill="#fff" stroke="#33e61e" stroke-width="2"/>
<text x="596.9" y="1096.0" font-size="12.6" text-anchor="start" font-weight="normal" fill="#111" textLength="119.0" lengthAdjust="spacingAndGlyphs" stroke="#111" stroke-width="0.3">Upper Indus Plains</text>
<rect x="559.5" y="1106.2" width="28.5" height="12.2" fill="#fff" stroke="#7a6a14" stroke-width="2"/>
<text x="596.9" y="1116.0" font-size="12.6" text-anchor="start" font-weight="normal" fill="#111" textLength="118.0" lengthAdjust="spacingAndGlyphs" stroke="#111" stroke-width="0.3">Lower Indus Plains</text>
<circle cx="918.1" cy="1052.1" r="11.3" fill="none" stroke="#ee1111" stroke-width="2.6"/>
<text x="942.7" y="1057.5" font-size="16.0" text-anchor="start" font-weight="bold" fill="#111" style='font-family:"Liberation Serif",serif' textLength="34.5" lengthAdjust="spacingAndGlyphs" >Fire</text>
<rect x="815.6" y="1071.0" width="55.3" height="26.0" fill="#bfd1fb" stroke="#888" stroke-width="1"/>
<rect x="881.3" y="1071.0" width="54.7" height="26.0" fill="#ffffc0" stroke="#888" stroke-width="1"/>
<rect x="943.2" y="1071.0" width="55.3" height="26.0" fill="#b0b0b0" stroke="#999" stroke-width="1"/>
<text x="756.5" y="1116.5" font-size="18.0" text-anchor="start" font-weight="bold" fill="#111" style='font-family:"Liberation Serif",serif' textLength="124.8" lengthAdjust="spacingAndGlyphs" >Sulfate/Nitrate</text>
<text x="892.0" y="1116.5" font-size="16.5" text-anchor="start" font-weight="bold" fill="#111" style='font-family:"Liberation Serif",serif' textLength="38.0" lengthAdjust="spacingAndGlyphs" >Dust</text>
<text x="945.5" y="1116.5" font-size="16.5" text-anchor="start" font-weight="bold" fill="#111" style='font-family:"Liberation Serif",serif' textLength="54.0" lengthAdjust="spacingAndGlyphs" >Smoke</text>
</svg></body></html>
